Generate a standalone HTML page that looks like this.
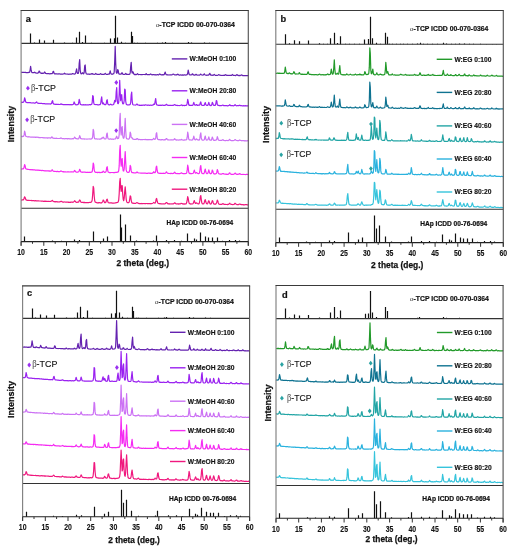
<!DOCTYPE html>
<html><head><meta charset="utf-8"><title>XRD patterns</title>
<style>html,body{margin:0;padding:0;background:#fff;}svg{display:block;}text{font-family:"Liberation Sans", Arial, sans-serif;}</style>
</head><body>
<svg width="512" height="550" viewBox="0 0 512 550">
<rect width="512" height="550" fill="#fff"/>
<path d="M30.5,43.4V33.4M34.5,43.4V42.4M39.5,43.4V39.4M44.5,43.4V40.4M53.5,43.4V39.7M64.5,43.4V42.4M68.5,43.4V42.9M72.5,43.4V42.8M76.5,43.4V37.4M79.5,43.4V31.8M82.5,43.4V42.1M85.5,43.4V35.4M91.5,43.4V42.8M94.5,43.4V42.9M100.5,43.4V42.9M104.5,43.4V42.8M110.5,43.4V38.6M114.5,43.4V38.2M115.5,43.4V15.8M117.5,43.4V37.4M121.5,43.4V41.8M125.5,43.4V42.8M131.5,43.4V31.8M132.5,43.4V35.9M134.5,43.4V42.8M137.5,43.4V42.8M141.5,43.4V42.9M145.5,43.4V42.8M148.5,43.4V42.9M152.5,43.4V42.9M157.5,43.4V42.8M162.5,43.4V42.6M165.5,43.4V41.9M168.5,43.4V42.9M172.5,43.4V42.8M177.5,43.4V42.9M182.5,43.4V42.9M188.5,43.4V41.9M191.5,43.4V42.6M196.5,43.4V42.9M200.5,43.4V42.9M204.5,43.4V42.6M209.5,43.4V42.7M214.5,43.4V42.9M218.5,43.4V42.9M225.5,43.4V42.9M231.5,43.4V43.0M237.5,43.4V43.0M241.5,43.4V43.0" stroke="#111" stroke-width="1.2" fill="none"/>
<path d="M24.5,241.6V236.6M52.5,241.6V240.6M61.5,241.6V240.8M74.5,241.6V239.6M79.5,241.6V240.1M93.5,241.6V231.6M103.5,241.6V238.6M107.5,241.6V236.6M120.5,241.6V214.6M121.5,241.6V227.6M125.5,241.6V224.6M130.5,241.6V235.6M136.5,241.6V240.6M153.5,241.6V240.4M156.5,241.6V235.6M166.5,241.6V240.1M174.5,241.6V240.1M181.5,241.6V240.8M187.5,241.6V233.6M194.5,241.6V238.6M196.5,241.6V239.6M200.5,241.6V232.6M205.5,241.6V236.6M208.5,241.6V237.6M212.5,241.6V237.6M217.5,241.6V237.6M222.5,241.6V240.8M229.5,241.6V240.1M235.5,241.6V240.1M239.5,241.6V240.6" stroke="#111" stroke-width="1.2" fill="none"/>
<path d="M21.1,43.4H248.3M21.1,208.3H248.3" stroke="#333" stroke-width="1.1" fill="none"/>
<path d="M21.1,72.2 L21.6,72.3 L22.1,72.3 L22.6,72.4 L23.1,72.4 L23.6,72.3 L24.1,72.3 L24.6,72.5 L25.1,72.4 L25.6,72.4 L26.1,72.6 L26.6,72.5 L27.1,72.6 L27.6,72.5 L28.1,72.6 L28.6,72.4 L29.1,72.5 L29.6,72.3 L30.1,70.1 L30.6,66.3 L31.1,69.7 L31.6,72.0 L32.1,72.7 L32.6,72.7 L33.1,72.7 L33.6,72.6 L34.1,72.7 L34.6,72.1 L35.1,72.5 L35.6,73.0 L36.1,73.0 L36.6,73.1 L37.1,73.0 L37.6,73.1 L38.1,72.9 L38.6,72.6 L39.1,71.0 L39.6,71.4 L40.1,72.7 L40.6,73.0 L41.1,73.3 L41.6,73.2 L42.1,73.3 L42.6,73.2 L43.1,73.3 L43.6,73.2 L44.1,72.9 L44.6,72.0 L45.1,72.6 L45.6,73.4 L46.1,73.5 L46.6,73.6 L47.1,73.6 L47.6,73.7 L48.1,73.6 L48.6,73.5 L49.1,73.7 L49.6,73.8 L50.1,73.8 L50.6,73.7 L51.1,73.7 L51.6,73.6 L52.1,73.7 L52.6,73.2 L53.1,71.3 L53.6,71.3 L54.1,73.4 L54.6,73.9 L55.1,73.7 L55.6,73.9 L56.1,73.8 L56.6,73.8 L57.1,73.8 L57.6,74.0 L58.1,74.1 L58.6,73.8 L59.1,74.0 L59.6,73.8 L60.1,74.1 L60.6,74.0 L61.1,74.1 L61.6,74.2 L62.1,74.0 L62.6,74.2 L63.1,74.0 L63.6,73.9 L64.1,73.8 L64.6,73.2 L65.1,73.6 L65.6,74.0 L66.1,74.1 L66.6,74.0 L67.1,74.0 L67.6,74.2 L68.1,74.1 L68.6,74.3 L69.1,74.3 L69.6,74.1 L70.1,74.1 L70.6,74.1 L71.1,74.2 L71.6,74.1 L72.1,74.0 L72.6,73.5 L73.1,73.6 L73.6,74.0 L74.1,74.0 L74.6,74.1 L75.1,73.9 L75.6,73.4 L76.1,71.0 L76.6,68.8 L77.1,72.3 L77.6,73.4 L78.2,73.5 L78.7,71.9 L79.2,63.4 L79.7,59.7 L80.2,70.0 L80.7,73.2 L81.2,73.8 L81.7,73.7 L82.2,73.0 L82.7,72.7 L83.2,73.7 L83.7,73.8 L84.2,72.2 L84.7,65.9 L85.2,65.0 L85.7,72.0 L86.2,73.7 L86.7,74.0 L87.2,74.2 L87.7,74.1 L88.2,74.2 L88.7,74.2 L89.2,74.2 L89.7,74.3 L90.2,74.2 L90.7,74.2 L91.2,74.2 L91.7,73.5 L92.2,73.5 L92.7,74.1 L93.2,74.2 L93.7,74.2 L94.2,74.4 L94.7,74.2 L95.2,73.9 L95.7,73.5 L96.2,74.1 L96.7,74.2 L97.2,74.3 L97.7,74.3 L98.2,74.5 L98.7,74.3 L99.2,74.5 L99.7,74.2 L100.2,73.9 L100.7,73.6 L101.2,74.2 L101.7,74.3 L102.2,74.3 L102.7,74.3 L103.2,74.4 L103.7,74.3 L104.2,74.4 L104.7,74.0 L105.2,73.3 L105.7,73.9 L106.2,74.4 L106.7,74.4 L107.2,74.4 L107.7,74.3 L108.2,74.2 L108.7,74.2 L109.2,74.2 L109.7,72.7 L110.2,70.8 L110.7,72.9 L111.2,74.0 L111.7,74.2 L112.2,74.3 L112.7,74.0 L113.2,73.8 L113.7,73.7 L114.2,72.1 L114.7,61.5 L115.2,46.4 L115.7,63.0 L116.2,72.3 L116.7,73.3 L117.2,72.8 L117.7,69.5 L118.2,70.3 L118.7,73.4 L119.2,74.1 L119.7,74.2 L120.2,74.2 L120.7,74.2 L121.2,74.1 L121.7,72.9 L122.2,72.8 L122.7,73.9 L123.2,74.5 L123.7,74.5 L124.2,74.5 L124.7,74.5 L125.2,74.0 L125.7,73.5 L126.2,74.0 L126.7,74.5 L127.2,74.3 L127.7,74.4 L128.2,74.5 L128.7,74.4 L129.2,74.3 L129.7,74.2 L130.2,72.9 L130.7,66.4 L131.2,62.3 L131.7,70.8 L132.2,73.1 L132.7,71.7 L133.2,72.2 L133.7,73.9 L134.2,74.4 L134.7,74.6 L135.2,74.4 L135.7,74.6 L136.2,74.6 L136.7,74.5 L137.2,73.8 L137.7,73.7 L138.2,74.5 L138.7,74.7 L139.2,74.5 L139.7,74.5 L140.2,74.5 L140.7,74.6 L141.2,74.6 L141.7,74.6 L142.2,74.7 L142.7,74.5 L143.2,74.5 L143.7,74.5 L144.2,74.5 L144.7,74.5 L145.2,74.7 L145.7,74.1 L146.2,73.6 L146.7,74.4 L147.2,74.6 L147.7,74.6 L148.2,74.6 L148.7,74.7 L149.2,74.7 L149.7,74.6 L150.2,74.2 L150.7,73.9 L151.2,74.4 L151.7,74.7 L152.2,74.8 L152.7,74.7 L153.2,74.6 L153.7,74.6 L154.2,74.7 L154.7,74.8 L155.2,74.8 L155.7,74.7 L156.2,74.9 L156.7,74.8 L157.2,74.7 L157.7,74.7 L158.2,74.8 L158.7,74.8 L159.2,74.3 L159.7,73.9 L160.2,74.4 L160.7,74.6 L161.2,74.8 L161.7,74.8 L162.2,74.7 L162.7,74.8 L163.2,74.7 L163.7,74.8 L164.2,74.6 L164.7,73.2 L165.2,72.0 L165.7,73.9 L166.2,74.6 L166.7,74.8 L167.2,74.7 L167.7,74.9 L168.2,74.9 L168.7,75.0 L169.2,75.0 L169.7,74.9 L170.2,74.9 L170.7,74.9 L171.2,74.8 L171.7,74.9 L172.2,74.7 L172.7,74.5 L173.2,74.0 L173.7,74.2 L174.2,74.7 L174.7,74.8 L175.2,75.0 L175.7,74.8 L176.2,74.8 L176.7,75.0 L177.2,74.5 L177.7,74.1 L178.2,74.4 L178.7,74.9 L179.2,75.1 L179.7,75.0 L180.2,75.1 L180.7,74.8 L181.2,75.1 L181.7,75.0 L182.2,75.1 L182.7,74.9 L183.2,75.1 L183.7,75.1 L184.2,74.9 L184.7,74.9 L185.2,75.0 L185.7,75.1 L186.2,74.9 L186.7,74.8 L187.2,74.6 L187.7,73.3 L188.2,70.2 L188.7,72.3 L189.2,74.5 L189.7,74.9 L190.2,74.9 L190.7,75.0 L191.2,74.8 L191.8,74.7 L192.3,73.8 L192.8,74.1 L193.3,74.9 L193.8,74.9 L194.3,75.1 L194.8,75.1 L195.3,75.0 L195.8,74.4 L196.3,74.3 L196.8,74.9 L197.3,75.2 L197.8,75.0 L198.3,75.0 L198.8,75.2 L199.3,75.2 L199.8,75.0 L200.3,74.3 L200.8,74.1 L201.3,74.8 L201.8,75.0 L202.3,75.0 L202.8,75.1 L203.3,75.0 L203.8,74.4 L204.3,73.8 L204.8,74.7 L205.3,75.0 L205.8,75.2 L206.3,75.2 L206.8,75.3 L207.3,75.2 L207.8,75.1 L208.3,75.1 L208.8,74.9 L209.3,74.1 L209.8,73.3 L210.3,74.5 L210.8,75.1 L211.3,75.1 L211.8,75.3 L212.3,75.1 L212.8,75.4 L213.3,75.2 L213.8,74.8 L214.3,74.3 L214.8,75.0 L215.3,75.3 L215.8,75.3 L216.3,75.3 L216.8,75.3 L217.3,75.4 L217.8,75.2 L218.3,74.9 L218.8,74.5 L219.3,74.9 L219.8,75.2 L220.3,75.2 L220.8,75.4 L221.3,75.4 L221.8,75.5 L222.3,75.5 L222.8,75.3 L223.3,75.3 L223.8,75.3 L224.3,75.2 L224.8,75.3 L225.3,74.8 L225.8,74.7 L226.3,75.1 L226.8,75.5 L227.3,75.3 L227.8,75.4 L228.3,75.5 L228.8,75.3 L229.3,75.3 L229.8,75.5 L230.3,75.4 L230.8,75.4 L231.3,75.4 L231.8,75.3 L232.3,74.5 L232.8,74.9 L233.3,75.3 L233.8,75.4 L234.3,75.4 L234.8,75.5 L235.3,75.6 L235.8,75.4 L236.3,75.2 L236.8,74.5 L237.3,74.8 L237.8,75.4 L238.3,75.4 L238.8,75.6 L239.3,75.6 L239.8,75.4 L240.3,75.6 L240.8,75.3 L241.3,74.9 L241.8,75.0 L242.3,75.4 L242.8,75.6 L243.3,75.6 L243.8,75.6 L244.3,75.5 L244.8,75.6 L245.3,75.7 L245.8,75.6 L246.3,75.6 L246.8,75.5 L247.3,75.6 L247.8,75.5 L248.3,75.7" stroke="#6422b0" stroke-width="1.2" fill="none" stroke-linejoin="round"/>
<text x="189.5" y="61.3" font-size="7.4" font-weight="bold" fill="#111" stroke="#111" stroke-width="0.15" textLength="46.8" lengthAdjust="spacingAndGlyphs">W:MeOH 0:100</text>
<path d="M171.8,58.9H187.3" stroke="#6422b0" stroke-width="1.4"/>
<path d="M21.1,102.3 L21.6,102.3 L22.1,102.2 L22.6,102.3 L23.1,102.3 L23.6,102.0 L24.1,101.0 L24.6,97.8 L25.1,99.2 L25.6,101.9 L26.1,102.3 L26.6,102.4 L27.1,102.6 L27.6,102.6 L28.1,102.7 L28.6,102.7 L29.1,102.7 L29.6,102.7 L30.1,102.7 L30.6,102.7 L31.1,102.9 L31.6,103.0 L32.1,102.9 L32.6,103.0 L33.1,102.9 L33.6,102.9 L34.1,103.0 L34.6,103.2 L35.1,102.9 L35.6,103.0 L36.1,102.3 L36.6,101.8 L37.1,102.6 L37.6,103.1 L38.1,103.2 L38.6,103.3 L39.1,103.5 L39.6,103.4 L40.1,103.5 L40.6,103.4 L41.1,103.4 L41.6,103.4 L42.1,103.5 L42.6,103.7 L43.1,103.7 L43.6,103.6 L44.1,103.6 L44.6,103.7 L45.1,103.8 L45.6,103.9 L46.1,103.9 L46.6,103.9 L47.1,103.8 L47.6,103.9 L48.1,103.8 L48.6,103.9 L49.1,104.0 L49.6,103.9 L50.1,103.9 L50.6,104.1 L51.1,103.8 L51.6,103.5 L52.1,101.4 L52.6,100.7 L53.1,103.0 L53.6,104.0 L54.1,104.2 L54.6,104.2 L55.1,104.4 L55.6,104.3 L56.1,104.2 L56.6,104.4 L57.1,104.4 L57.6,104.4 L58.1,104.5 L58.6,104.3 L59.1,104.5 L59.6,104.5 L60.1,104.4 L60.6,104.2 L61.1,103.8 L61.6,104.2 L62.1,104.5 L62.6,104.4 L63.1,104.6 L63.6,104.6 L64.1,104.6 L64.6,104.6 L65.1,104.7 L65.6,104.7 L66.1,104.5 L66.6,104.7 L67.1,104.7 L67.6,104.5 L68.1,104.6 L68.6,104.6 L69.1,104.5 L69.6,104.7 L70.1,104.8 L70.6,104.6 L71.1,104.8 L71.6,104.7 L72.1,104.5 L72.6,104.7 L73.1,104.5 L73.6,103.8 L74.1,101.9 L74.6,102.9 L75.1,104.3 L75.6,104.7 L76.1,104.8 L76.6,104.8 L77.1,104.6 L77.6,104.7 L78.2,104.4 L78.7,102.8 L79.2,99.4 L79.7,101.2 L80.2,104.0 L80.7,104.5 L81.2,104.7 L81.7,104.8 L82.2,104.8 L82.7,104.8 L83.2,104.8 L83.7,104.7 L84.2,104.8 L84.7,104.9 L85.2,104.8 L85.7,104.7 L86.2,105.0 L86.7,104.9 L87.2,104.8 L87.7,104.8 L88.2,104.8 L88.7,104.9 L89.2,104.7 L89.7,104.7 L90.2,104.7 L90.7,104.8 L91.2,104.5 L91.7,104.3 L92.2,102.3 L92.7,95.6 L93.2,96.1 L93.7,102.6 L94.2,104.3 L94.7,104.5 L95.2,104.6 L95.7,104.5 L96.2,104.5 L96.7,104.6 L97.2,104.7 L97.7,104.8 L98.2,104.8 L98.7,104.9 L99.2,104.7 L99.7,104.7 L100.2,104.6 L100.7,103.5 L101.2,99.4 L101.7,96.9 L102.2,102.1 L102.7,103.9 L103.2,102.8 L103.7,103.4 L104.2,104.5 L104.7,104.6 L105.2,104.6 L105.7,104.7 L106.2,103.8 L106.7,100.6 L107.2,99.7 L107.7,103.5 L108.2,104.6 L108.7,104.7 L109.2,104.8 L109.7,104.9 L110.2,104.5 L110.7,104.1 L111.2,104.5 L111.7,104.9 L112.2,105.0 L112.7,104.8 L113.2,104.6 L113.7,104.3 L114.2,102.8 L114.7,100.4 L115.2,102.0 L115.7,101.3 L116.2,91.7 L116.7,87.5 L117.2,99.0 L117.7,103.5 L118.2,103.7 L118.7,102.5 L119.2,93.8 L119.7,80.3 L120.2,92.2 L120.7,100.6 L121.2,96.5 L121.7,94.6 L122.2,101.3 L122.7,103.7 L123.2,103.9 L123.7,103.4 L124.2,100.5 L124.7,89.2 L125.2,89.9 L125.7,101.1 L126.2,104.0 L126.7,104.6 L127.2,104.8 L127.7,104.9 L128.2,104.9 L128.7,105.0 L129.2,104.8 L129.7,104.7 L130.2,104.4 L130.7,102.7 L131.2,94.8 L131.7,92.0 L132.2,101.0 L132.7,104.4 L133.2,104.8 L133.7,105.0 L134.2,105.0 L134.7,105.0 L135.2,105.0 L135.7,105.1 L136.2,104.7 L136.7,104.0 L137.2,104.0 L137.7,104.9 L138.2,105.0 L138.7,105.1 L139.2,105.3 L139.7,105.2 L140.2,105.3 L140.7,105.3 L141.2,105.2 L141.7,105.3 L142.2,105.3 L142.7,105.2 L143.2,105.2 L143.7,105.1 L144.2,105.2 L144.7,105.3 L145.2,104.9 L145.7,104.9 L146.2,105.0 L146.7,105.1 L147.2,105.3 L147.7,105.2 L148.2,105.1 L148.7,105.2 L149.2,105.3 L149.7,105.3 L150.2,105.1 L150.7,105.2 L151.2,105.4 L151.7,105.2 L152.2,105.2 L152.7,105.1 L153.2,104.9 L153.7,104.1 L154.2,104.5 L154.7,104.2 L155.2,100.8 L155.7,98.5 L156.2,102.8 L156.7,104.9 L157.2,105.0 L157.7,105.1 L158.2,105.4 L158.7,105.2 L159.2,105.4 L159.7,105.2 L160.2,105.3 L160.7,105.2 L161.2,105.4 L161.7,105.3 L162.2,105.0 L162.7,105.1 L163.2,105.4 L163.7,105.3 L164.2,105.4 L164.7,105.3 L165.2,105.2 L165.7,105.2 L166.2,104.4 L166.7,104.4 L167.2,105.0 L167.7,105.3 L168.2,105.3 L168.7,105.4 L169.2,105.3 L169.7,105.3 L170.2,105.4 L170.7,105.3 L171.2,105.4 L171.7,105.5 L172.2,105.4 L172.7,105.4 L173.2,105.4 L173.7,105.2 L174.2,104.8 L174.7,104.5 L175.2,104.9 L175.7,105.3 L176.2,105.3 L176.7,105.3 L177.2,105.3 L177.7,105.6 L178.2,105.5 L178.7,105.5 L179.2,105.6 L179.7,105.5 L180.2,105.5 L180.7,105.3 L181.2,104.9 L181.7,105.0 L182.2,105.4 L182.7,105.6 L183.2,105.4 L183.7,105.5 L184.2,105.4 L184.7,105.6 L185.2,105.5 L185.7,105.3 L186.2,105.4 L186.7,104.9 L187.2,103.2 L187.7,99.4 L188.2,101.3 L188.7,104.6 L189.2,105.3 L189.7,105.2 L190.2,105.5 L190.7,105.4 L191.2,105.4 L191.8,105.4 L192.3,105.5 L192.8,105.3 L193.3,104.1 L193.8,102.4 L194.3,103.9 L194.8,105.1 L195.3,105.2 L195.8,105.1 L196.3,104.6 L196.8,104.6 L197.3,105.4 L197.8,105.4 L198.3,105.2 L198.8,105.2 L199.3,105.2 L199.8,104.8 L200.3,102.7 L200.8,101.9 L201.3,104.4 L201.8,105.2 L202.3,105.5 L202.8,105.4 L203.3,105.4 L203.8,105.5 L204.3,105.2 L204.8,103.5 L205.3,102.6 L205.8,104.7 L206.3,105.2 L206.8,105.3 L207.3,105.4 L207.8,105.3 L208.3,104.0 L208.8,102.3 L209.3,104.0 L209.8,105.3 L210.3,105.4 L210.8,105.6 L211.3,105.4 L211.8,104.7 L212.3,102.3 L212.8,103.3 L213.3,104.9 L213.8,105.4 L214.3,105.4 L214.8,105.3 L215.3,105.3 L215.8,104.0 L216.3,100.5 L216.8,100.9 L217.3,104.5 L217.8,105.3 L218.3,105.4 L218.8,105.4 L219.3,105.6 L219.8,105.6 L220.3,105.7 L220.8,105.7 L221.3,105.7 L221.8,105.5 L222.3,105.3 L222.8,105.1 L223.3,105.4 L223.8,105.6 L224.3,105.7 L224.8,105.7 L225.3,105.6 L225.8,105.6 L226.3,105.5 L226.8,105.7 L227.3,105.8 L227.8,105.8 L228.3,105.6 L228.8,105.6 L229.3,105.1 L229.8,104.7 L230.3,105.4 L230.8,105.6 L231.3,105.7 L231.8,105.6 L232.3,105.6 L232.8,105.7 L233.3,105.8 L233.8,105.7 L234.3,105.5 L234.8,104.9 L235.3,104.7 L235.8,105.5 L236.3,105.7 L236.8,105.8 L237.3,105.6 L237.8,105.7 L238.3,105.7 L238.8,105.6 L239.3,105.4 L239.8,105.2 L240.3,105.7 L240.8,105.7 L241.3,105.6 L241.8,105.8 L242.3,105.8 L242.8,105.8 L243.3,105.7 L243.8,105.8 L244.3,105.9 L244.8,105.7 L245.3,105.8 L245.8,105.7 L246.3,105.8 L246.8,105.9 L247.3,105.9 L247.8,105.8 L248.3,105.7" stroke="#9a22f0" stroke-width="1.2" fill="none" stroke-linejoin="round"/>
<text x="189.5" y="93.3" font-size="7.4" font-weight="bold" fill="#111" stroke="#111" stroke-width="0.15" textLength="46.8" lengthAdjust="spacingAndGlyphs">W:MeOH 20:80</text>
<path d="M171.8,90.8H187.3" stroke="#9a22f0" stroke-width="1.4"/>
<path d="M21.1,136.6 L21.6,136.4 L22.1,136.4 L22.6,136.6 L23.1,136.4 L23.6,136.2 L24.1,134.9 L24.6,131.2 L25.1,132.8 L25.6,135.8 L26.1,136.5 L26.6,136.5 L27.1,136.7 L27.6,136.9 L28.1,136.7 L28.6,136.8 L29.1,136.8 L29.6,136.8 L30.1,137.0 L30.6,137.1 L31.1,137.1 L31.6,137.1 L32.1,137.2 L32.6,137.0 L33.1,137.1 L33.6,137.3 L34.1,137.1 L34.6,137.2 L35.1,137.3 L35.6,137.2 L36.1,137.3 L36.6,137.2 L37.1,137.1 L37.6,137.3 L38.1,137.3 L38.6,137.6 L39.1,137.4 L39.6,137.7 L40.1,137.6 L40.6,137.6 L41.1,137.5 L41.6,137.5 L42.1,137.7 L42.6,137.6 L43.1,137.6 L43.6,137.9 L44.1,137.9 L44.6,137.7 L45.1,138.0 L45.6,137.9 L46.1,137.9 L46.6,137.8 L47.1,137.9 L47.6,138.1 L48.1,137.9 L48.6,137.9 L49.1,137.9 L49.6,137.9 L50.1,138.0 L50.6,138.2 L51.1,137.8 L51.6,137.1 L52.1,136.9 L52.6,137.9 L53.1,138.3 L53.6,138.2 L54.1,138.2 L54.6,138.4 L55.1,138.3 L55.6,138.4 L56.1,138.3 L56.6,138.2 L57.1,138.4 L57.6,138.5 L58.1,138.5 L58.6,138.5 L59.1,138.5 L59.6,138.5 L60.1,138.4 L60.6,138.1 L61.1,137.9 L61.6,138.2 L62.1,138.6 L62.6,138.7 L63.1,138.7 L63.6,138.5 L64.1,138.8 L64.6,138.8 L65.1,138.6 L65.6,138.6 L66.1,138.6 L66.6,138.6 L67.1,138.8 L67.6,138.7 L68.1,138.8 L68.6,138.6 L69.1,138.6 L69.6,138.9 L70.1,138.8 L70.6,138.9 L71.1,138.8 L71.6,138.8 L72.1,138.9 L72.6,138.6 L73.1,138.8 L73.6,138.7 L74.1,138.1 L74.6,137.1 L75.1,137.6 L75.6,138.5 L76.1,138.7 L76.6,138.7 L77.1,138.8 L77.6,138.8 L78.2,138.9 L78.7,138.7 L79.2,137.6 L79.7,135.6 L80.2,136.9 L80.7,138.7 L81.2,138.7 L81.7,138.8 L82.2,138.9 L82.7,139.0 L83.2,138.9 L83.7,139.0 L84.2,138.9 L84.7,139.1 L85.2,139.0 L85.7,139.0 L86.2,139.0 L86.7,139.1 L87.2,139.1 L87.7,139.0 L88.2,139.0 L88.7,139.0 L89.2,138.9 L89.7,139.0 L90.2,139.1 L90.7,139.0 L91.2,138.8 L91.7,138.9 L92.2,138.4 L92.7,136.3 L93.2,129.3 L93.7,131.0 L94.2,137.2 L94.7,138.7 L95.2,138.8 L95.7,139.0 L96.2,138.9 L96.7,138.9 L97.2,139.0 L97.7,139.1 L98.2,139.0 L98.7,139.0 L99.2,139.1 L99.7,139.2 L100.2,139.1 L100.7,138.9 L101.2,138.8 L101.7,138.1 L102.2,137.9 L102.7,138.1 L103.2,137.1 L103.7,137.6 L104.2,138.7 L104.7,138.9 L105.2,139.0 L105.7,139.0 L106.2,137.9 L106.7,134.1 L107.2,133.1 L107.7,137.5 L108.2,138.9 L108.7,139.0 L109.2,139.1 L109.7,139.0 L110.2,139.1 L110.7,138.8 L111.2,139.1 L111.7,139.3 L112.2,139.1 L112.7,139.1 L113.2,139.3 L113.7,139.2 L114.2,139.0 L114.7,139.0 L115.2,139.0 L115.7,138.5 L116.2,137.1 L116.7,136.2 L117.2,138.0 L117.7,138.6 L118.2,138.5 L118.7,137.9 L119.2,134.6 L119.7,119.6 L120.2,113.4 L120.7,130.4 L121.2,135.0 L121.7,127.9 L122.2,126.6 L122.7,135.3 L123.2,138.0 L123.7,138.3 L124.2,136.7 L124.7,128.2 L125.2,118.3 L125.7,130.2 L126.2,137.6 L126.7,138.7 L127.2,138.8 L127.7,139.0 L128.2,139.1 L128.7,139.1 L129.2,138.7 L129.7,137.1 L130.2,132.1 L130.7,133.5 L131.2,137.5 L131.7,137.9 L132.2,137.8 L132.7,138.9 L133.2,139.1 L133.7,139.3 L134.2,139.4 L134.7,139.5 L135.2,139.4 L135.7,139.3 L136.2,139.4 L136.7,138.7 L137.2,138.5 L137.7,139.1 L138.2,139.4 L138.7,139.6 L139.2,139.4 L139.7,139.5 L140.2,139.6 L140.7,139.5 L141.2,139.6 L141.7,139.7 L142.2,139.7 L142.7,139.7 L143.2,139.5 L143.7,139.5 L144.2,139.6 L144.7,139.5 L145.2,139.4 L145.7,139.6 L146.2,139.5 L146.7,139.7 L147.2,139.8 L147.7,139.5 L148.2,139.8 L148.7,139.6 L149.2,139.6 L149.7,139.6 L150.2,139.5 L150.7,139.7 L151.2,139.6 L151.7,139.8 L152.2,139.7 L152.7,139.4 L153.2,139.1 L153.7,138.3 L154.2,138.8 L154.7,139.3 L155.2,139.2 L155.7,138.3 L156.2,133.6 L156.7,132.7 L157.2,137.7 L157.7,139.3 L158.2,139.6 L158.7,139.6 L159.2,139.8 L159.7,139.6 L160.2,139.8 L160.7,139.8 L161.2,139.7 L161.7,139.8 L162.2,139.6 L162.7,139.7 L163.2,139.8 L163.7,139.8 L164.2,139.8 L164.7,139.7 L165.2,139.8 L165.7,139.6 L166.2,138.6 L166.7,138.5 L167.2,139.4 L167.7,139.9 L168.2,139.9 L168.7,139.8 L169.2,140.0 L169.7,140.0 L170.2,139.8 L170.7,140.0 L171.2,139.9 L171.7,139.8 L172.2,140.0 L172.7,139.9 L173.2,140.0 L173.7,139.8 L174.2,139.1 L174.7,138.6 L175.2,139.5 L175.7,139.8 L176.2,139.9 L176.7,140.1 L177.2,139.9 L177.7,140.0 L178.2,140.0 L178.7,140.1 L179.2,139.9 L179.7,139.9 L180.2,140.0 L180.7,139.9 L181.2,139.3 L181.7,139.5 L182.2,140.0 L182.7,140.0 L183.2,140.1 L183.7,140.1 L184.2,140.1 L184.7,139.9 L185.2,139.8 L185.7,140.0 L186.2,139.9 L186.7,139.5 L187.2,137.2 L187.7,132.0 L188.2,134.7 L188.7,139.0 L189.2,139.8 L189.7,139.9 L190.2,139.9 L190.7,140.0 L191.2,140.0 L191.8,140.1 L192.3,139.9 L192.8,139.7 L193.3,138.3 L193.8,136.1 L194.3,138.2 L194.8,139.6 L195.3,139.8 L195.8,139.8 L196.3,138.9 L196.8,139.0 L197.3,139.7 L197.8,139.9 L198.3,139.9 L198.8,140.1 L199.3,139.9 L199.8,138.9 L200.3,134.6 L200.8,132.8 L201.3,137.9 L201.8,139.7 L202.3,140.1 L202.8,140.0 L203.3,140.2 L203.8,140.0 L204.3,139.6 L204.8,137.3 L205.3,136.1 L205.8,138.7 L206.3,140.0 L206.8,140.1 L207.3,140.0 L207.8,139.8 L208.3,138.8 L208.8,136.9 L209.3,138.7 L209.8,140.1 L210.3,140.0 L210.8,140.2 L211.3,140.2 L211.8,139.1 L212.3,137.0 L212.8,138.2 L213.3,139.8 L213.8,140.3 L214.3,140.2 L214.8,140.4 L215.3,140.2 L215.8,140.1 L216.3,139.9 L216.8,139.2 L217.3,136.7 L217.8,137.9 L218.3,139.9 L218.8,140.3 L219.3,140.5 L219.8,140.3 L220.3,140.4 L220.8,140.5 L221.3,140.4 L221.8,140.3 L222.3,140.1 L222.8,139.7 L223.3,139.9 L223.8,140.5 L224.3,140.5 L224.8,140.6 L225.3,140.6 L225.8,140.6 L226.3,140.5 L226.8,140.4 L227.3,140.5 L227.8,140.6 L228.3,140.6 L228.8,140.3 L229.3,139.6 L229.8,139.4 L230.3,140.2 L230.8,140.5 L231.3,140.6 L231.8,140.5 L232.3,140.6 L232.8,140.6 L233.3,140.6 L233.8,140.5 L234.3,140.3 L234.8,139.7 L235.3,139.5 L235.8,140.2 L236.3,140.4 L236.8,140.5 L237.3,140.7 L237.8,140.6 L238.3,140.6 L238.8,140.7 L239.3,140.2 L239.8,139.9 L240.3,140.5 L240.8,140.5 L241.3,140.6 L241.8,140.8 L242.3,140.6 L242.8,140.6 L243.3,140.7 L243.8,140.7 L244.3,140.9 L244.8,140.6 L245.3,140.9 L245.8,140.7 L246.3,140.9 L246.8,140.8 L247.3,140.8 L247.8,140.7 L248.3,140.7" stroke="#cc72f4" stroke-width="1.2" fill="none" stroke-linejoin="round"/>
<text x="189.5" y="126.9" font-size="7.4" font-weight="bold" fill="#111" stroke="#111" stroke-width="0.15" textLength="46.8" lengthAdjust="spacingAndGlyphs">W:MeOH 40:60</text>
<path d="M171.8,124.4H187.3" stroke="#cc72f4" stroke-width="1.4"/>
<path d="M21.1,168.9 L21.6,169.1 L22.1,168.9 L22.6,168.9 L23.1,168.9 L23.6,168.6 L24.1,167.1 L24.6,164.5 L25.1,165.7 L25.6,168.3 L26.1,169.0 L26.6,169.1 L27.1,169.2 L27.6,169.3 L28.1,169.3 L28.6,169.5 L29.1,169.5 L29.6,169.6 L30.1,169.6 L30.6,169.7 L31.1,169.8 L31.6,169.7 L32.1,169.7 L32.6,169.8 L33.1,169.7 L33.6,170.0 L34.1,169.9 L34.6,169.8 L35.1,170.1 L35.6,170.1 L36.1,170.1 L36.6,170.1 L37.1,170.0 L37.6,170.3 L38.1,170.1 L38.6,170.2 L39.1,170.5 L39.6,170.2 L40.1,170.4 L40.6,170.4 L41.1,170.4 L41.6,170.6 L42.1,170.5 L42.6,170.4 L43.1,170.6 L43.6,170.5 L44.1,170.7 L44.6,170.8 L45.1,170.9 L45.6,170.7 L46.1,170.9 L46.6,170.8 L47.1,170.9 L47.6,170.9 L48.1,170.9 L48.6,170.9 L49.1,171.1 L49.6,170.9 L50.1,171.2 L50.6,170.9 L51.1,171.2 L51.6,170.5 L52.1,169.7 L52.6,170.4 L53.1,171.0 L53.6,171.3 L54.1,171.3 L54.6,171.4 L55.1,171.3 L55.6,171.5 L56.1,171.5 L56.6,171.6 L57.1,171.4 L57.6,171.4 L58.1,171.6 L58.6,171.7 L59.1,171.6 L59.6,171.7 L60.1,171.5 L60.6,171.1 L61.1,170.9 L61.6,171.3 L62.1,171.5 L62.6,171.7 L63.1,171.8 L63.6,171.7 L64.1,171.8 L64.6,171.8 L65.1,171.8 L65.6,171.9 L66.1,172.0 L66.6,172.0 L67.1,171.9 L67.6,171.8 L68.1,171.9 L68.6,171.8 L69.1,171.9 L69.6,172.0 L70.1,172.0 L70.6,171.9 L71.1,171.9 L71.6,171.9 L72.1,171.9 L72.6,172.0 L73.1,171.9 L73.6,172.0 L74.1,171.3 L74.6,170.4 L75.1,171.0 L75.6,171.7 L76.1,172.1 L76.6,172.1 L77.1,172.0 L77.6,172.1 L78.2,172.0 L78.7,171.8 L79.2,170.8 L79.7,169.3 L80.2,170.5 L80.7,171.8 L81.2,172.1 L81.7,172.0 L82.2,172.3 L82.7,172.2 L83.2,172.2 L83.7,172.2 L84.2,172.2 L84.7,172.2 L85.2,172.2 L85.7,172.3 L86.2,172.4 L86.7,172.4 L87.2,172.2 L87.7,172.4 L88.2,172.4 L88.7,172.4 L89.2,172.4 L89.7,172.2 L90.2,172.4 L90.7,172.4 L91.2,172.1 L91.7,172.1 L92.2,171.7 L92.7,168.7 L93.2,163.0 L93.7,164.4 L94.2,169.8 L94.7,171.7 L95.2,172.1 L95.7,172.4 L96.2,172.3 L96.7,172.3 L97.2,172.4 L97.7,172.6 L98.2,172.4 L98.7,172.3 L99.2,172.6 L99.7,172.4 L100.2,172.5 L100.7,172.6 L101.2,172.4 L101.7,172.3 L102.2,172.5 L102.7,171.9 L103.2,171.1 L103.7,171.5 L104.2,172.1 L104.7,172.5 L105.2,172.3 L105.7,172.1 L106.2,170.9 L106.7,167.5 L107.2,166.7 L107.7,170.3 L108.2,172.1 L108.7,172.3 L109.2,172.6 L109.7,172.7 L110.2,172.6 L110.7,172.7 L111.2,172.5 L111.7,172.5 L112.2,172.5 L112.7,172.5 L113.2,172.7 L113.7,172.7 L114.2,172.7 L114.7,172.6 L115.2,172.4 L115.7,172.5 L116.2,172.3 L116.7,172.5 L117.2,172.2 L117.7,172.1 L118.2,171.9 L118.7,170.8 L119.2,165.9 L119.7,150.5 L120.2,145.3 L120.7,160.8 L121.2,166.2 L121.7,159.5 L122.2,158.6 L122.7,167.2 L123.2,170.8 L123.7,171.1 L124.2,168.9 L124.7,160.1 L125.2,151.5 L125.7,162.0 L126.2,169.9 L126.7,171.7 L127.2,172.2 L127.7,172.3 L128.2,172.4 L128.7,172.4 L129.2,172.0 L129.7,169.9 L130.2,165.4 L130.7,166.6 L131.2,170.9 L131.7,172.3 L132.2,172.7 L132.7,172.7 L133.2,172.7 L133.7,172.8 L134.2,173.0 L134.7,172.9 L135.2,172.9 L135.7,172.9 L136.2,172.8 L136.7,172.0 L137.2,172.0 L137.7,172.6 L138.2,172.8 L138.7,173.0 L139.2,173.0 L139.7,173.0 L140.2,173.0 L140.7,173.1 L141.2,173.1 L141.7,173.0 L142.2,173.2 L142.7,173.0 L143.2,173.2 L143.7,173.0 L144.2,173.2 L144.7,173.1 L145.2,173.0 L145.7,173.2 L146.2,173.3 L146.7,173.3 L147.2,173.3 L147.7,173.3 L148.2,173.0 L148.7,173.1 L149.2,173.1 L149.7,173.3 L150.2,173.2 L150.7,173.3 L151.2,173.3 L151.7,173.3 L152.2,173.2 L152.7,173.1 L153.2,172.5 L153.7,171.7 L154.2,172.4 L154.7,172.7 L155.2,172.6 L155.7,171.3 L156.2,166.8 L156.7,166.2 L157.2,170.5 L157.7,172.6 L158.2,173.1 L158.7,173.0 L159.2,173.2 L159.7,173.4 L160.2,173.2 L160.7,173.4 L161.2,173.4 L161.7,173.4 L162.2,173.4 L162.7,173.4 L163.2,173.2 L163.7,173.3 L164.2,173.4 L164.7,173.5 L165.2,173.2 L165.7,173.0 L166.2,171.9 L166.7,172.1 L167.2,172.9 L167.7,173.3 L168.2,173.5 L168.7,173.3 L169.2,173.5 L169.7,173.5 L170.2,173.6 L170.7,173.4 L171.2,173.4 L171.7,173.4 L172.2,173.6 L172.7,173.5 L173.2,173.4 L173.7,173.3 L174.2,172.7 L174.7,172.1 L175.2,172.8 L175.7,173.5 L176.2,173.6 L176.7,173.5 L177.2,173.4 L177.7,173.7 L178.2,173.6 L178.7,173.6 L179.2,173.5 L179.7,173.7 L180.2,173.5 L180.7,173.3 L181.2,172.8 L181.7,172.8 L182.2,173.4 L182.7,173.5 L183.2,173.7 L183.7,173.6 L184.2,173.6 L184.7,173.6 L185.2,173.6 L185.7,173.5 L186.2,173.4 L186.7,172.8 L187.2,169.9 L187.7,165.1 L188.2,167.3 L188.7,172.0 L189.2,173.2 L189.7,173.6 L190.2,173.4 L190.7,173.6 L191.2,173.6 L191.8,173.7 L192.3,173.5 L192.8,173.5 L193.3,173.1 L193.8,171.6 L194.3,170.1 L194.8,171.7 L195.3,173.1 L195.8,173.1 L196.3,172.6 L196.8,172.5 L197.3,173.3 L197.8,173.5 L198.3,173.7 L198.8,173.6 L199.3,173.3 L199.8,171.5 L200.3,167.0 L200.8,165.5 L201.3,170.4 L201.8,173.1 L202.3,173.5 L202.8,173.6 L203.3,173.7 L203.8,173.6 L204.3,172.8 L204.8,170.4 L205.3,169.0 L205.8,171.8 L206.3,173.2 L206.8,173.7 L207.3,173.6 L207.8,173.3 L208.3,171.7 L208.8,169.8 L209.3,171.6 L209.8,173.2 L210.3,173.6 L210.8,173.8 L211.3,173.5 L211.8,172.2 L212.3,170.0 L212.8,171.0 L213.3,173.0 L213.8,173.8 L214.3,173.8 L214.8,174.1 L215.3,173.8 L215.8,173.8 L216.3,173.5 L216.8,172.2 L217.3,169.6 L217.8,170.7 L218.3,173.0 L218.8,173.8 L219.3,174.0 L219.8,173.9 L220.3,174.2 L220.8,174.2 L221.3,174.2 L221.8,174.1 L222.3,173.8 L222.8,173.5 L223.3,173.5 L223.8,174.0 L224.3,174.0 L224.8,174.1 L225.3,174.3 L225.8,174.1 L226.3,174.3 L226.8,174.2 L227.3,174.3 L227.8,174.3 L228.3,174.2 L228.8,174.1 L229.3,173.1 L229.8,172.8 L230.3,173.6 L230.8,174.1 L231.3,174.3 L231.8,174.4 L232.3,174.3 L232.8,174.4 L233.3,174.3 L233.8,174.2 L234.3,174.0 L234.8,173.3 L235.3,173.1 L235.8,173.8 L236.3,174.2 L236.8,174.3 L237.3,174.2 L237.8,174.4 L238.3,174.2 L238.8,174.2 L239.3,173.8 L239.8,173.5 L240.3,174.1 L240.8,174.3 L241.3,174.5 L241.8,174.5 L242.3,174.4 L242.8,174.5 L243.3,174.5 L243.8,174.3 L244.3,174.5 L244.8,174.5 L245.3,174.6 L245.8,174.5 L246.3,174.4 L246.8,174.4 L247.3,174.5 L247.8,174.4 L248.3,174.6" stroke="#f52cf2" stroke-width="1.2" fill="none" stroke-linejoin="round"/>
<text x="189.5" y="159.9" font-size="7.4" font-weight="bold" fill="#111" stroke="#111" stroke-width="0.15" textLength="46.8" lengthAdjust="spacingAndGlyphs">W:MeOH 60:40</text>
<path d="M171.8,157.5H187.3" stroke="#f52cf2" stroke-width="1.4"/>
<path d="M21.1,200.0 L21.6,200.1 L22.1,199.9 L22.6,199.9 L23.1,200.0 L23.6,199.5 L24.1,198.2 L24.6,196.8 L25.1,197.4 L25.6,199.1 L26.1,199.9 L26.6,200.1 L27.1,200.3 L27.6,200.4 L28.1,200.4 L28.6,200.3 L29.1,200.3 L29.6,200.5 L30.1,200.5 L30.6,200.5 L31.1,200.4 L31.6,200.6 L32.1,200.6 L32.6,200.5 L33.1,200.6 L33.6,200.6 L34.1,200.7 L34.6,200.8 L35.1,200.9 L35.6,200.6 L36.1,200.8 L36.6,200.9 L37.1,200.9 L37.6,200.9 L38.1,201.0 L38.6,200.8 L39.1,201.0 L39.6,201.0 L40.1,201.0 L40.6,201.0 L41.1,201.1 L41.6,201.0 L42.1,201.1 L42.6,201.1 L43.1,201.3 L43.6,201.3 L44.1,201.2 L44.6,201.3 L45.1,201.2 L45.6,201.3 L46.1,201.2 L46.6,201.4 L47.1,201.4 L47.6,201.5 L48.1,201.3 L48.6,201.5 L49.1,201.3 L49.6,201.5 L50.1,201.5 L50.6,201.3 L51.1,201.3 L51.6,200.9 L52.1,200.4 L52.6,200.6 L53.1,201.3 L53.6,201.5 L54.1,201.8 L54.6,201.7 L55.1,201.6 L55.6,201.9 L56.1,201.6 L56.6,201.7 L57.1,201.9 L57.6,201.7 L58.1,201.9 L58.6,202.0 L59.1,201.9 L59.6,201.8 L60.1,201.8 L60.6,201.5 L61.1,201.2 L61.6,201.5 L62.1,201.8 L62.6,201.9 L63.1,202.2 L63.6,202.2 L64.1,201.9 L64.6,202.0 L65.1,202.0 L65.6,202.2 L66.1,202.0 L66.6,202.1 L67.1,202.2 L67.6,202.1 L68.1,202.3 L68.6,202.2 L69.1,202.3 L69.6,202.3 L70.1,202.2 L70.6,202.3 L71.1,202.2 L71.6,202.2 L72.1,202.1 L72.6,202.3 L73.1,202.2 L73.6,201.9 L74.1,201.5 L74.6,200.7 L75.1,201.2 L75.6,201.8 L76.1,202.2 L76.6,202.4 L77.1,202.3 L77.6,202.2 L78.2,202.2 L78.7,201.9 L79.2,200.8 L79.7,200.0 L80.2,200.4 L80.7,201.8 L81.2,202.3 L81.7,202.5 L82.2,202.4 L82.7,202.4 L83.2,202.4 L83.7,202.6 L84.2,202.4 L84.7,202.4 L85.2,202.7 L85.7,202.7 L86.2,202.7 L86.7,202.7 L87.2,202.6 L87.7,202.7 L88.2,202.6 L88.7,202.6 L89.2,202.5 L89.7,202.4 L90.2,202.3 L90.7,202.3 L91.2,202.2 L91.7,201.6 L92.2,200.0 L92.7,194.1 L93.2,186.4 L93.7,188.0 L94.2,196.0 L94.7,200.8 L95.2,202.1 L95.7,202.3 L96.2,202.4 L96.7,202.7 L97.2,202.8 L97.7,202.8 L98.2,202.7 L98.7,202.8 L99.2,202.7 L99.7,202.7 L100.2,202.8 L100.7,202.9 L101.2,202.7 L101.7,202.8 L102.2,202.3 L102.7,201.5 L103.2,200.0 L103.7,200.5 L104.2,201.9 L104.7,202.7 L105.2,202.7 L105.7,202.5 L106.2,201.3 L106.7,199.6 L107.2,199.1 L107.7,201.2 L108.2,202.4 L108.7,202.7 L109.2,203.0 L109.7,202.9 L110.2,202.9 L110.7,202.9 L111.2,202.9 L111.7,202.9 L112.2,203.1 L112.7,203.2 L113.2,203.0 L113.7,203.1 L114.2,203.1 L114.7,203.0 L115.2,202.9 L115.7,202.8 L116.2,202.7 L116.7,202.7 L117.2,202.5 L117.7,202.4 L118.2,201.8 L118.7,200.0 L119.2,193.6 L119.7,181.9 L120.2,178.3 L120.7,187.8 L121.2,191.5 L121.7,185.8 L122.2,185.6 L122.7,194.0 L123.2,199.4 L123.7,200.7 L124.2,198.1 L124.7,191.6 L125.2,186.9 L125.7,192.8 L126.2,199.3 L126.7,201.7 L127.2,202.5 L127.7,202.7 L128.2,202.7 L128.7,202.7 L129.2,202.0 L129.7,199.3 L130.2,195.8 L130.7,196.4 L131.2,200.3 L131.7,202.4 L132.2,203.1 L132.7,203.0 L133.2,203.1 L133.7,203.4 L134.2,203.3 L134.7,203.4 L135.2,203.4 L135.7,203.3 L136.2,203.0 L136.7,202.6 L137.2,202.7 L137.7,203.0 L138.2,203.4 L138.7,203.4 L139.2,203.6 L139.7,203.6 L140.2,203.6 L140.7,203.7 L141.2,203.4 L141.7,203.7 L142.2,203.6 L142.7,203.5 L143.2,203.6 L143.7,203.5 L144.2,203.5 L144.7,203.7 L145.2,203.7 L145.7,203.7 L146.2,203.5 L146.7,203.5 L147.2,203.6 L147.7,203.7 L148.2,203.7 L148.7,203.6 L149.2,203.7 L149.7,203.7 L150.2,203.6 L150.7,203.8 L151.2,203.5 L151.7,203.7 L152.2,203.5 L152.7,203.3 L153.2,202.9 L153.7,202.4 L154.2,202.7 L154.7,203.1 L155.2,203.1 L155.7,201.6 L156.2,198.9 L156.7,198.5 L157.2,201.3 L157.7,202.9 L158.2,203.4 L158.7,203.5 L159.2,203.8 L159.7,203.6 L160.2,203.7 L160.7,203.8 L161.2,203.8 L161.7,203.9 L162.2,204.0 L162.7,203.9 L163.2,203.9 L163.7,203.9 L164.2,203.8 L164.7,203.8 L165.2,203.7 L165.7,203.3 L166.2,202.5 L166.7,202.5 L167.2,203.1 L167.7,203.7 L168.2,204.0 L168.7,203.7 L169.2,203.8 L169.7,204.1 L170.2,203.8 L170.7,204.0 L171.2,204.0 L171.7,203.8 L172.2,204.0 L172.7,203.8 L173.2,204.0 L173.7,203.6 L174.2,203.2 L174.7,202.8 L175.2,203.1 L175.7,203.7 L176.2,203.8 L176.7,204.0 L177.2,203.9 L177.7,203.9 L178.2,203.9 L178.7,204.1 L179.2,203.9 L179.7,203.9 L180.2,203.9 L180.7,203.7 L181.2,203.3 L181.7,203.5 L182.2,203.6 L182.7,203.9 L183.2,204.1 L183.7,203.9 L184.2,203.9 L184.7,204.1 L185.2,203.9 L185.7,204.0 L186.2,203.7 L186.7,202.6 L187.2,199.9 L187.7,196.7 L188.2,198.3 L188.7,201.6 L189.2,203.3 L189.7,203.7 L190.2,203.8 L190.7,204.1 L191.2,203.9 L191.8,204.0 L192.3,204.0 L192.8,203.8 L193.3,203.2 L193.8,201.7 L194.3,200.6 L194.8,202.0 L195.3,203.3 L195.8,203.3 L196.3,202.8 L196.8,203.0 L197.3,203.4 L197.8,203.7 L198.3,203.9 L198.8,203.8 L199.3,203.1 L199.8,200.7 L200.3,196.8 L200.8,195.5 L201.3,199.6 L201.8,202.8 L202.3,203.7 L202.8,203.9 L203.3,203.8 L203.8,203.7 L204.3,202.5 L204.8,200.3 L205.3,199.7 L205.8,201.8 L206.3,203.2 L206.8,203.8 L207.3,204.0 L207.8,203.2 L208.3,201.7 L208.8,200.7 L209.3,201.8 L209.8,203.4 L210.3,204.0 L210.8,204.1 L211.3,203.6 L211.8,202.1 L212.3,200.6 L212.8,201.2 L213.3,203.0 L213.8,203.9 L214.3,204.1 L214.8,204.1 L215.3,204.3 L215.8,204.0 L216.3,203.4 L216.8,202.1 L217.3,200.1 L217.8,201.0 L218.3,202.9 L218.8,203.9 L219.3,204.2 L219.8,204.4 L220.3,204.3 L220.8,204.5 L221.3,204.3 L221.8,204.4 L222.3,203.9 L222.8,203.7 L223.3,203.8 L223.8,204.2 L224.3,204.4 L224.8,204.4 L225.3,204.5 L225.8,204.4 L226.3,204.5 L226.8,204.5 L227.3,204.6 L227.8,204.4 L228.3,204.4 L228.8,204.2 L229.3,203.6 L229.8,203.2 L230.3,204.0 L230.8,204.2 L231.3,204.4 L231.8,204.4 L232.3,204.5 L232.8,204.7 L233.3,204.5 L233.8,204.4 L234.3,204.2 L234.8,203.4 L235.3,203.3 L235.8,204.0 L236.3,204.3 L236.8,204.6 L237.3,204.5 L237.8,204.6 L238.3,204.7 L238.8,204.4 L239.3,204.0 L239.8,204.0 L240.3,204.3 L240.8,204.4 L241.3,204.6 L241.8,204.7 L242.3,204.7 L242.8,204.7 L243.3,204.8 L243.8,204.7 L244.3,204.9 L244.8,204.7 L245.3,204.7 L245.8,204.6 L246.3,204.7 L246.8,204.7 L247.3,204.9 L247.8,204.8 L248.3,204.8" stroke="#f0187e" stroke-width="1.2" fill="none" stroke-linejoin="round"/>
<text x="189.5" y="191.6" font-size="7.4" font-weight="bold" fill="#111" stroke="#111" stroke-width="0.15" textLength="46.8" lengthAdjust="spacingAndGlyphs">W:MeOH 80:20</text>
<path d="M171.8,189.2H187.3" stroke="#f0187e" stroke-width="1.4"/>
<path d="M21.1,245.8V10.5" stroke="#808080" stroke-width="1.15" fill="none"/>
<path d="M248.3,10.5V245.8" stroke="#555" stroke-width="1.15" fill="none"/>
<path d="M20.6,10.5H248.8" stroke="#3a3a3a" stroke-width="1.15" fill="none"/>
<path d="M21.1,241.6H248.3" stroke="#222" stroke-width="1.1" fill="none"/>
<path d="M21.1,241.6V245.8M32.5,241.6V243.8M43.8,241.6V245.8M55.2,241.6V243.8M66.5,241.6V245.8M77.9,241.6V243.8M89.3,241.6V245.8M100.6,241.6V243.8M112.0,241.6V245.8M123.3,241.6V243.8M134.7,241.6V245.8M146.1,241.6V243.8M157.4,241.6V245.8M168.8,241.6V243.8M180.1,241.6V245.8M191.5,241.6V243.8M202.9,241.6V245.8M214.2,241.6V243.8M225.6,241.6V245.8M236.9,241.6V243.8M248.3,241.6V245.8" stroke="#333" stroke-width="1" fill="none"/>
<text x="17.2" y="255.0" font-size="8.2" font-weight="bold" fill="#111" stroke="#111" stroke-width="0.1" textLength="7.7" lengthAdjust="spacingAndGlyphs">10</text>
<text x="40.0" y="255.0" font-size="8.2" font-weight="bold" fill="#111" stroke="#111" stroke-width="0.1" textLength="7.7" lengthAdjust="spacingAndGlyphs">15</text>
<text x="62.7" y="255.0" font-size="8.2" font-weight="bold" fill="#111" stroke="#111" stroke-width="0.1" textLength="7.7" lengthAdjust="spacingAndGlyphs">20</text>
<text x="85.4" y="255.0" font-size="8.2" font-weight="bold" fill="#111" stroke="#111" stroke-width="0.1" textLength="7.7" lengthAdjust="spacingAndGlyphs">25</text>
<text x="108.1" y="255.0" font-size="8.2" font-weight="bold" fill="#111" stroke="#111" stroke-width="0.1" textLength="7.7" lengthAdjust="spacingAndGlyphs">30</text>
<text x="130.9" y="255.0" font-size="8.2" font-weight="bold" fill="#111" stroke="#111" stroke-width="0.1" textLength="7.7" lengthAdjust="spacingAndGlyphs">35</text>
<text x="153.6" y="255.0" font-size="8.2" font-weight="bold" fill="#111" stroke="#111" stroke-width="0.1" textLength="7.7" lengthAdjust="spacingAndGlyphs">40</text>
<text x="176.3" y="255.0" font-size="8.2" font-weight="bold" fill="#111" stroke="#111" stroke-width="0.1" textLength="7.7" lengthAdjust="spacingAndGlyphs">45</text>
<text x="199.0" y="255.0" font-size="8.2" font-weight="bold" fill="#111" stroke="#111" stroke-width="0.1" textLength="7.7" lengthAdjust="spacingAndGlyphs">50</text>
<text x="221.7" y="255.0" font-size="8.2" font-weight="bold" fill="#111" stroke="#111" stroke-width="0.1" textLength="7.7" lengthAdjust="spacingAndGlyphs">55</text>
<text x="244.5" y="255.0" font-size="8.2" font-weight="bold" fill="#111" stroke="#111" stroke-width="0.1" textLength="7.7" lengthAdjust="spacingAndGlyphs">60</text>
<text x="25.8" y="21.5" font-size="9.3" font-weight="bold" fill="#111" stroke="#111" stroke-width="0.2">a</text>
<text x="155.7" y="27.1" font-size="6.85" font-weight="bold" fill="#111" stroke="#111" stroke-width="0.2" textLength="79.2" lengthAdjust="spacingAndGlyphs"><tspan font-family="Liberation Serif, serif" font-weight="normal" fill="#444" stroke="none" font-size="7">α</tspan>-TCP ICDD 00-070-0364</text>
<text x="166.4" y="224.6" font-size="6.6" font-weight="bold" fill="#111" stroke="#111" stroke-width="0.2" textLength="66.8" lengthAdjust="spacingAndGlyphs">HAp ICDD 00-76-0694</text>
<text x="116.4" y="265.8" font-size="8.5" font-weight="bold" fill="#111" stroke="#111" stroke-width="0.25" textLength="52.7" lengthAdjust="spacingAndGlyphs">2 theta (deg.)</text>
<text transform="translate(13.8,142.2) rotate(-90)" font-size="8.3" font-weight="bold" fill="#111" stroke="#111" stroke-width="0.25" textLength="36.4" lengthAdjust="spacingAndGlyphs">Intensity</text>
<path d="M27.9,85.8l1.9,2.4l-1.9,2.4l-1.9,-2.4z" fill="#9b30f0"/>
<text x="31.0" y="90.5" font-size="9.8" fill="#111" stroke="#111" stroke-width="0.14" textLength="25.0" lengthAdjust="spacingAndGlyphs"><tspan fill="#555" stroke="#555" stroke-width="0.1" font-family="Liberation Serif, serif" font-size="9.5">β</tspan>-TCP</text>
<path d="M116.3,80.1l1.9,2.4l-1.9,2.4l-1.9,-2.4z" fill="#9b30f0"/>
<path d="M27.1,117.4l1.9,2.4l-1.9,2.4l-1.9,-2.4z" fill="#9b30f0"/>
<text x="30.2" y="122.1" font-size="9.8" fill="#111" stroke="#111" stroke-width="0.14" textLength="25.0" lengthAdjust="spacingAndGlyphs"><tspan fill="#555" stroke="#555" stroke-width="0.1" font-family="Liberation Serif, serif" font-size="9.5">β</tspan>-TCP</text>
<path d="M116.2,128.2l1.9,2.4l-1.9,2.4l-1.9,-2.4z" fill="#9b30f0"/>
<path d="M285.5,44.3V34.3M289.5,44.3V43.3M294.5,44.3V40.3M299.5,44.3V41.3M308.5,44.3V40.6M319.5,44.3V43.3M323.5,44.3V43.8M327.5,44.3V43.7M330.5,44.3V38.3M334.5,44.3V32.7M337.5,44.3V43.0M340.5,44.3V36.3M345.5,44.3V43.7M349.5,44.3V43.8M354.5,44.3V43.8M359.5,44.3V43.7M364.5,44.3V39.5M368.5,44.3V39.1M370.5,44.3V16.7M372.5,44.3V38.3M376.5,44.3V42.7M380.5,44.3V43.7M385.5,44.3V32.7M387.5,44.3V36.8M389.5,44.3V43.7M392.5,44.3V43.7M396.5,44.3V43.8M400.5,44.3V43.7M403.5,44.3V43.8M407.5,44.3V43.8M412.5,44.3V43.7M417.5,44.3V43.5M420.5,44.3V42.8M423.5,44.3V43.8M427.5,44.3V43.7M432.5,44.3V43.8M437.5,44.3V43.8M443.5,44.3V42.8M446.5,44.3V43.5M451.5,44.3V43.8M455.5,44.3V43.8M459.5,44.3V43.5M464.5,44.3V43.6M469.5,44.3V43.8M473.5,44.3V43.8M480.5,44.3V43.8M486.5,44.3V43.9M492.5,44.3V43.9M496.5,44.3V43.9" stroke="#111" stroke-width="1.2" fill="none"/>
<path d="M279.5,242.6V237.6M306.5,242.6V241.6M315.5,242.6V241.8M329.5,242.6V240.6M334.5,242.6V241.1M348.5,242.6V232.6M358.5,242.6V239.6M362.5,242.6V237.6M374.5,242.6V215.6M376.5,242.6V228.6M379.5,242.6V225.6M385.5,242.6V236.6M391.5,242.6V241.6M408.5,242.6V241.4M411.5,242.6V236.6M421.5,242.6V241.1M429.5,242.6V241.1M436.5,242.6V241.8M442.5,242.6V234.6M449.5,242.6V239.6M451.5,242.6V240.6M455.5,242.6V233.6M460.5,242.6V237.6M463.5,242.6V238.6M467.5,242.6V238.6M472.5,242.6V238.6M477.5,242.6V241.8M484.5,242.6V241.1M490.5,242.6V241.1M494.5,242.6V241.6" stroke="#111" stroke-width="1.2" fill="none"/>
<path d="M275.8,44.3H503.3M275.8,209.2H503.3" stroke="#333" stroke-width="1.1" fill="none"/>
<path d="M275.8,73.3 L276.3,73.4 L276.8,73.3 L277.3,73.2 L277.8,73.2 L278.3,73.3 L278.8,73.2 L279.3,73.3 L279.8,73.2 L280.3,73.3 L280.8,73.4 L281.3,73.4 L281.8,73.4 L282.3,73.4 L282.8,73.4 L283.3,73.4 L283.8,73.2 L284.3,73.2 L284.8,71.1 L285.3,67.0 L285.8,70.3 L286.3,73.0 L286.8,73.4 L287.3,73.4 L287.8,73.6 L288.3,73.6 L288.8,73.4 L289.3,72.8 L289.8,73.2 L290.3,73.6 L290.8,73.8 L291.3,73.8 L291.8,73.7 L292.3,73.9 L292.8,73.7 L293.3,73.2 L293.8,71.7 L294.3,72.0 L294.8,73.5 L295.3,74.0 L295.8,74.1 L296.3,74.0 L296.8,73.9 L297.3,74.0 L297.8,74.0 L298.3,74.0 L298.8,73.8 L299.3,72.6 L299.8,73.2 L300.3,74.0 L300.8,74.2 L301.3,74.3 L301.8,74.2 L302.3,74.3 L302.8,74.2 L303.3,74.3 L303.8,74.4 L304.3,74.2 L304.8,74.4 L305.3,74.4 L305.8,74.3 L306.3,74.3 L306.8,74.4 L307.3,73.9 L307.8,72.2 L308.3,71.8 L308.8,73.8 L309.3,74.3 L309.8,74.4 L310.3,74.4 L310.8,74.4 L311.3,74.6 L311.8,74.6 L312.3,74.5 L312.8,74.6 L313.3,74.6 L313.8,74.8 L314.3,74.8 L314.8,74.5 L315.3,74.7 L315.8,74.6 L316.3,74.6 L316.8,74.8 L317.3,74.8 L317.8,74.8 L318.3,74.7 L318.8,74.7 L319.3,74.0 L319.8,74.2 L320.3,74.7 L320.8,74.8 L321.3,74.8 L321.8,74.7 L322.3,74.6 L322.8,74.8 L323.3,74.8 L323.8,74.7 L324.3,74.8 L324.8,74.8 L325.3,74.8 L325.8,74.7 L326.3,74.8 L326.8,74.5 L327.3,74.3 L327.8,73.8 L328.3,74.6 L328.8,74.7 L329.3,74.6 L329.8,74.5 L330.3,74.3 L330.8,72.3 L331.3,69.1 L331.8,72.0 L332.3,74.2 L332.8,74.1 L333.3,73.3 L333.8,67.5 L334.3,59.8 L334.8,68.7 L335.3,73.5 L335.8,74.3 L336.3,74.2 L336.8,73.7 L337.3,73.2 L337.8,73.9 L338.3,74.2 L338.8,73.8 L339.3,69.6 L339.8,65.5 L340.3,71.5 L340.8,74.2 L341.3,74.5 L341.8,74.7 L342.3,74.6 L342.8,74.9 L343.3,74.7 L343.8,74.8 L344.3,74.7 L344.8,74.9 L345.3,74.8 L345.8,74.8 L346.3,74.3 L346.8,73.9 L347.3,74.5 L347.8,74.7 L348.3,74.9 L348.8,75.0 L349.3,74.7 L349.8,74.5 L350.3,74.2 L350.8,74.5 L351.3,74.7 L351.8,74.9 L352.3,75.0 L352.8,74.8 L353.3,74.9 L353.8,74.8 L354.3,74.9 L354.8,74.6 L355.3,74.1 L355.8,74.3 L356.3,74.8 L356.8,74.9 L357.3,74.8 L357.8,74.7 L358.3,74.7 L358.8,74.7 L359.3,74.8 L359.8,74.0 L360.3,74.3 L360.8,74.8 L361.3,74.7 L361.8,74.8 L362.3,74.9 L362.8,74.9 L363.3,74.9 L363.8,74.7 L364.3,74.0 L364.8,71.7 L365.3,72.4 L365.8,74.2 L366.3,74.5 L366.8,74.6 L367.3,74.4 L367.8,74.4 L368.3,74.2 L368.8,73.3 L369.3,67.4 L369.8,47.9 L370.3,53.4 L370.8,70.1 L371.3,73.6 L371.8,73.8 L372.3,71.3 L372.8,69.1 L373.3,72.7 L373.8,74.5 L374.3,74.7 L374.8,74.8 L375.3,74.8 L375.8,74.5 L376.3,74.1 L376.8,72.8 L377.3,74.0 L377.8,74.7 L378.3,74.9 L378.8,74.8 L379.3,74.7 L379.8,74.5 L380.3,74.0 L380.8,74.2 L381.3,74.6 L381.8,74.8 L382.3,74.9 L382.8,74.8 L383.3,74.8 L383.8,74.8 L384.3,74.6 L384.8,74.2 L385.3,70.7 L385.8,62.4 L386.3,67.2 L386.8,73.1 L387.3,72.7 L387.8,71.6 L388.3,73.8 L388.8,74.8 L389.3,74.9 L389.8,74.9 L390.3,74.9 L390.8,74.8 L391.3,74.9 L391.8,74.6 L392.3,73.9 L392.8,74.6 L393.3,75.0 L393.8,75.0 L394.3,74.9 L394.8,74.9 L395.3,75.1 L395.8,75.1 L396.3,75.1 L396.8,75.0 L397.3,75.1 L397.8,75.1 L398.3,75.0 L398.8,75.1 L399.3,75.0 L399.8,74.9 L400.3,74.6 L400.8,74.2 L401.3,74.5 L401.8,74.8 L402.3,74.9 L402.8,75.0 L403.3,75.0 L403.8,75.1 L404.3,75.0 L404.8,74.9 L405.3,74.4 L405.8,74.5 L406.3,75.1 L406.8,75.1 L407.3,75.1 L407.8,75.2 L408.3,75.1 L408.8,75.0 L409.3,75.3 L409.8,75.2 L410.3,75.2 L410.8,75.1 L411.3,75.2 L411.8,75.1 L412.3,75.0 L412.8,75.2 L413.3,75.2 L413.8,74.9 L414.3,74.5 L414.8,74.3 L415.3,75.1 L415.8,75.2 L416.3,75.1 L416.8,75.1 L417.3,75.3 L417.8,75.3 L418.3,75.2 L418.8,75.1 L419.3,74.6 L419.8,72.8 L420.3,73.0 L420.8,74.8 L421.3,75.1 L421.8,75.3 L422.3,75.4 L422.8,75.3 L423.3,75.1 L423.8,75.2 L424.3,75.3 L424.8,75.2 L425.3,75.4 L425.8,75.3 L426.3,75.3 L426.8,75.2 L427.3,75.2 L427.8,74.8 L428.3,74.4 L428.8,75.1 L429.3,75.2 L429.8,75.3 L430.3,75.5 L430.8,75.2 L431.3,75.2 L431.8,75.2 L432.3,74.9 L432.8,74.3 L433.3,75.0 L433.8,75.4 L434.3,75.4 L434.8,75.2 L435.3,75.4 L435.8,75.5 L436.3,75.5 L436.8,75.5 L437.3,75.5 L437.8,75.4 L438.3,75.5 L438.8,75.4 L439.3,75.3 L439.8,75.4 L440.3,75.5 L440.8,75.3 L441.3,75.4 L441.8,75.4 L442.3,75.0 L442.8,72.9 L443.3,70.4 L443.8,73.6 L444.3,75.0 L444.8,75.3 L445.3,75.3 L445.8,75.4 L446.3,75.4 L446.8,74.8 L447.3,74.0 L447.8,74.7 L448.3,75.3 L448.8,75.3 L449.3,75.5 L449.8,75.4 L450.3,75.4 L450.8,74.6 L451.3,75.0 L451.8,75.4 L452.3,75.5 L452.8,75.7 L453.3,75.5 L453.8,75.6 L454.3,75.6 L454.8,75.5 L455.3,74.7 L455.8,74.6 L456.3,75.4 L456.8,75.7 L457.3,75.7 L457.8,75.5 L458.3,75.3 L458.8,74.6 L459.3,74.3 L459.8,75.1 L460.3,75.7 L460.8,75.6 L461.3,75.7 L461.8,75.7 L462.3,75.6 L462.8,75.7 L463.3,75.7 L463.8,75.4 L464.3,74.3 L464.8,74.0 L465.3,75.4 L465.8,75.6 L466.3,75.6 L466.8,75.7 L467.3,75.8 L467.8,75.7 L468.3,75.8 L468.8,75.1 L469.3,74.8 L469.8,75.5 L470.3,75.7 L470.8,75.8 L471.3,75.8 L471.8,75.8 L472.3,75.9 L472.8,75.9 L473.3,75.4 L473.8,74.8 L474.3,75.5 L474.8,75.9 L475.3,75.7 L475.8,75.7 L476.3,75.7 L476.8,76.0 L477.3,75.9 L477.8,75.9 L478.3,75.8 L478.8,76.0 L479.3,76.0 L479.8,75.8 L480.3,75.2 L480.8,75.1 L481.3,75.7 L481.8,75.8 L482.3,75.9 L482.8,75.8 L483.3,75.9 L483.8,75.8 L484.3,75.8 L484.8,76.1 L485.3,76.1 L485.8,76.1 L486.3,75.9 L486.8,75.7 L487.3,75.2 L487.8,75.7 L488.3,75.9 L488.8,76.0 L489.3,76.0 L489.8,76.1 L490.3,76.0 L490.8,75.8 L491.3,75.7 L491.8,75.2 L492.3,75.3 L492.8,76.0 L493.3,75.9 L493.8,76.0 L494.3,76.1 L494.8,76.0 L495.3,76.0 L495.8,75.9 L496.3,75.4 L496.8,75.6 L497.3,76.1 L497.8,76.0 L498.3,76.2 L498.8,76.2 L499.3,76.2 L499.8,76.2 L500.3,76.2 L500.8,76.2 L501.3,76.2 L501.8,76.1 L502.3,76.2 L502.8,76.3 L503.3,76.2" stroke="#229a2a" stroke-width="1.2" fill="none" stroke-linejoin="round"/>
<text x="454.4" y="61.8" font-size="7.4" font-weight="bold" fill="#111" stroke="#111" stroke-width="0.15" textLength="37.0" lengthAdjust="spacingAndGlyphs">W:EG 0:100</text>
<path d="M436.7,59.3H452.2" stroke="#229a2a" stroke-width="1.4"/>
<path d="M275.8,105.9 L276.3,105.8 L276.8,105.8 L277.3,105.9 L277.8,105.9 L278.3,105.8 L278.8,105.9 L279.3,105.8 L279.8,105.9 L280.3,105.9 L280.8,106.0 L281.3,106.1 L281.8,106.1 L282.3,105.9 L282.8,106.1 L283.3,106.0 L283.8,105.9 L284.3,105.5 L284.8,103.9 L285.3,99.8 L285.8,102.8 L286.3,105.5 L286.8,105.9 L287.3,106.0 L287.8,106.1 L288.3,106.2 L288.8,106.0 L289.3,105.6 L289.8,105.9 L290.3,106.3 L290.8,106.3 L291.3,106.4 L291.8,106.4 L292.3,106.4 L292.8,106.3 L293.3,105.8 L293.8,104.4 L294.3,104.8 L294.8,106.1 L295.3,106.5 L295.8,106.4 L296.3,106.6 L296.8,106.7 L297.3,106.7 L297.8,106.5 L298.3,106.6 L298.8,106.4 L299.3,105.2 L299.8,105.8 L300.3,106.4 L300.8,106.6 L301.3,106.6 L301.8,106.7 L302.3,106.9 L302.8,106.8 L303.3,106.9 L303.8,107.0 L304.3,106.8 L304.8,107.0 L305.3,107.0 L305.8,106.9 L306.3,106.8 L306.8,106.7 L307.3,106.5 L307.8,104.8 L308.3,104.4 L308.8,106.4 L309.3,106.9 L309.8,106.9 L310.3,106.9 L310.8,107.1 L311.3,107.1 L311.8,107.2 L312.3,107.2 L312.8,107.3 L313.3,107.2 L313.8,107.2 L314.3,107.3 L314.8,107.2 L315.3,107.2 L315.8,107.1 L316.3,107.2 L316.8,107.3 L317.3,107.3 L317.8,107.2 L318.3,107.3 L318.8,107.0 L319.3,106.6 L319.8,106.8 L320.3,107.3 L320.8,107.4 L321.3,107.2 L321.8,107.5 L322.3,107.2 L322.8,107.5 L323.3,107.5 L323.8,107.3 L324.3,107.3 L324.8,107.3 L325.3,107.5 L325.8,107.5 L326.3,107.5 L326.8,107.4 L327.3,106.9 L327.8,106.8 L328.3,107.1 L328.8,107.3 L329.3,107.3 L329.8,107.3 L330.3,106.9 L330.8,105.1 L331.3,102.0 L331.8,105.0 L332.3,106.8 L332.8,106.9 L333.3,106.3 L333.8,101.4 L334.3,95.1 L334.8,102.4 L335.3,106.5 L335.8,107.0 L336.3,107.1 L336.8,106.7 L337.3,106.0 L337.8,106.9 L338.3,107.3 L338.8,106.8 L339.3,102.9 L339.8,99.2 L340.3,104.6 L340.8,107.0 L341.3,107.4 L341.8,107.4 L342.3,107.5 L342.8,107.7 L343.3,107.6 L343.8,107.5 L344.3,107.7 L344.8,107.6 L345.3,107.8 L345.8,107.7 L346.3,107.4 L346.8,106.8 L347.3,107.3 L347.8,107.6 L348.3,107.6 L348.8,107.9 L349.3,107.6 L349.8,107.4 L350.3,107.2 L350.8,107.3 L351.3,107.7 L351.8,107.9 L352.3,107.9 L352.8,107.7 L353.3,107.7 L353.8,107.9 L354.3,107.8 L354.8,107.5 L355.3,107.0 L355.8,107.4 L356.3,107.6 L356.8,107.9 L357.3,107.9 L357.8,107.7 L358.3,107.9 L358.8,107.8 L359.3,107.5 L359.8,107.0 L360.3,107.3 L360.8,107.7 L361.3,107.9 L361.8,107.8 L362.3,108.0 L362.8,107.9 L363.3,107.8 L363.8,107.6 L364.3,107.0 L364.8,104.7 L365.3,105.5 L365.8,107.2 L366.3,107.6 L366.8,107.6 L367.3,107.5 L367.8,107.4 L368.3,107.2 L368.8,106.3 L369.3,100.8 L369.8,82.1 L370.3,87.3 L370.8,103.5 L371.3,106.6 L371.8,106.9 L372.3,104.6 L372.8,102.6 L373.3,106.0 L373.8,107.6 L374.3,107.8 L374.8,107.7 L375.3,107.7 L375.8,107.9 L376.3,107.2 L376.8,106.0 L377.3,107.0 L377.8,107.7 L378.3,108.1 L378.8,108.0 L379.3,107.9 L379.8,107.8 L380.3,107.2 L380.8,107.3 L381.3,108.0 L381.8,108.2 L382.3,108.1 L382.8,108.1 L383.3,108.0 L383.8,108.0 L384.3,107.7 L384.8,107.5 L385.3,104.6 L385.8,97.1 L386.3,101.1 L386.8,106.4 L387.3,106.2 L387.8,105.2 L388.3,107.0 L388.8,108.0 L389.3,107.9 L389.8,108.0 L390.3,108.0 L390.8,108.1 L391.3,108.2 L391.8,107.7 L392.3,107.2 L392.8,107.8 L393.3,108.1 L393.8,108.3 L394.3,108.3 L394.8,108.3 L395.3,108.2 L395.8,108.2 L396.3,108.2 L396.8,108.4 L397.3,108.4 L397.8,108.3 L398.3,108.3 L398.8,108.1 L399.3,108.4 L399.8,108.3 L400.3,108.0 L400.8,107.3 L401.3,107.7 L401.8,108.2 L402.3,108.2 L402.8,108.2 L403.3,108.3 L403.8,108.3 L404.3,108.1 L404.8,108.0 L405.3,107.6 L405.8,107.9 L406.3,108.2 L406.8,108.2 L407.3,108.3 L407.8,108.2 L408.3,108.4 L408.8,108.3 L409.3,108.5 L409.8,108.3 L410.3,108.3 L410.8,108.2 L411.3,108.4 L411.8,108.4 L412.3,108.5 L412.8,108.4 L413.3,108.4 L413.8,108.1 L414.3,107.8 L414.8,107.5 L415.3,108.1 L415.8,108.3 L416.3,108.4 L416.8,108.4 L417.3,108.3 L417.8,108.3 L418.3,108.2 L418.8,108.3 L419.3,107.9 L419.8,105.9 L420.3,106.1 L420.8,108.0 L421.3,108.4 L421.8,108.3 L422.3,108.6 L422.8,108.5 L423.3,108.5 L423.8,108.4 L424.3,108.6 L424.8,108.4 L425.3,108.5 L425.8,108.6 L426.3,108.6 L426.8,108.4 L427.3,108.3 L427.8,107.9 L428.3,107.4 L428.8,108.3 L429.3,108.5 L429.8,108.5 L430.3,108.4 L430.8,108.5 L431.3,108.5 L431.8,108.5 L432.3,108.0 L432.8,107.7 L433.3,108.2 L433.8,108.6 L434.3,108.6 L434.8,108.4 L435.3,108.5 L435.8,108.6 L436.3,108.5 L436.8,108.6 L437.3,108.5 L437.8,108.7 L438.3,108.5 L438.8,108.5 L439.3,108.6 L439.8,108.4 L440.3,108.4 L440.8,108.5 L441.3,108.5 L441.8,108.3 L442.3,108.1 L442.8,106.1 L443.3,103.9 L443.8,106.9 L444.3,108.3 L444.8,108.3 L445.3,108.5 L445.8,108.5 L446.3,108.3 L446.8,108.1 L447.3,107.1 L447.8,108.0 L448.3,108.5 L448.8,108.5 L449.3,108.5 L449.8,108.6 L450.3,108.3 L450.8,107.6 L451.3,107.9 L451.8,108.4 L452.3,108.5 L452.8,108.7 L453.3,108.7 L453.8,108.6 L454.3,108.5 L454.8,108.5 L455.3,107.6 L455.8,107.7 L456.3,108.5 L456.8,108.7 L457.3,108.6 L457.8,108.6 L458.3,108.6 L458.8,107.8 L459.3,107.3 L459.8,108.2 L460.3,108.5 L460.8,108.8 L461.3,108.8 L461.8,108.6 L462.3,108.7 L462.8,108.6 L463.3,108.7 L463.8,108.4 L464.3,107.4 L464.8,107.0 L465.3,108.1 L465.8,108.7 L466.3,108.7 L466.8,108.6 L467.3,108.6 L467.8,108.6 L468.3,108.7 L468.8,108.3 L469.3,107.8 L469.8,108.6 L470.3,108.8 L470.8,108.7 L471.3,108.7 L471.8,108.9 L472.3,108.7 L472.8,108.7 L473.3,108.3 L473.8,107.7 L474.3,108.4 L474.8,108.7 L475.3,108.8 L475.8,108.9 L476.3,108.7 L476.8,108.8 L477.3,108.8 L477.8,108.7 L478.3,108.9 L478.8,108.9 L479.3,108.8 L479.8,108.6 L480.3,108.0 L480.8,108.1 L481.3,108.6 L481.8,108.7 L482.3,109.0 L482.8,108.8 L483.3,108.8 L483.8,108.9 L484.3,108.7 L484.8,108.8 L485.3,108.9 L485.8,109.0 L486.3,108.8 L486.8,108.5 L487.3,108.3 L487.8,108.3 L488.3,108.8 L488.8,108.9 L489.3,109.0 L489.8,108.8 L490.3,108.8 L490.8,108.8 L491.3,108.6 L491.8,107.9 L492.3,108.4 L492.8,108.8 L493.3,109.0 L493.8,108.8 L494.3,109.0 L494.8,109.0 L495.3,108.8 L495.8,108.9 L496.3,108.2 L496.8,108.5 L497.3,109.0 L497.8,108.9 L498.3,109.1 L498.8,108.9 L499.3,108.9 L499.8,109.1 L500.3,109.0 L500.8,108.8 L501.3,108.9 L501.8,109.0 L502.3,108.9 L502.8,108.9 L503.3,109.1" stroke="#0f7391" stroke-width="1.2" fill="none" stroke-linejoin="round"/>
<text x="454.4" y="94.9" font-size="7.4" font-weight="bold" fill="#111" stroke="#111" stroke-width="0.15" textLength="37.0" lengthAdjust="spacingAndGlyphs">W:EG 20:80</text>
<path d="M436.7,92.4H452.2" stroke="#0f7391" stroke-width="1.4"/>
<path d="M275.8,138.4 L276.3,138.6 L276.8,138.4 L277.3,138.4 L277.8,138.4 L278.3,138.3 L278.8,136.7 L279.3,132.6 L279.8,134.3 L280.3,137.7 L280.8,138.3 L281.3,138.5 L281.8,138.5 L282.3,138.5 L282.8,138.8 L283.3,138.8 L283.8,138.7 L284.3,138.8 L284.8,138.7 L285.3,138.9 L285.8,138.9 L286.3,139.0 L286.8,138.9 L287.3,138.9 L287.8,139.0 L288.3,138.9 L288.8,138.9 L289.3,138.9 L289.8,139.2 L290.3,139.0 L290.8,138.9 L291.3,139.1 L291.8,138.8 L292.3,138.8 L292.8,139.1 L293.3,139.1 L293.8,139.2 L294.3,139.3 L294.8,139.4 L295.3,139.4 L295.8,139.1 L296.3,139.4 L296.8,139.3 L297.3,139.2 L297.8,139.5 L298.3,139.3 L298.8,139.5 L299.3,139.3 L299.8,139.3 L300.3,139.5 L300.8,139.5 L301.3,139.5 L301.8,139.6 L302.3,139.4 L302.8,139.6 L303.3,139.5 L303.8,139.7 L304.3,139.6 L304.8,139.6 L305.3,139.5 L305.8,139.7 L306.3,139.2 L306.8,137.8 L307.3,136.8 L307.8,138.8 L308.3,139.5 L308.8,139.7 L309.3,139.8 L309.8,139.7 L310.3,139.7 L310.8,139.8 L311.3,139.9 L311.8,139.9 L312.3,139.8 L312.8,139.9 L313.3,140.0 L313.8,140.0 L314.3,139.8 L314.8,139.7 L315.3,139.8 L315.8,139.3 L316.3,139.5 L316.8,140.0 L317.3,140.0 L317.8,140.0 L318.3,140.0 L318.8,140.1 L319.3,140.0 L319.8,140.0 L320.3,140.0 L320.8,140.1 L321.3,140.2 L321.8,140.0 L322.3,140.0 L322.8,140.0 L323.3,140.2 L323.8,140.1 L324.3,140.0 L324.8,140.2 L325.3,140.1 L325.8,140.0 L326.3,140.2 L326.8,140.1 L327.3,140.2 L327.8,140.2 L328.3,140.1 L328.8,139.6 L329.3,137.9 L329.8,138.5 L330.3,139.7 L330.8,140.1 L331.3,140.1 L331.8,140.2 L332.3,140.0 L332.8,140.2 L333.3,139.5 L333.8,137.8 L334.3,138.0 L334.8,139.7 L335.3,140.2 L335.8,140.2 L336.3,140.1 L336.8,140.4 L337.3,140.2 L337.8,140.4 L338.3,140.3 L338.8,140.3 L339.3,140.3 L339.8,140.3 L340.3,140.4 L340.8,140.3 L341.3,140.2 L341.8,140.3 L342.3,140.2 L342.8,140.4 L343.3,140.2 L343.8,140.3 L344.3,140.3 L344.8,140.2 L345.3,140.4 L345.8,140.3 L346.3,140.0 L346.8,139.2 L347.3,135.2 L347.8,132.3 L348.3,137.5 L348.8,139.8 L349.3,140.2 L349.8,140.3 L350.3,140.4 L350.8,140.1 L351.3,140.3 L351.8,140.3 L352.3,140.3 L352.8,140.3 L353.3,140.5 L353.8,140.2 L354.3,140.2 L354.8,140.2 L355.3,139.9 L355.8,137.7 L356.3,133.8 L356.8,137.0 L357.3,139.4 L357.8,138.2 L358.3,137.5 L358.8,139.6 L359.3,140.0 L359.8,140.2 L360.3,140.2 L360.8,140.0 L361.3,137.8 L361.8,135.0 L362.3,137.9 L362.8,140.1 L363.3,140.2 L363.8,140.3 L364.3,140.4 L364.8,140.4 L365.3,140.0 L365.8,140.2 L366.3,140.4 L366.8,140.3 L367.3,140.4 L367.8,140.3 L368.3,140.5 L368.8,140.2 L369.3,140.1 L369.8,140.1 L370.3,139.2 L370.8,134.7 L371.3,126.4 L371.8,132.9 L372.3,138.6 L372.8,139.3 L373.3,138.7 L373.8,133.9 L374.3,117.1 L374.8,118.1 L375.3,134.3 L375.8,138.0 L376.3,134.4 L376.8,128.0 L377.3,134.3 L377.8,139.0 L378.3,139.6 L378.8,139.0 L379.3,134.5 L379.8,120.3 L380.3,123.5 L380.8,136.3 L381.3,139.6 L381.8,140.0 L382.3,140.2 L382.8,140.4 L383.3,140.3 L383.8,140.3 L384.3,140.5 L384.8,139.9 L385.3,137.7 L385.8,131.9 L386.3,135.1 L386.8,139.5 L387.3,140.3 L387.8,140.7 L388.3,140.8 L388.8,140.6 L389.3,140.6 L389.8,140.8 L390.3,140.8 L390.8,140.7 L391.3,140.2 L391.8,139.6 L392.3,140.2 L392.8,140.7 L393.3,140.8 L393.8,140.8 L394.3,140.8 L394.8,140.8 L395.3,140.8 L395.8,140.9 L396.3,140.8 L396.8,140.8 L397.3,140.8 L397.8,140.9 L398.3,141.0 L398.8,140.8 L399.3,141.0 L399.8,140.9 L400.3,140.7 L400.8,140.7 L401.3,141.0 L401.8,140.8 L402.3,140.8 L402.8,140.8 L403.3,141.0 L403.8,140.9 L404.3,140.8 L404.8,140.9 L405.3,141.0 L405.8,141.0 L406.3,140.9 L406.8,141.1 L407.3,141.0 L407.8,140.7 L408.3,140.1 L408.8,139.7 L409.3,140.4 L409.8,140.8 L410.3,140.4 L410.8,138.5 L411.3,134.3 L411.8,136.9 L412.3,140.1 L412.8,140.8 L413.3,140.9 L413.8,140.8 L414.3,141.0 L414.8,141.0 L415.3,140.9 L415.8,141.2 L416.3,141.1 L416.8,141.0 L417.3,140.8 L417.8,141.1 L418.3,141.1 L418.8,141.2 L419.3,141.2 L419.8,141.0 L420.3,141.1 L420.8,140.7 L421.3,139.7 L421.8,140.4 L422.3,140.9 L422.8,141.0 L423.3,141.0 L423.8,141.2 L424.3,141.1 L424.8,141.1 L425.3,141.1 L425.8,141.3 L426.3,141.2 L426.8,141.3 L427.3,141.3 L427.8,141.3 L428.3,141.1 L428.8,141.2 L429.3,140.4 L429.8,140.3 L430.3,141.1 L430.8,141.2 L431.3,141.2 L431.8,141.4 L432.3,141.2 L432.8,141.2 L433.3,141.2 L433.8,141.3 L434.3,141.3 L434.8,141.4 L435.3,141.1 L435.8,141.1 L436.3,140.7 L436.8,140.9 L437.3,141.4 L437.8,141.4 L438.3,141.5 L438.8,141.5 L439.3,141.5 L439.8,141.4 L440.3,141.3 L440.8,141.3 L441.3,141.1 L441.8,140.7 L442.3,138.2 L442.8,134.9 L443.3,138.5 L443.8,140.7 L444.3,141.4 L444.8,141.3 L445.3,141.4 L445.8,141.3 L446.3,141.4 L446.8,141.5 L447.3,141.5 L447.8,141.2 L448.3,140.8 L448.8,139.2 L449.3,138.5 L449.8,140.4 L450.3,141.4 L450.8,140.9 L451.3,140.2 L451.8,140.8 L452.3,141.2 L452.8,141.2 L453.3,141.2 L453.8,141.3 L454.3,141.2 L454.8,140.2 L455.3,136.9 L455.8,137.2 L456.3,140.4 L456.8,141.3 L457.3,141.4 L457.8,141.4 L458.3,141.6 L458.8,141.5 L459.3,140.7 L459.8,138.5 L460.3,138.1 L460.8,140.5 L461.3,141.4 L461.8,141.6 L462.3,141.3 L462.8,141.1 L463.3,139.4 L463.8,137.6 L464.3,140.2 L464.8,141.3 L465.3,141.6 L465.8,141.6 L466.3,141.5 L466.8,140.2 L467.3,137.6 L467.8,139.6 L468.3,141.3 L468.8,141.5 L469.3,141.5 L469.8,141.6 L470.3,141.5 L470.8,140.7 L471.3,138.7 L471.8,139.3 L472.3,141.3 L472.8,141.5 L473.3,141.8 L473.8,141.8 L474.3,141.8 L474.8,141.8 L475.3,141.7 L475.8,141.7 L476.3,141.8 L476.8,141.7 L477.3,141.6 L477.8,141.2 L478.3,141.6 L478.8,141.9 L479.3,141.8 L479.8,141.7 L480.3,141.8 L480.8,142.0 L481.3,141.9 L481.8,142.1 L482.3,141.9 L482.8,141.9 L483.3,141.9 L483.8,141.9 L484.3,141.1 L484.8,140.9 L485.3,141.6 L485.8,141.8 L486.3,142.1 L486.8,142.1 L487.3,142.0 L487.8,141.9 L488.3,142.1 L488.8,141.9 L489.3,141.9 L489.8,141.1 L490.3,140.9 L490.8,141.8 L491.3,141.9 L491.8,142.1 L492.3,141.9 L492.8,142.0 L493.3,141.9 L493.8,141.9 L494.3,141.6 L494.8,141.3 L495.3,141.8 L495.8,141.9 L496.3,141.9 L496.8,142.1 L497.3,142.0 L497.8,142.2 L498.3,142.2 L498.8,142.1 L499.3,142.3 L499.8,142.3 L500.3,142.1 L500.8,142.2 L501.3,142.2 L501.8,142.1 L502.3,142.3 L502.8,142.1 L503.3,142.3" stroke="#22a5a5" stroke-width="1.2" fill="none" stroke-linejoin="round"/>
<text x="454.4" y="128.3" font-size="7.4" font-weight="bold" fill="#111" stroke="#111" stroke-width="0.15" textLength="37.0" lengthAdjust="spacingAndGlyphs">W:EG 40:60</text>
<path d="M436.7,125.9H452.2" stroke="#22a5a5" stroke-width="1.4"/>
<path d="M275.8,171.1 L276.3,171.0 L276.8,171.1 L277.3,171.1 L277.8,171.0 L278.3,170.7 L278.8,169.6 L279.3,166.5 L279.8,168.0 L280.3,170.6 L280.8,171.3 L281.3,171.2 L281.8,171.4 L282.3,171.5 L282.8,171.3 L283.3,171.5 L283.8,171.4 L284.3,171.4 L284.8,171.6 L285.3,171.7 L285.8,171.6 L286.3,171.7 L286.8,171.7 L287.3,171.8 L287.8,171.7 L288.3,171.8 L288.8,171.8 L289.3,171.9 L289.8,172.1 L290.3,171.9 L290.8,172.1 L291.3,172.1 L291.8,172.2 L292.3,172.3 L292.8,172.1 L293.3,172.2 L293.8,172.4 L294.3,172.4 L294.8,172.5 L295.3,172.3 L295.8,172.5 L296.3,172.4 L296.8,172.6 L297.3,172.6 L297.8,172.5 L298.3,172.6 L298.8,172.5 L299.3,172.8 L299.8,172.8 L300.3,172.8 L300.8,172.8 L301.3,172.9 L301.8,172.8 L302.3,172.8 L302.8,173.0 L303.3,173.1 L303.8,173.1 L304.3,173.1 L304.8,172.9 L305.3,173.0 L305.8,173.0 L306.3,172.8 L306.8,172.1 L307.3,172.3 L307.8,173.1 L308.3,173.2 L308.8,173.2 L309.3,173.2 L309.8,173.5 L310.3,173.5 L310.8,173.4 L311.3,173.5 L311.8,173.4 L312.3,173.3 L312.8,173.3 L313.3,173.4 L313.8,173.4 L314.3,173.7 L314.8,173.5 L315.3,173.2 L315.8,172.7 L316.3,173.1 L316.8,173.4 L317.3,173.5 L317.8,173.6 L318.3,173.6 L318.8,173.6 L319.3,173.7 L319.8,173.6 L320.3,173.6 L320.8,173.8 L321.3,173.7 L321.8,173.8 L322.3,173.7 L322.8,173.8 L323.3,173.6 L323.8,173.7 L324.3,173.9 L324.8,173.7 L325.3,173.8 L325.8,173.7 L326.3,173.7 L326.8,173.8 L327.3,173.8 L327.8,173.6 L328.3,173.7 L328.8,173.4 L329.3,172.4 L329.8,172.8 L330.3,173.7 L330.8,173.7 L331.3,173.7 L331.8,173.9 L332.3,173.9 L332.8,173.8 L333.3,173.7 L333.8,173.1 L334.3,171.6 L334.8,172.0 L335.3,173.5 L335.8,173.7 L336.3,173.7 L336.8,173.9 L337.3,173.9 L337.8,174.0 L338.3,173.9 L338.8,174.0 L339.3,173.8 L339.8,174.0 L340.3,173.9 L340.8,173.9 L341.3,173.8 L341.8,173.8 L342.3,173.8 L342.8,173.8 L343.3,173.8 L343.8,173.9 L344.3,174.0 L344.8,173.9 L345.3,173.8 L345.8,173.6 L346.3,173.6 L346.8,172.6 L347.3,167.8 L347.8,164.3 L348.3,170.6 L348.8,173.2 L349.3,173.7 L349.8,173.8 L350.3,173.9 L350.8,174.0 L351.3,173.9 L351.8,173.9 L352.3,174.0 L352.8,173.9 L353.3,174.1 L353.8,174.0 L354.3,173.9 L354.8,173.9 L355.3,173.6 L355.8,173.0 L356.3,171.4 L356.8,172.4 L357.3,173.1 L357.8,171.9 L358.3,171.1 L358.8,173.0 L359.3,173.7 L359.8,173.7 L360.3,173.8 L360.8,173.6 L361.3,171.9 L361.8,169.3 L362.3,171.8 L362.8,173.4 L363.3,173.9 L363.8,174.0 L364.3,174.1 L364.8,173.9 L365.3,173.9 L365.8,173.8 L366.3,173.9 L366.8,173.9 L367.3,173.9 L367.8,173.9 L368.3,174.0 L368.8,174.0 L369.3,173.8 L369.8,173.9 L370.3,173.6 L370.8,172.5 L371.3,170.9 L371.8,172.0 L372.3,173.1 L372.8,173.3 L373.3,172.4 L373.8,167.4 L374.3,150.6 L374.8,151.7 L375.3,167.7 L375.8,171.4 L376.3,166.8 L376.8,159.7 L377.3,166.8 L377.8,172.2 L378.3,172.9 L378.8,172.6 L379.3,169.2 L379.8,158.4 L380.3,161.1 L380.8,170.9 L381.3,173.2 L381.8,173.7 L382.3,173.8 L382.8,173.9 L383.3,174.0 L383.8,173.9 L384.3,174.0 L384.8,173.6 L385.3,172.4 L385.8,169.3 L386.3,170.9 L386.8,173.3 L387.3,174.1 L387.8,174.1 L388.3,174.1 L388.8,174.1 L389.3,174.2 L389.8,174.2 L390.3,174.1 L390.8,174.2 L391.3,173.8 L391.8,173.2 L392.3,173.7 L392.8,174.2 L393.3,174.1 L393.8,174.4 L394.3,174.3 L394.8,174.1 L395.3,174.3 L395.8,174.2 L396.3,174.1 L396.8,174.4 L397.3,174.2 L397.8,174.3 L398.3,174.2 L398.8,174.3 L399.3,174.3 L399.8,174.4 L400.3,174.5 L400.8,174.4 L401.3,174.4 L401.8,174.3 L402.3,174.5 L402.8,174.3 L403.3,174.3 L403.8,174.4 L404.3,174.3 L404.8,174.4 L405.3,174.3 L405.8,174.3 L406.3,174.2 L406.8,174.3 L407.3,174.3 L407.8,174.3 L408.3,173.5 L408.8,173.1 L409.3,174.0 L409.8,174.1 L410.3,174.0 L410.8,171.9 L411.3,167.6 L411.8,170.4 L412.3,173.8 L412.8,174.2 L413.3,174.4 L413.8,174.5 L414.3,174.6 L414.8,174.6 L415.3,174.4 L415.8,174.5 L416.3,174.6 L416.8,174.5 L417.3,174.6 L417.8,174.6 L418.3,174.4 L418.8,174.5 L419.3,174.7 L419.8,174.6 L420.3,174.5 L420.8,174.1 L421.3,173.2 L421.8,173.9 L422.3,174.4 L422.8,174.7 L423.3,174.5 L423.8,174.7 L424.3,174.8 L424.8,174.7 L425.3,174.7 L425.8,174.9 L426.3,174.8 L426.8,174.9 L427.3,174.8 L427.8,174.7 L428.3,174.8 L428.8,174.6 L429.3,173.7 L429.8,173.6 L430.3,174.7 L430.8,174.8 L431.3,174.7 L431.8,174.9 L432.3,174.9 L432.8,174.7 L433.3,175.0 L433.8,174.8 L434.3,174.9 L434.8,175.0 L435.3,174.9 L435.8,174.6 L436.3,174.2 L436.8,174.5 L437.3,175.0 L437.8,175.1 L438.3,175.1 L438.8,175.1 L439.3,175.0 L439.8,174.9 L440.3,175.1 L440.8,175.1 L441.3,174.8 L441.8,174.4 L442.3,171.4 L442.8,167.5 L443.3,171.7 L443.8,174.6 L444.3,174.9 L444.8,175.1 L445.3,175.2 L445.8,175.2 L446.3,175.1 L446.8,175.2 L447.3,175.0 L447.8,175.1 L448.3,174.6 L448.8,172.9 L449.3,172.2 L449.8,174.3 L450.3,175.1 L450.8,174.8 L451.3,174.0 L451.8,174.3 L452.3,175.1 L452.8,175.3 L453.3,175.1 L453.8,175.3 L454.3,174.9 L454.8,173.8 L455.3,169.4 L455.8,170.1 L456.3,173.9 L456.8,174.9 L457.3,175.2 L457.8,175.4 L458.3,175.3 L458.8,175.2 L459.3,174.6 L459.8,171.7 L460.3,171.5 L460.8,174.3 L461.3,175.1 L461.8,175.2 L462.3,175.3 L462.8,175.1 L463.3,173.4 L463.8,171.9 L464.3,174.2 L464.8,175.2 L465.3,175.5 L465.8,175.3 L466.3,175.4 L466.8,174.2 L467.3,171.8 L467.8,173.6 L468.3,175.4 L468.8,175.4 L469.3,175.5 L469.8,175.6 L470.3,175.7 L470.8,175.6 L471.3,175.4 L471.8,174.0 L472.3,171.4 L472.8,173.5 L473.3,175.2 L473.8,175.7 L474.3,175.6 L474.8,175.9 L475.3,175.8 L475.8,175.9 L476.3,175.8 L476.8,175.9 L477.3,175.6 L477.8,175.3 L478.3,175.5 L478.8,175.9 L479.3,175.9 L479.8,175.9 L480.3,176.1 L480.8,175.9 L481.3,175.9 L481.8,175.9 L482.3,176.1 L482.8,176.1 L483.3,176.0 L483.8,176.0 L484.3,175.1 L484.8,175.0 L485.3,175.8 L485.8,175.9 L486.3,176.0 L486.8,176.1 L487.3,176.1 L487.8,176.1 L488.3,176.2 L488.8,176.0 L489.3,175.9 L489.8,175.2 L490.3,175.0 L490.8,175.9 L491.3,176.2 L491.8,176.1 L492.3,176.1 L492.8,176.3 L493.3,176.1 L493.8,176.3 L494.3,175.8 L494.8,175.5 L495.3,175.9 L495.8,176.4 L496.3,176.2 L496.8,176.4 L497.3,176.4 L497.8,176.4 L498.3,176.3 L498.8,176.5 L499.3,176.3 L499.8,176.5 L500.3,176.6 L500.8,176.5 L501.3,176.4 L501.8,176.4 L502.3,176.5 L502.8,176.6 L503.3,176.6" stroke="#2ab2de" stroke-width="1.2" fill="none" stroke-linejoin="round"/>
<text x="454.4" y="161.4" font-size="7.4" font-weight="bold" fill="#111" stroke="#111" stroke-width="0.15" textLength="37.0" lengthAdjust="spacingAndGlyphs">W:EG 60:40</text>
<path d="M436.7,159.0H452.2" stroke="#2ab2de" stroke-width="1.4"/>
<path d="M275.8,202.9 L276.3,203.0 L276.8,202.9 L277.3,203.0 L277.8,202.9 L278.3,202.8 L278.8,201.7 L279.3,200.2 L279.8,200.9 L280.3,202.3 L280.8,202.9 L281.3,203.2 L281.8,203.3 L282.3,203.2 L282.8,203.3 L283.3,203.3 L283.8,203.4 L284.3,203.4 L284.8,203.5 L285.3,203.5 L285.8,203.4 L286.3,203.5 L286.8,203.7 L287.3,203.5 L287.8,203.7 L288.3,203.6 L288.8,203.7 L289.3,203.7 L289.8,203.8 L290.3,203.7 L290.8,203.7 L291.3,203.8 L291.8,204.0 L292.3,203.9 L292.8,204.1 L293.3,204.0 L293.8,204.2 L294.3,203.9 L294.8,204.2 L295.3,204.0 L295.8,204.1 L296.3,204.2 L296.8,204.2 L297.3,204.4 L297.8,204.4 L298.3,204.3 L298.8,204.2 L299.3,204.3 L299.8,204.3 L300.3,204.3 L300.8,204.3 L301.3,204.4 L301.8,204.4 L302.3,204.4 L302.8,204.4 L303.3,204.5 L303.8,204.7 L304.3,204.7 L304.8,204.6 L305.3,204.7 L305.8,204.7 L306.3,204.1 L306.8,203.5 L307.3,203.8 L307.8,204.4 L308.3,204.8 L308.8,204.6 L309.3,204.9 L309.8,204.9 L310.3,204.8 L310.8,205.0 L311.3,205.0 L311.8,204.8 L312.3,205.0 L312.8,204.9 L313.3,205.0 L313.8,204.9 L314.3,205.0 L314.8,204.7 L315.3,204.5 L315.8,204.3 L316.3,204.5 L316.8,204.9 L317.3,204.9 L317.8,205.2 L318.3,205.0 L318.8,205.1 L319.3,205.1 L319.8,205.2 L320.3,205.0 L320.8,205.2 L321.3,205.0 L321.8,205.2 L322.3,205.1 L322.8,205.1 L323.3,205.0 L323.8,205.2 L324.3,205.0 L324.8,205.2 L325.3,205.2 L325.8,205.2 L326.3,205.3 L326.8,205.2 L327.3,205.0 L327.8,205.2 L328.3,204.9 L328.8,204.6 L329.3,204.0 L329.8,203.9 L330.3,204.6 L330.8,205.1 L331.3,205.0 L331.8,205.1 L332.3,205.2 L332.8,205.2 L333.3,204.9 L333.8,204.3 L334.3,203.2 L334.8,203.3 L335.3,204.4 L335.8,205.1 L336.3,205.0 L336.8,205.2 L337.3,205.1 L337.8,205.1 L338.3,205.0 L338.8,205.0 L339.3,205.3 L339.8,205.1 L340.3,205.2 L340.8,205.1 L341.3,205.2 L341.8,205.1 L342.3,205.0 L342.8,205.1 L343.3,205.1 L343.8,205.0 L344.3,205.2 L344.8,204.9 L345.3,205.0 L345.8,204.9 L346.3,204.4 L346.8,201.9 L347.3,196.2 L347.8,193.6 L348.3,199.1 L348.8,203.3 L349.3,204.5 L349.8,204.9 L350.3,204.8 L350.8,205.0 L351.3,205.2 L351.8,205.0 L352.3,205.2 L352.8,205.0 L353.3,205.1 L353.8,205.0 L354.3,205.2 L354.8,205.2 L355.3,205.2 L355.8,205.2 L356.3,205.2 L356.8,204.9 L357.3,204.7 L357.8,203.9 L358.3,203.8 L358.8,204.4 L359.3,204.9 L359.8,205.1 L360.3,205.1 L360.8,204.5 L361.3,202.9 L361.8,201.8 L362.3,203.1 L362.8,204.4 L363.3,205.0 L363.8,205.2 L364.3,205.3 L364.8,205.3 L365.3,205.1 L365.8,205.0 L366.3,205.3 L366.8,205.0 L367.3,205.1 L367.8,205.1 L368.3,205.2 L368.8,205.0 L369.3,205.0 L369.8,205.1 L370.3,205.0 L370.8,205.1 L371.3,204.7 L371.8,204.6 L372.3,204.5 L372.8,204.0 L373.3,202.4 L373.8,195.3 L374.3,182.4 L374.8,183.0 L375.3,195.2 L375.8,199.8 L376.3,195.0 L376.8,189.6 L377.3,195.0 L377.8,201.5 L378.3,203.3 L378.8,202.8 L379.3,198.0 L379.8,190.2 L380.3,191.8 L380.8,199.7 L381.3,203.6 L381.8,204.4 L382.3,204.6 L382.8,204.7 L383.3,204.7 L383.8,204.8 L384.3,204.4 L384.8,202.7 L385.3,199.8 L385.8,200.8 L386.3,203.6 L386.8,204.7 L387.3,205.0 L387.8,205.1 L388.3,205.3 L388.8,205.1 L389.3,205.3 L389.8,205.1 L390.3,205.1 L390.8,205.0 L391.3,204.6 L391.8,204.3 L392.3,204.7 L392.8,205.2 L393.3,205.3 L393.8,205.4 L394.3,205.2 L394.8,205.3 L395.3,205.2 L395.8,205.3 L396.3,205.2 L396.8,205.4 L397.3,205.3 L397.8,205.2 L398.3,205.4 L398.8,205.3 L399.3,205.3 L399.8,205.3 L400.3,205.4 L400.8,205.5 L401.3,205.4 L401.8,205.3 L402.3,205.2 L402.8,205.3 L403.3,205.3 L403.8,205.4 L404.3,205.4 L404.8,205.3 L405.3,205.3 L405.8,205.5 L406.3,205.5 L406.8,205.5 L407.3,205.5 L407.8,205.1 L408.3,204.6 L408.8,204.3 L409.3,204.9 L409.8,205.2 L410.3,204.7 L410.8,202.9 L411.3,200.6 L411.8,201.9 L412.3,204.4 L412.8,205.3 L413.3,205.3 L413.8,205.3 L414.3,205.3 L414.8,205.4 L415.3,205.4 L415.8,205.5 L416.3,205.5 L416.8,205.5 L417.3,205.5 L417.8,205.7 L418.3,205.5 L418.8,205.5 L419.3,205.7 L419.8,205.5 L420.3,205.5 L420.8,204.9 L421.3,204.2 L421.8,204.5 L422.3,205.5 L422.8,205.5 L423.3,205.7 L423.8,205.6 L424.3,205.8 L424.8,205.7 L425.3,205.8 L425.8,205.7 L426.3,205.8 L426.8,205.9 L427.3,205.8 L427.8,205.9 L428.3,205.6 L428.8,205.6 L429.3,204.8 L429.8,204.9 L430.3,205.4 L430.8,205.7 L431.3,205.9 L431.8,205.8 L432.3,205.9 L432.8,206.0 L433.3,205.8 L433.8,205.8 L434.3,206.0 L434.8,205.8 L435.3,205.9 L435.8,205.6 L436.3,205.2 L436.8,205.6 L437.3,205.8 L437.8,205.9 L438.3,206.1 L438.8,206.1 L439.3,205.9 L439.8,206.1 L440.3,205.8 L440.8,206.0 L441.3,205.7 L441.8,204.7 L442.3,201.9 L442.8,199.6 L443.3,202.3 L443.8,204.9 L444.3,205.7 L444.8,206.0 L445.3,206.0 L445.8,205.9 L446.3,206.1 L446.8,206.2 L447.3,206.0 L447.8,205.9 L448.3,205.5 L448.8,203.8 L449.3,203.5 L449.8,204.7 L450.3,205.6 L450.8,205.6 L451.3,205.2 L451.8,205.3 L452.3,205.8 L452.8,206.0 L453.3,206.0 L453.8,206.1 L454.3,205.7 L454.8,203.6 L455.3,200.1 L455.8,200.5 L456.3,204.0 L456.8,205.8 L457.3,206.3 L457.8,206.1 L458.3,206.4 L458.8,206.0 L459.3,204.9 L459.8,203.0 L460.3,202.7 L460.8,204.8 L461.3,206.1 L461.8,206.4 L462.3,206.3 L462.8,205.8 L463.3,204.4 L463.8,203.4 L464.3,204.7 L464.8,206.2 L465.3,206.3 L465.8,206.4 L466.3,205.9 L466.8,204.7 L467.3,203.3 L467.8,204.2 L468.3,205.9 L468.8,206.5 L469.3,206.7 L469.8,206.8 L470.3,206.7 L470.8,206.4 L471.3,206.1 L471.8,204.6 L472.3,202.9 L472.8,204.3 L473.3,205.9 L473.8,206.6 L474.3,206.7 L474.8,206.8 L475.3,207.0 L475.8,206.8 L476.3,206.9 L476.8,206.8 L477.3,206.4 L477.8,206.3 L478.3,206.6 L478.8,206.9 L479.3,207.1 L479.8,207.1 L480.3,207.2 L480.8,207.1 L481.3,207.1 L481.8,207.2 L482.3,207.2 L482.8,207.2 L483.3,207.0 L483.8,206.7 L484.3,206.4 L484.8,205.9 L485.3,206.6 L485.8,207.1 L486.3,207.1 L486.8,207.2 L487.3,207.2 L487.8,207.3 L488.3,207.3 L488.8,207.0 L489.3,206.9 L489.8,206.4 L490.3,206.2 L490.8,207.0 L491.3,207.1 L491.8,207.3 L492.3,207.2 L492.8,207.4 L493.3,207.3 L493.8,207.3 L494.3,206.9 L494.8,206.7 L495.3,207.2 L495.8,207.2 L496.3,207.5 L496.8,207.5 L497.3,207.4 L497.8,207.5 L498.3,207.4 L498.8,207.5 L499.3,207.6 L499.8,207.5 L500.3,207.6 L500.8,207.4 L501.3,207.4 L501.8,207.6 L502.3,207.6 L502.8,207.7 L503.3,207.6" stroke="#36c4dc" stroke-width="1.2" fill="none" stroke-linejoin="round"/>
<text x="454.4" y="194.4" font-size="7.4" font-weight="bold" fill="#111" stroke="#111" stroke-width="0.15" textLength="37.0" lengthAdjust="spacingAndGlyphs">W:EG 80:20</text>
<path d="M436.7,192.0H452.2" stroke="#36c4dc" stroke-width="1.4"/>
<path d="M275.8,246.8V10.5" stroke="#808080" stroke-width="1.15" fill="none"/>
<path d="M503.3,10.5V246.8" stroke="#555" stroke-width="1.15" fill="none"/>
<path d="M275.3,10.5H503.8" stroke="#3a3a3a" stroke-width="1.15" fill="none"/>
<path d="M275.8,242.6H503.3" stroke="#222" stroke-width="1.1" fill="none"/>
<path d="M275.8,242.6V246.8M287.2,242.6V244.8M298.6,242.6V246.8M309.9,242.6V244.8M321.3,242.6V246.8M332.7,242.6V244.8M344.1,242.6V246.8M355.4,242.6V244.8M366.8,242.6V246.8M378.2,242.6V244.8M389.6,242.6V246.8M400.9,242.6V244.8M412.3,242.6V246.8M423.7,242.6V244.8M435.1,242.6V246.8M446.4,242.6V244.8M457.8,242.6V246.8M469.2,242.6V244.8M480.6,242.6V246.8M491.9,242.6V244.8M503.3,242.6V246.8" stroke="#333" stroke-width="1" fill="none"/>
<text x="271.9" y="256.0" font-size="8.2" font-weight="bold" fill="#111" stroke="#111" stroke-width="0.1" textLength="7.7" lengthAdjust="spacingAndGlyphs">10</text>
<text x="294.7" y="256.0" font-size="8.2" font-weight="bold" fill="#111" stroke="#111" stroke-width="0.1" textLength="7.7" lengthAdjust="spacingAndGlyphs">15</text>
<text x="317.4" y="256.0" font-size="8.2" font-weight="bold" fill="#111" stroke="#111" stroke-width="0.1" textLength="7.7" lengthAdjust="spacingAndGlyphs">20</text>
<text x="340.2" y="256.0" font-size="8.2" font-weight="bold" fill="#111" stroke="#111" stroke-width="0.1" textLength="7.7" lengthAdjust="spacingAndGlyphs">25</text>
<text x="362.9" y="256.0" font-size="8.2" font-weight="bold" fill="#111" stroke="#111" stroke-width="0.1" textLength="7.7" lengthAdjust="spacingAndGlyphs">30</text>
<text x="385.7" y="256.0" font-size="8.2" font-weight="bold" fill="#111" stroke="#111" stroke-width="0.1" textLength="7.7" lengthAdjust="spacingAndGlyphs">35</text>
<text x="408.4" y="256.0" font-size="8.2" font-weight="bold" fill="#111" stroke="#111" stroke-width="0.1" textLength="7.7" lengthAdjust="spacingAndGlyphs">40</text>
<text x="431.2" y="256.0" font-size="8.2" font-weight="bold" fill="#111" stroke="#111" stroke-width="0.1" textLength="7.7" lengthAdjust="spacingAndGlyphs">45</text>
<text x="453.9" y="256.0" font-size="8.2" font-weight="bold" fill="#111" stroke="#111" stroke-width="0.1" textLength="7.7" lengthAdjust="spacingAndGlyphs">50</text>
<text x="476.7" y="256.0" font-size="8.2" font-weight="bold" fill="#111" stroke="#111" stroke-width="0.1" textLength="7.7" lengthAdjust="spacingAndGlyphs">55</text>
<text x="499.4" y="256.0" font-size="8.2" font-weight="bold" fill="#111" stroke="#111" stroke-width="0.1" textLength="7.7" lengthAdjust="spacingAndGlyphs">60</text>
<text x="280.4" y="21.7" font-size="9.3" font-weight="bold" fill="#111" stroke="#111" stroke-width="0.2">b</text>
<text x="409.8" y="30.6" font-size="6.85" font-weight="bold" fill="#111" stroke="#111" stroke-width="0.2" textLength="78.5" lengthAdjust="spacingAndGlyphs"><tspan font-family="Liberation Serif, serif" font-weight="normal" fill="#444" stroke="none" font-size="7">α</tspan>-TCP ICDD 00-070-0364</text>
<text x="420.2" y="226.4" font-size="6.6" font-weight="bold" fill="#111" stroke="#111" stroke-width="0.2" textLength="67.1" lengthAdjust="spacingAndGlyphs">HAp ICDD 00-76-0694</text>
<text x="371.1" y="267.6" font-size="8.5" font-weight="bold" fill="#111" stroke="#111" stroke-width="0.25" textLength="52.3" lengthAdjust="spacingAndGlyphs">2 theta (deg.)</text>
<text transform="translate(268.5,143.1) rotate(-90)" font-size="8.3" font-weight="bold" fill="#111" stroke="#111" stroke-width="0.25" textLength="37.1" lengthAdjust="spacingAndGlyphs">Intensity</text>
<path d="M281.3,120.8l1.9,2.4l-1.9,2.4l-1.9,-2.4z" fill="#2aa3a3"/>
<text x="286.9" y="125.5" font-size="9.8" fill="#111" stroke="#111" stroke-width="0.14" textLength="24.6" lengthAdjust="spacingAndGlyphs"><tspan fill="#555" stroke="#555" stroke-width="0.1" font-family="Liberation Serif, serif" font-size="9.5">β</tspan>-TCP</text>
<path d="M371.0,121.7l1.9,2.4l-1.9,2.4l-1.9,-2.4z" fill="#2aa3a3"/>
<path d="M281.2,152.4l1.9,2.4l-1.9,2.4l-1.9,-2.4z" fill="#2aa3a3"/>
<text x="286.8" y="157.1" font-size="9.8" fill="#111" stroke="#111" stroke-width="0.14" textLength="24.6" lengthAdjust="spacingAndGlyphs"><tspan fill="#555" stroke="#555" stroke-width="0.1" font-family="Liberation Serif, serif" font-size="9.5">β</tspan>-TCP</text>
<path d="M370.9,166.2l1.9,2.4l-1.9,2.4l-1.9,-2.4z" fill="#2aa3a3"/>
<path d="M32.5,318.4V308.4M35.5,318.4V317.4M40.5,318.4V314.4M46.5,318.4V315.4M54.5,318.4V314.7M66.5,318.4V317.4M70.5,318.4V317.9M74.5,318.4V317.8M77.5,318.4V312.4M80.5,318.4V306.8M83.5,318.4V317.1M87.5,318.4V310.4M92.5,318.4V317.8M96.5,318.4V317.9M101.5,318.4V317.9M105.5,318.4V317.8M111.5,318.4V313.6M115.5,318.4V313.2M116.5,318.4V290.8M119.5,318.4V312.4M122.5,318.4V316.8M127.5,318.4V317.8M132.5,318.4V306.8M133.5,318.4V310.9M136.5,318.4V317.8M138.5,318.4V317.8M142.5,318.4V317.9M146.5,318.4V317.8M149.5,318.4V317.9M154.5,318.4V317.9M158.5,318.4V317.8M164.5,318.4V317.6M166.5,318.4V316.9M170.5,318.4V317.9M173.5,318.4V317.8M178.5,318.4V317.9M183.5,318.4V317.9M189.5,318.4V316.9M193.5,318.4V317.6M197.5,318.4V317.9M201.5,318.4V317.9M205.5,318.4V317.6M210.5,318.4V317.7M215.5,318.4V317.9M219.5,318.4V317.9M226.5,318.4V317.9M233.5,318.4V318.0M238.5,318.4V318.0M243.5,318.4V318.0" stroke="#111" stroke-width="1.2" fill="none"/>
<path d="M26.5,516.8V511.8M53.5,516.8V515.8M62.5,516.8V516.0M76.5,516.8V514.8M81.5,516.8V515.3M94.5,516.8V506.8M104.5,516.8V513.8M108.5,516.8V511.8M121.5,516.8V489.8M123.5,516.8V502.8M126.5,516.8V499.8M131.5,516.8V510.8M138.5,516.8V515.8M155.5,516.8V515.6M157.5,516.8V510.8M168.5,516.8V515.3M176.5,516.8V515.3M182.5,516.8V516.0M189.5,516.8V508.8M195.5,516.8V513.8M197.5,516.8V514.8M201.5,516.8V507.8M206.5,516.8V511.8M210.5,516.8V512.8M213.5,516.8V512.8M218.5,516.8V512.8M224.5,516.8V516.0M230.5,516.8V515.3M236.5,516.8V515.3M240.5,516.8V515.8" stroke="#111" stroke-width="1.2" fill="none"/>
<path d="M22.6,318.4H249.6M22.6,483.5H249.6" stroke="#333" stroke-width="1.1" fill="none"/>
<path d="M22.6,347.1 L23.1,347.0 L23.6,347.2 L24.1,347.0 L24.6,346.9 L25.1,347.2 L25.6,347.2 L26.1,347.0 L26.6,347.1 L27.1,347.2 L27.6,347.3 L28.1,347.3 L28.6,347.2 L29.1,347.3 L29.6,347.2 L30.1,347.2 L30.6,347.1 L31.1,346.9 L31.6,344.6 L32.1,340.8 L32.6,344.1 L33.1,346.7 L33.6,347.4 L34.1,347.5 L34.6,347.4 L35.1,347.6 L35.6,347.4 L36.1,346.8 L36.6,347.1 L37.1,347.4 L37.6,347.5 L38.1,347.7 L38.6,347.6 L39.1,347.8 L39.6,347.6 L40.1,347.1 L40.6,345.4 L41.1,346.3 L41.6,347.5 L42.1,347.7 L42.6,347.7 L43.1,347.9 L43.6,347.8 L44.1,348.1 L44.6,347.9 L45.1,348.0 L45.6,347.7 L46.1,346.6 L46.6,347.2 L47.1,348.0 L47.6,348.1 L48.1,348.1 L48.6,348.3 L49.1,348.1 L49.6,348.3 L50.1,348.1 L50.6,348.3 L51.1,348.4 L51.6,348.3 L52.1,348.4 L52.6,348.3 L53.1,348.3 L53.6,348.3 L54.1,347.9 L54.6,345.9 L55.1,346.0 L55.6,348.0 L56.1,348.4 L56.6,348.5 L57.1,348.5 L57.6,348.5 L58.1,348.6 L58.6,348.5 L59.1,348.5 L59.6,348.5 L60.1,348.5 L60.6,348.6 L61.1,348.7 L61.6,348.7 L62.1,348.7 L62.6,348.6 L63.1,348.7 L63.6,348.8 L64.1,348.9 L64.6,348.7 L65.1,348.8 L65.6,348.7 L66.1,348.0 L66.6,348.5 L67.1,348.7 L67.6,348.9 L68.1,348.7 L68.6,348.8 L69.1,348.7 L69.6,348.7 L70.1,348.9 L70.6,348.8 L71.1,348.8 L71.6,349.0 L72.1,348.8 L72.6,349.0 L73.1,348.8 L73.6,348.9 L74.1,348.4 L74.6,348.2 L75.1,348.9 L75.6,348.9 L76.1,348.9 L76.6,348.7 L77.1,348.2 L77.6,345.5 L78.1,343.4 L78.6,347.1 L79.1,348.4 L79.6,348.2 L80.1,346.6 L80.6,337.9 L81.1,334.0 L81.6,344.5 L82.1,348.1 L82.6,348.6 L83.1,348.5 L83.6,347.8 L84.1,347.5 L84.6,348.4 L85.1,348.6 L85.6,347.1 L86.1,340.5 L86.6,339.5 L87.1,346.7 L87.6,348.5 L88.1,348.8 L88.6,348.8 L89.1,349.0 L89.6,349.0 L90.1,349.2 L90.6,349.0 L91.1,349.1 L91.6,349.0 L92.1,349.0 L92.6,348.9 L93.1,348.5 L93.6,348.3 L94.1,348.9 L94.6,349.2 L95.1,349.3 L95.6,349.3 L96.1,349.2 L96.6,348.8 L97.1,348.4 L97.6,349.0 L98.1,349.1 L98.6,349.1 L99.1,349.4 L99.6,349.4 L100.1,349.3 L100.6,349.3 L101.1,349.1 L101.6,348.9 L102.1,348.5 L102.6,348.9 L103.1,349.1 L103.6,349.3 L104.1,349.4 L104.6,349.3 L105.1,349.1 L105.6,349.2 L106.1,348.8 L106.6,348.2 L107.1,348.7 L107.6,349.2 L108.1,349.2 L108.6,349.2 L109.1,349.3 L109.6,349.4 L110.1,349.1 L110.6,349.0 L111.1,347.7 L111.6,345.8 L112.1,347.9 L112.6,348.9 L113.1,349.2 L113.6,349.0 L114.1,349.0 L114.6,348.9 L115.1,348.6 L115.6,346.8 L116.1,335.9 L116.6,320.6 L117.1,337.3 L117.6,347.1 L118.1,348.4 L118.6,347.5 L119.1,344.2 L119.6,345.1 L120.1,348.5 L120.6,349.2 L121.1,349.1 L121.6,349.2 L122.1,349.1 L122.6,348.9 L123.1,347.8 L123.6,347.8 L124.1,349.1 L124.6,349.2 L125.1,349.4 L125.6,349.4 L126.1,349.3 L126.6,349.0 L127.1,348.3 L127.6,349.0 L128.1,349.3 L128.6,349.5 L129.1,349.5 L129.6,349.4 L130.1,349.2 L130.6,349.4 L131.1,349.1 L131.6,347.9 L132.1,341.3 L132.6,337.0 L133.1,345.5 L133.6,348.1 L134.1,346.4 L134.6,347.3 L135.1,348.9 L135.6,349.3 L136.1,349.6 L136.6,349.3 L137.1,349.5 L137.6,349.6 L138.1,349.3 L138.6,348.9 L139.1,348.9 L139.6,349.3 L140.1,349.6 L140.6,349.6 L141.1,349.7 L141.6,349.7 L142.1,349.6 L142.6,349.5 L143.1,349.8 L143.6,349.6 L144.1,349.7 L144.6,349.8 L145.1,349.7 L145.6,349.5 L146.1,349.7 L146.6,349.4 L147.1,348.9 L147.6,348.7 L148.1,349.3 L148.6,349.7 L149.1,349.8 L149.6,349.7 L150.1,349.9 L150.6,349.6 L151.1,349.6 L151.6,349.2 L152.1,349.0 L152.6,349.6 L153.1,349.7 L153.6,349.7 L154.1,349.7 L154.6,349.7 L155.1,349.7 L155.6,349.9 L156.1,349.7 L156.6,349.8 L157.1,349.7 L157.6,349.8 L158.1,349.9 L158.6,349.9 L159.1,349.9 L159.6,349.9 L160.1,349.7 L160.6,349.2 L161.1,348.7 L161.6,349.6 L162.1,349.8 L162.6,349.8 L163.1,349.8 L163.6,349.8 L164.1,349.8 L164.6,349.8 L165.1,349.8 L165.6,349.6 L166.1,348.1 L166.6,346.8 L167.1,348.7 L167.6,349.7 L168.1,349.9 L168.6,350.0 L169.1,349.9 L169.6,350.0 L170.1,350.0 L170.6,350.0 L171.1,350.0 L171.6,349.9 L172.1,350.0 L172.6,350.0 L173.1,349.9 L173.6,350.0 L174.1,349.6 L174.6,348.9 L175.1,349.4 L175.6,349.9 L176.1,349.9 L176.6,349.9 L177.1,350.1 L177.6,350.1 L178.1,349.9 L178.6,349.6 L179.1,349.1 L179.6,349.5 L180.1,350.0 L180.6,350.1 L181.1,350.2 L181.6,350.1 L182.1,350.0 L182.6,350.1 L183.1,350.1 L183.6,350.1 L184.1,350.0 L184.6,350.1 L185.1,350.2 L185.6,350.0 L186.1,350.1 L186.6,350.0 L187.1,350.1 L187.6,350.0 L188.1,350.1 L188.6,349.8 L189.1,348.2 L189.6,345.0 L190.1,347.5 L190.6,349.5 L191.1,350.1 L191.6,350.1 L192.1,350.0 L192.6,350.0 L193.1,349.9 L193.6,348.8 L194.1,349.1 L194.6,350.0 L195.1,350.2 L195.6,350.2 L196.1,350.2 L196.6,350.0 L197.1,349.4 L197.6,349.2 L198.1,350.0 L198.6,350.1 L199.1,350.1 L199.6,350.1 L200.1,350.2 L200.6,350.3 L201.1,350.1 L201.6,349.4 L202.1,349.2 L202.6,350.0 L203.1,350.1 L203.6,350.3 L204.1,350.2 L204.6,350.3 L205.1,349.6 L205.6,348.7 L206.1,349.9 L206.6,350.1 L207.1,350.2 L207.6,350.2 L208.1,350.2 L208.6,350.2 L209.1,350.4 L209.6,350.2 L210.1,350.1 L210.6,349.1 L211.1,348.3 L211.6,349.6 L212.1,350.2 L212.6,350.3 L213.1,350.4 L213.6,350.5 L214.1,350.3 L214.6,350.3 L215.1,349.9 L215.6,349.6 L216.1,349.9 L216.6,350.4 L217.1,350.4 L217.6,350.4 L218.1,350.5 L218.6,350.5 L219.1,350.3 L219.6,350.1 L220.1,349.5 L220.6,350.0 L221.1,350.3 L221.6,350.4 L222.1,350.6 L222.6,350.6 L223.1,350.4 L223.6,350.5 L224.1,350.4 L224.6,350.4 L225.1,350.6 L225.6,350.5 L226.1,350.4 L226.6,349.8 L227.1,349.7 L227.6,350.3 L228.1,350.5 L228.6,350.7 L229.1,350.4 L229.6,350.6 L230.1,350.5 L230.6,350.5 L231.1,350.5 L231.6,350.5 L232.1,350.6 L232.6,350.4 L233.1,350.3 L233.6,349.9 L234.1,350.2 L234.6,350.4 L235.1,350.6 L235.6,350.6 L236.1,350.7 L236.6,350.7 L237.1,350.6 L237.6,350.5 L238.1,349.7 L238.6,350.2 L239.1,350.6 L239.6,350.8 L240.1,350.6 L240.6,350.7 L241.1,350.7 L241.6,350.7 L242.1,350.6 L242.6,349.9 L243.1,350.0 L243.6,350.6 L244.1,350.6 L244.6,350.9 L245.1,350.9 L245.6,350.7 L246.1,350.8 L246.6,350.8 L247.1,350.9 L247.6,350.8 L248.1,350.7 L248.6,350.9 L249.1,350.7 L249.6,350.7" stroke="#6422b0" stroke-width="1.2" fill="none" stroke-linejoin="round"/>
<text x="187.7" y="334.8" font-size="7.4" font-weight="bold" fill="#111" stroke="#111" stroke-width="0.15" textLength="46.8" lengthAdjust="spacingAndGlyphs">W:MeOH 0:100</text>
<path d="M170.0,332.3H185.5" stroke="#6422b0" stroke-width="1.4"/>
<path d="M22.6,377.7 L23.1,377.6 L23.6,377.7 L24.1,377.5 L24.6,377.7 L25.1,377.5 L25.6,376.1 L26.1,372.5 L26.6,374.4 L27.1,377.1 L27.6,377.6 L28.1,377.8 L28.6,378.1 L29.1,378.0 L29.6,378.1 L30.1,378.2 L30.6,378.2 L31.1,378.2 L31.6,378.2 L32.1,378.3 L32.6,378.3 L33.1,378.4 L33.6,378.5 L34.1,378.4 L34.6,378.6 L35.1,378.6 L35.6,378.6 L36.1,378.5 L36.6,378.6 L37.1,378.8 L37.6,378.6 L38.1,378.7 L38.6,378.6 L39.1,378.6 L39.6,378.9 L40.1,378.9 L40.6,379.0 L41.1,378.9 L41.6,378.9 L42.1,379.1 L42.6,379.0 L43.1,379.3 L43.6,379.2 L44.1,379.2 L44.6,379.4 L45.1,379.2 L45.6,379.5 L46.1,379.3 L46.6,379.3 L47.1,379.4 L47.6,379.4 L48.1,379.5 L48.6,379.6 L49.1,379.6 L49.6,379.5 L50.1,379.8 L50.6,379.6 L51.1,379.6 L51.6,379.7 L52.1,379.6 L52.6,379.8 L53.1,379.1 L53.6,377.0 L54.1,376.4 L54.6,378.8 L55.1,379.7 L55.6,380.0 L56.1,379.9 L56.6,380.0 L57.1,380.1 L57.6,380.1 L58.1,380.1 L58.6,380.2 L59.1,380.4 L59.6,380.3 L60.1,380.3 L60.6,380.3 L61.1,380.3 L61.6,380.2 L62.1,380.1 L62.6,379.8 L63.1,380.2 L63.6,380.4 L64.1,380.6 L64.6,380.5 L65.1,380.6 L65.6,380.7 L66.1,380.5 L66.6,380.5 L67.1,380.8 L67.6,380.7 L68.1,380.7 L68.6,380.8 L69.1,380.8 L69.6,380.6 L70.1,380.6 L70.6,380.7 L71.1,380.8 L71.6,380.8 L72.1,380.7 L72.6,380.7 L73.1,380.9 L73.6,380.9 L74.1,380.6 L74.6,380.7 L75.1,380.5 L75.6,379.5 L76.1,377.3 L76.6,378.9 L77.1,380.4 L77.6,380.6 L78.1,381.0 L78.6,380.8 L79.1,381.0 L79.6,380.9 L80.1,380.6 L80.6,379.4 L81.1,377.0 L81.6,378.7 L82.1,380.6 L82.6,380.8 L83.1,381.0 L83.6,381.0 L84.1,380.9 L84.6,381.2 L85.1,381.0 L85.6,381.1 L86.1,381.2 L86.6,381.2 L87.1,381.1 L87.6,381.1 L88.1,381.1 L88.6,381.2 L89.1,381.0 L89.6,381.2 L90.1,381.2 L90.6,381.1 L91.1,381.1 L91.6,381.1 L92.1,381.1 L92.6,380.8 L93.1,380.4 L93.6,377.6 L94.1,367.5 L94.6,368.2 L95.1,378.1 L95.6,380.5 L96.1,381.0 L96.6,380.9 L97.1,381.1 L97.6,381.0 L98.1,381.3 L98.6,381.2 L99.1,381.1 L99.6,381.2 L100.1,381.3 L100.6,381.3 L101.1,381.2 L101.6,381.2 L102.1,380.7 L102.6,377.9 L103.1,376.8 L103.6,379.6 L104.1,380.2 L104.6,378.3 L105.1,379.2 L105.6,381.0 L106.1,381.1 L106.6,381.3 L107.1,381.3 L107.6,380.3 L108.1,376.2 L108.6,375.3 L109.1,379.8 L109.6,381.2 L110.1,381.3 L110.6,381.4 L111.1,381.3 L111.6,381.2 L112.1,381.1 L112.6,381.2 L113.1,381.4 L113.6,381.5 L114.1,381.3 L114.6,381.4 L115.1,381.5 L115.6,381.3 L116.1,381.3 L116.6,381.2 L117.1,380.0 L117.6,375.3 L118.1,373.0 L118.6,378.6 L119.1,380.5 L119.6,380.4 L120.1,378.7 L120.6,367.8 L121.1,351.4 L121.6,366.3 L122.1,377.7 L122.6,376.7 L123.1,365.9 L123.6,363.9 L124.1,376.3 L124.6,380.0 L125.1,380.1 L125.6,378.4 L126.1,367.0 L126.6,353.7 L127.1,369.6 L127.6,379.2 L128.1,381.0 L128.6,381.3 L129.1,381.4 L129.6,381.5 L130.1,381.5 L130.6,381.4 L131.1,380.4 L131.6,375.6 L132.1,371.7 L132.6,377.8 L133.1,381.1 L133.6,381.4 L134.1,381.7 L134.6,381.6 L135.1,381.8 L135.6,381.8 L136.1,381.9 L136.6,382.1 L137.1,381.8 L137.6,381.7 L138.1,381.2 L138.6,380.8 L139.1,381.5 L139.6,381.9 L140.1,382.0 L140.6,382.0 L141.1,382.0 L141.6,381.9 L142.1,382.0 L142.6,382.1 L143.1,382.1 L143.6,382.1 L144.1,382.1 L144.6,382.2 L145.1,382.1 L145.6,382.2 L146.1,382.2 L146.6,382.2 L147.1,382.0 L147.6,382.2 L148.1,382.2 L148.6,382.2 L149.1,382.3 L149.6,382.1 L150.1,382.2 L150.6,382.1 L151.1,382.2 L151.6,382.4 L152.1,382.3 L152.6,382.1 L153.1,382.4 L153.6,382.1 L154.1,382.1 L154.6,381.8 L155.1,380.8 L155.6,381.6 L156.1,382.1 L156.6,382.1 L157.1,380.9 L157.6,376.3 L158.1,375.4 L158.6,380.3 L159.1,382.0 L159.6,382.3 L160.1,382.2 L160.6,382.3 L161.1,382.4 L161.6,382.3 L162.1,382.5 L162.6,382.3 L163.1,382.3 L163.6,382.1 L164.1,382.4 L164.6,382.3 L165.1,382.4 L165.6,382.5 L166.1,382.5 L166.6,382.4 L167.1,382.2 L167.6,381.3 L168.1,381.2 L168.6,382.2 L169.1,382.4 L169.6,382.6 L170.1,382.5 L170.6,382.7 L171.1,382.5 L171.6,382.7 L172.1,382.5 L172.6,382.7 L173.1,382.8 L173.6,382.6 L174.1,382.7 L174.6,382.6 L175.1,382.4 L175.6,382.0 L176.1,381.4 L176.6,382.0 L177.1,382.7 L177.6,382.7 L178.1,382.8 L178.6,382.6 L179.1,382.7 L179.6,382.8 L180.1,382.7 L180.6,382.6 L181.1,382.7 L181.6,382.7 L182.1,382.6 L182.6,382.1 L183.1,382.1 L183.6,382.6 L184.1,382.8 L184.6,382.7 L185.1,382.8 L185.6,382.9 L186.1,382.9 L186.6,382.8 L187.1,382.8 L187.6,382.6 L188.1,382.4 L188.6,380.0 L189.1,374.3 L189.6,377.3 L190.1,381.6 L190.6,382.6 L191.1,382.6 L191.6,382.9 L192.1,382.8 L192.6,382.8 L193.1,382.9 L193.6,382.9 L194.1,382.8 L194.6,382.3 L195.1,381.1 L195.6,379.5 L196.1,381.5 L196.6,382.6 L197.1,382.5 L197.6,382.0 L198.1,381.8 L198.6,382.6 L199.1,382.9 L199.6,382.5 L200.1,382.6 L200.6,382.7 L201.1,381.3 L201.6,375.0 L202.1,372.7 L202.6,379.8 L203.1,382.3 L203.6,382.9 L204.1,383.0 L204.6,383.0 L205.1,382.7 L205.6,382.3 L206.1,379.6 L206.6,378.0 L207.1,381.5 L207.6,382.6 L208.1,383.0 L208.6,382.9 L209.1,382.6 L209.6,381.1 L210.1,378.5 L210.6,381.0 L211.1,382.7 L211.6,383.0 L212.1,383.0 L212.6,382.9 L213.1,381.6 L213.6,378.4 L214.1,379.9 L214.6,382.5 L215.1,382.9 L215.6,383.2 L216.1,383.3 L216.6,383.0 L217.1,383.0 L217.6,382.6 L218.1,381.5 L218.6,378.2 L219.1,379.8 L219.6,382.6 L220.1,383.3 L220.6,383.2 L221.1,383.3 L221.6,383.3 L222.1,383.4 L222.6,383.4 L223.1,383.4 L223.6,383.1 L224.1,382.8 L224.6,383.2 L225.1,383.5 L225.6,383.5 L226.1,383.6 L226.6,383.4 L227.1,383.5 L227.6,383.5 L228.1,383.5 L228.6,383.6 L229.1,383.5 L229.6,383.6 L230.1,383.3 L230.6,382.7 L231.1,382.3 L231.6,383.0 L232.1,383.4 L232.6,383.6 L233.1,383.5 L233.6,383.5 L234.1,383.7 L234.6,383.7 L235.1,383.6 L235.6,383.5 L236.1,382.7 L236.6,382.6 L237.1,383.4 L237.6,383.7 L238.1,383.7 L238.6,383.6 L239.1,383.7 L239.6,383.7 L240.1,383.7 L240.6,383.1 L241.1,382.9 L241.6,383.5 L242.1,383.6 L242.6,383.7 L243.1,383.8 L243.6,383.8 L244.1,383.9 L244.6,384.0 L245.1,383.8 L245.6,383.9 L246.1,383.8 L246.6,383.9 L247.1,383.8 L247.6,384.0 L248.1,383.9 L248.6,383.8 L249.1,383.9 L249.6,384.0" stroke="#9a22f0" stroke-width="1.2" fill="none" stroke-linejoin="round"/>
<text x="187.7" y="370.2" font-size="7.4" font-weight="bold" fill="#111" stroke="#111" stroke-width="0.15" textLength="46.8" lengthAdjust="spacingAndGlyphs">W:MeOH 20:80</text>
<path d="M170.0,367.8H185.5" stroke="#9a22f0" stroke-width="1.4"/>
<path d="M22.6,411.8 L23.1,412.2 L23.6,412.1 L24.1,412.0 L24.6,412.0 L25.1,411.9 L25.6,411.2 L26.1,409.4 L26.6,410.3 L27.1,411.8 L27.6,412.1 L28.1,412.2 L28.6,412.2 L29.1,412.3 L29.6,412.4 L30.1,412.3 L30.6,412.6 L31.1,412.3 L31.6,412.5 L32.1,412.5 L32.6,412.6 L33.1,412.5 L33.6,412.6 L34.1,412.5 L34.6,412.8 L35.1,412.8 L35.6,412.8 L36.1,412.8 L36.6,412.7 L37.1,412.9 L37.6,412.9 L38.1,413.0 L38.6,412.9 L39.1,413.0 L39.6,412.9 L40.1,412.9 L40.6,412.9 L41.1,413.2 L41.6,413.0 L42.1,413.0 L42.6,413.0 L43.1,413.3 L43.6,413.3 L44.1,413.2 L44.6,413.1 L45.1,413.4 L45.6,413.2 L46.1,413.4 L46.6,413.3 L47.1,413.4 L47.6,413.3 L48.1,413.5 L48.6,413.6 L49.1,413.5 L49.6,413.6 L50.1,413.5 L50.6,413.5 L51.1,413.6 L51.6,413.5 L52.1,413.8 L52.6,413.6 L53.1,413.1 L53.6,412.4 L54.1,412.8 L54.6,413.6 L55.1,413.9 L55.6,413.8 L56.1,413.8 L56.6,414.0 L57.1,413.8 L57.6,414.1 L58.1,413.8 L58.6,413.9 L59.1,414.2 L59.6,414.1 L60.1,414.1 L60.6,414.1 L61.1,414.0 L61.6,414.1 L62.1,413.6 L62.6,413.4 L63.1,413.8 L63.6,414.2 L64.1,414.3 L64.6,414.3 L65.1,414.1 L65.6,414.3 L66.1,414.4 L66.6,414.3 L67.1,414.2 L67.6,414.3 L68.1,414.2 L68.6,414.2 L69.1,414.4 L69.6,414.2 L70.1,414.4 L70.6,414.4 L71.1,414.5 L71.6,414.4 L72.1,414.4 L72.6,414.5 L73.1,414.4 L73.6,414.5 L74.1,414.4 L74.6,414.5 L75.1,414.5 L75.6,414.1 L76.1,413.1 L76.6,413.7 L77.1,414.3 L77.6,414.5 L78.1,414.5 L78.6,414.6 L79.1,414.6 L79.6,414.6 L80.1,414.3 L80.6,413.6 L81.1,411.8 L81.6,413.2 L82.1,414.5 L82.6,414.7 L83.1,414.8 L83.6,414.9 L84.1,414.9 L84.6,414.7 L85.1,414.8 L85.6,414.8 L86.1,414.8 L86.6,414.8 L87.1,414.7 L87.6,414.8 L88.1,414.7 L88.6,415.0 L89.1,414.9 L89.6,414.7 L90.1,414.9 L90.6,415.0 L91.1,414.9 L91.6,414.9 L92.1,414.7 L92.6,414.6 L93.1,414.2 L93.6,411.4 L94.1,402.4 L94.6,403.1 L95.1,411.9 L95.6,414.3 L96.1,414.6 L96.6,415.0 L97.1,414.8 L97.6,414.9 L98.1,415.1 L98.6,415.0 L99.1,414.9 L99.6,415.1 L100.1,415.1 L100.6,415.2 L101.1,415.1 L101.6,415.1 L102.1,415.1 L102.6,415.2 L103.1,415.0 L103.6,415.0 L104.1,414.9 L104.6,413.8 L105.1,414.3 L105.6,415.0 L106.1,415.1 L106.6,415.0 L107.1,414.9 L107.6,414.1 L108.1,411.3 L108.6,410.5 L109.1,413.9 L109.6,415.0 L110.1,415.3 L110.6,415.3 L111.1,415.3 L111.6,415.3 L112.1,415.4 L112.6,415.3 L113.1,415.2 L113.6,415.4 L114.1,415.2 L114.6,415.3 L115.1,415.3 L115.6,415.4 L116.1,415.3 L116.6,415.3 L117.1,415.4 L117.6,415.3 L118.1,415.2 L118.6,415.0 L119.1,414.7 L119.6,414.5 L120.1,412.7 L120.6,402.0 L121.1,385.2 L121.6,400.4 L122.1,411.4 L122.6,410.5 L123.1,399.8 L123.6,397.9 L124.1,410.0 L124.6,413.8 L125.1,414.1 L125.6,412.9 L126.1,404.1 L126.6,393.5 L127.1,406.0 L127.6,413.4 L128.1,414.8 L128.6,415.2 L129.1,415.3 L129.6,415.4 L130.1,415.4 L130.6,415.2 L131.1,414.4 L131.6,410.8 L132.1,407.8 L132.6,412.6 L133.1,415.0 L133.6,415.4 L134.1,415.5 L134.6,415.6 L135.1,415.8 L135.6,415.7 L136.1,415.8 L136.6,415.7 L137.1,415.7 L137.6,415.5 L138.1,415.0 L138.6,414.8 L139.1,415.6 L139.6,415.9 L140.1,415.9 L140.6,415.9 L141.1,416.0 L141.6,415.7 L142.1,415.9 L142.6,415.9 L143.1,415.8 L143.6,415.9 L144.1,415.8 L144.6,416.0 L145.1,415.8 L145.6,415.9 L146.1,415.8 L146.6,416.1 L147.1,415.9 L147.6,416.0 L148.1,415.8 L148.6,415.9 L149.1,416.0 L149.6,415.9 L150.1,416.1 L150.6,416.1 L151.1,415.9 L151.6,416.0 L152.1,415.9 L152.6,416.0 L153.1,416.1 L153.6,415.9 L154.1,416.0 L154.6,415.5 L155.1,414.7 L155.6,415.4 L156.1,415.7 L156.6,415.8 L157.1,414.7 L157.6,410.1 L158.1,409.1 L158.6,414.2 L159.1,415.7 L159.6,415.8 L160.1,416.2 L160.6,416.0 L161.1,416.2 L161.6,416.1 L162.1,416.2 L162.6,416.2 L163.1,416.1 L163.6,416.2 L164.1,416.4 L164.6,416.2 L165.1,416.3 L165.6,416.4 L166.1,416.1 L166.6,416.3 L167.1,416.1 L167.6,415.0 L168.1,414.7 L168.6,415.8 L169.1,416.1 L169.6,416.3 L170.1,416.2 L170.6,416.4 L171.1,416.5 L171.6,416.2 L172.1,416.4 L172.6,416.3 L173.1,416.4 L173.6,416.3 L174.1,416.3 L174.6,416.3 L175.1,416.3 L175.6,415.6 L176.1,414.9 L176.6,415.8 L177.1,416.2 L177.6,416.4 L178.1,416.4 L178.6,416.5 L179.1,416.5 L179.6,416.5 L180.1,416.4 L180.6,416.4 L181.1,416.3 L181.6,416.5 L182.1,416.4 L182.6,415.9 L183.1,415.8 L183.6,416.2 L184.1,416.5 L184.6,416.6 L185.1,416.5 L185.6,416.5 L186.1,416.3 L186.6,416.4 L187.1,416.4 L187.6,416.4 L188.1,415.9 L188.6,413.7 L189.1,408.4 L189.6,411.1 L190.1,415.3 L190.6,416.3 L191.1,416.4 L191.6,416.5 L192.1,416.5 L192.6,416.6 L193.1,416.6 L193.6,416.6 L194.1,416.6 L194.6,416.3 L195.1,414.8 L195.6,413.1 L196.1,415.0 L196.6,416.3 L197.1,416.1 L197.6,415.5 L198.1,415.5 L198.6,416.4 L199.1,416.4 L199.6,416.5 L200.1,416.6 L200.6,416.4 L201.1,415.3 L201.6,410.3 L202.1,408.7 L202.6,414.2 L203.1,416.3 L203.6,416.6 L204.1,416.6 L204.6,416.6 L205.1,416.6 L205.6,415.9 L206.1,413.6 L206.6,412.1 L207.1,415.2 L207.6,416.5 L208.1,416.7 L208.6,416.7 L209.1,416.3 L209.6,415.1 L210.1,413.0 L210.6,414.9 L211.1,416.4 L211.6,416.5 L212.1,416.6 L212.6,416.5 L213.1,415.5 L213.6,413.0 L214.1,414.3 L214.6,416.3 L215.1,416.7 L215.6,416.7 L216.1,416.7 L216.6,416.8 L217.1,416.8 L217.6,416.6 L218.1,415.4 L218.6,412.5 L219.1,414.0 L219.6,416.3 L220.1,416.8 L220.6,416.9 L221.1,416.8 L221.6,417.0 L222.1,416.9 L222.6,416.9 L223.1,416.9 L223.6,416.7 L224.1,416.2 L224.6,416.7 L225.1,416.9 L225.6,417.1 L226.1,417.1 L226.6,417.0 L227.1,417.0 L227.6,417.1 L228.1,417.1 L228.6,417.1 L229.1,417.2 L229.6,417.0 L230.1,416.8 L230.6,416.4 L231.1,415.7 L231.6,416.7 L232.1,417.0 L232.6,417.0 L233.1,417.2 L233.6,417.2 L234.1,417.1 L234.6,417.0 L235.1,417.2 L235.6,416.9 L236.1,416.3 L236.6,415.9 L237.1,417.0 L237.6,417.0 L238.1,417.1 L238.6,417.1 L239.1,417.3 L239.6,417.3 L240.1,417.0 L240.6,416.7 L241.1,416.6 L241.6,417.0 L242.1,417.3 L242.6,417.3 L243.1,417.2 L243.6,417.4 L244.1,417.4 L244.6,417.3 L245.1,417.2 L245.6,417.2 L246.1,417.5 L246.6,417.4 L247.1,417.4 L247.6,417.3 L248.1,417.2 L248.6,417.3 L249.1,417.3 L249.6,417.5" stroke="#cc72f4" stroke-width="1.2" fill="none" stroke-linejoin="round"/>
<text x="187.7" y="403.6" font-size="7.4" font-weight="bold" fill="#111" stroke="#111" stroke-width="0.15" textLength="46.8" lengthAdjust="spacingAndGlyphs">W:MeOH 40:60</text>
<path d="M170.0,401.2H185.5" stroke="#cc72f4" stroke-width="1.4"/>
<path d="M22.6,443.9 L23.1,443.8 L23.6,443.9 L24.1,443.9 L24.6,444.0 L25.1,443.9 L25.6,443.1 L26.1,441.8 L26.6,442.4 L27.1,443.7 L27.6,444.1 L28.1,443.9 L28.6,444.2 L29.1,444.3 L29.6,444.1 L30.1,444.2 L30.6,444.4 L31.1,444.4 L31.6,444.4 L32.1,444.5 L32.6,444.3 L33.1,444.4 L33.6,444.6 L34.1,444.4 L34.6,444.5 L35.1,444.4 L35.6,444.6 L36.1,444.8 L36.6,444.6 L37.1,444.8 L37.6,444.6 L38.1,444.7 L38.6,444.9 L39.1,444.9 L39.6,444.8 L40.1,444.8 L40.6,444.8 L41.1,445.1 L41.6,444.9 L42.1,444.9 L42.6,445.0 L43.1,445.0 L43.6,445.2 L44.1,445.1 L44.6,445.2 L45.1,445.2 L45.6,445.3 L46.1,445.2 L46.6,445.3 L47.1,445.3 L47.6,445.3 L48.1,445.3 L48.6,445.5 L49.1,445.4 L49.6,445.6 L50.1,445.5 L50.6,445.4 L51.1,445.6 L51.6,445.7 L52.1,445.6 L52.6,445.5 L53.1,445.3 L53.6,444.3 L54.1,445.0 L54.6,445.7 L55.1,445.6 L55.6,445.7 L56.1,446.0 L56.6,445.9 L57.1,445.8 L57.6,445.9 L58.1,446.0 L58.6,445.8 L59.1,445.9 L59.6,446.1 L60.1,446.0 L60.6,446.1 L61.1,446.0 L61.6,446.0 L62.1,445.7 L62.6,445.4 L63.1,445.7 L63.6,446.1 L64.1,446.3 L64.6,446.4 L65.1,446.1 L65.6,446.3 L66.1,446.2 L66.6,446.5 L67.1,446.3 L67.6,446.5 L68.1,446.3 L68.6,446.5 L69.1,446.3 L69.6,446.4 L70.1,446.5 L70.6,446.4 L71.1,446.4 L71.6,446.6 L72.1,446.4 L72.6,446.6 L73.1,446.7 L73.6,446.6 L74.1,446.6 L74.6,446.5 L75.1,446.5 L75.6,445.9 L76.1,444.9 L76.6,445.7 L77.1,446.3 L77.6,446.5 L78.1,446.7 L78.6,446.8 L79.1,446.8 L79.6,446.6 L80.1,446.4 L80.6,445.6 L81.1,444.1 L81.6,445.3 L82.1,446.5 L82.6,446.6 L83.1,447.0 L83.6,446.9 L84.1,446.8 L84.6,447.0 L85.1,447.1 L85.6,446.9 L86.1,447.0 L86.6,446.8 L87.1,446.9 L87.6,446.9 L88.1,447.1 L88.6,447.1 L89.1,447.0 L89.6,447.1 L90.1,446.9 L90.6,446.9 L91.1,447.0 L91.6,447.1 L92.1,447.1 L92.6,446.7 L93.1,446.4 L93.6,443.7 L94.1,434.7 L94.6,435.5 L95.1,444.2 L95.6,446.5 L96.1,446.9 L96.6,447.1 L97.1,447.0 L97.6,447.1 L98.1,447.2 L98.6,447.2 L99.1,447.2 L99.6,447.3 L100.1,447.4 L100.6,447.3 L101.1,447.5 L101.6,447.3 L102.1,447.4 L102.6,447.4 L103.1,447.4 L103.6,447.4 L104.1,446.4 L104.6,444.3 L105.1,445.0 L105.6,446.8 L106.1,447.3 L106.6,447.4 L107.1,447.4 L107.6,446.7 L108.1,443.5 L108.6,442.8 L109.1,446.1 L109.6,447.2 L110.1,447.4 L110.6,447.5 L111.1,447.5 L111.6,447.6 L112.1,447.6 L112.6,447.8 L113.1,447.6 L113.6,447.7 L114.1,447.6 L114.6,447.6 L115.1,447.6 L115.6,447.7 L116.1,447.8 L116.6,447.5 L117.1,447.5 L117.6,447.4 L118.1,447.6 L118.6,447.2 L119.1,447.3 L119.6,446.6 L120.1,445.0 L120.6,433.7 L121.1,416.7 L121.6,432.1 L122.1,443.7 L122.6,442.8 L123.1,431.9 L123.6,430.2 L124.1,442.6 L124.6,446.2 L125.1,446.6 L125.6,445.1 L126.1,435.9 L126.6,424.9 L127.1,437.9 L127.6,445.9 L128.1,447.2 L128.6,447.5 L129.1,447.5 L129.6,447.6 L130.1,447.7 L130.6,447.7 L131.1,446.8 L131.6,442.7 L132.1,439.3 L132.6,444.8 L133.1,447.5 L133.6,447.7 L134.1,447.9 L134.6,447.9 L135.1,448.0 L135.6,448.1 L136.1,448.0 L136.6,448.0 L137.1,448.2 L137.6,447.9 L138.1,447.4 L138.6,447.2 L139.1,447.9 L139.6,448.1 L140.1,448.3 L140.6,448.1 L141.1,448.2 L141.6,448.3 L142.1,448.3 L142.6,448.4 L143.1,448.2 L143.6,448.2 L144.1,448.4 L144.6,448.3 L145.1,448.3 L145.6,448.2 L146.1,448.5 L146.6,448.4 L147.1,448.3 L147.6,448.3 L148.1,448.3 L148.6,448.5 L149.1,448.3 L149.6,448.4 L150.1,448.3 L150.6,448.4 L151.1,448.4 L151.6,448.3 L152.1,448.4 L152.6,448.5 L153.1,448.3 L153.6,448.5 L154.1,448.3 L154.6,447.9 L155.1,447.2 L155.6,447.5 L156.1,448.0 L156.6,448.0 L157.1,446.9 L157.6,442.3 L158.1,441.7 L158.6,446.6 L159.1,448.0 L159.6,448.3 L160.1,448.4 L160.6,448.4 L161.1,448.4 L161.6,448.4 L162.1,448.7 L162.6,448.5 L163.1,448.6 L163.6,448.7 L164.1,448.6 L164.6,448.6 L165.1,448.7 L165.6,448.6 L166.1,448.5 L166.6,448.6 L167.1,448.2 L167.6,447.4 L168.1,447.1 L168.6,448.3 L169.1,448.5 L169.6,448.6 L170.1,448.6 L170.6,448.7 L171.1,448.6 L171.6,448.6 L172.1,448.7 L172.6,448.7 L173.1,448.8 L173.6,448.8 L174.1,448.6 L174.6,448.7 L175.1,448.5 L175.6,448.1 L176.1,447.4 L176.6,448.2 L177.1,448.6 L177.6,448.6 L178.1,448.7 L178.6,448.7 L179.1,448.7 L179.6,448.9 L180.1,448.7 L180.6,448.8 L181.1,448.7 L181.6,448.9 L182.1,448.5 L182.6,448.3 L183.1,448.0 L183.6,448.6 L184.1,448.8 L184.6,448.8 L185.1,448.7 L185.6,448.9 L186.1,448.7 L186.6,448.7 L187.1,448.6 L187.6,448.5 L188.1,448.3 L188.6,445.9 L189.1,440.2 L189.6,443.2 L190.1,447.6 L190.6,448.7 L191.1,448.9 L191.6,448.8 L192.1,448.9 L192.6,448.7 L193.1,448.9 L193.6,449.0 L194.1,448.9 L194.6,448.6 L195.1,447.2 L195.6,445.4 L196.1,447.4 L196.6,448.5 L197.1,448.6 L197.6,447.7 L198.1,447.9 L198.6,448.5 L199.1,448.9 L199.6,448.9 L200.1,448.8 L200.6,448.5 L201.1,447.3 L201.6,441.6 L202.1,439.7 L202.6,446.1 L203.1,448.5 L203.6,448.9 L204.1,448.8 L204.6,448.9 L205.1,448.8 L205.6,448.3 L206.1,445.7 L206.6,444.2 L207.1,447.3 L207.6,448.8 L208.1,448.8 L208.6,449.0 L209.1,448.6 L209.6,447.2 L210.1,445.0 L210.6,447.2 L211.1,448.6 L211.6,448.9 L212.1,449.0 L212.6,449.0 L213.1,447.7 L213.6,445.3 L214.1,446.5 L214.6,448.6 L215.1,449.1 L215.6,449.2 L216.1,449.1 L216.6,449.0 L217.1,449.0 L217.6,449.0 L218.1,447.6 L218.6,444.7 L219.1,446.2 L219.6,448.5 L220.1,449.0 L220.6,449.1 L221.1,449.3 L221.6,449.2 L222.1,449.3 L222.6,449.3 L223.1,449.2 L223.6,448.9 L224.1,448.5 L224.6,448.8 L225.1,449.2 L225.6,449.2 L226.1,449.3 L226.6,449.4 L227.1,449.2 L227.6,449.3 L228.1,449.4 L228.6,449.4 L229.1,449.3 L229.6,449.2 L230.1,449.2 L230.6,448.6 L231.1,447.9 L231.6,448.8 L232.1,449.4 L232.6,449.3 L233.1,449.5 L233.6,449.2 L234.1,449.5 L234.6,449.4 L235.1,449.3 L235.6,449.3 L236.1,448.5 L236.6,448.1 L237.1,449.2 L237.6,449.2 L238.1,449.4 L238.6,449.5 L239.1,449.6 L239.6,449.3 L240.1,449.5 L240.6,448.8 L241.1,448.7 L241.6,449.3 L242.1,449.3 L242.6,449.4 L243.1,449.5 L243.6,449.5 L244.1,449.5 L244.6,449.5 L245.1,449.5 L245.6,449.5 L246.1,449.6 L246.6,449.4 L247.1,449.4 L247.6,449.7 L248.1,449.6 L248.6,449.6 L249.1,449.6 L249.6,449.5" stroke="#f52cf2" stroke-width="1.2" fill="none" stroke-linejoin="round"/>
<text x="187.7" y="433.1" font-size="7.4" font-weight="bold" fill="#111" stroke="#111" stroke-width="0.15" textLength="46.8" lengthAdjust="spacingAndGlyphs">W:MeOH 60:40</text>
<path d="M170.0,430.6H185.5" stroke="#f52cf2" stroke-width="1.4"/>
<path d="M22.6,474.7 L23.1,474.9 L23.6,474.8 L24.1,474.7 L24.6,474.8 L25.1,474.4 L25.6,473.4 L26.1,471.7 L26.6,472.3 L27.1,474.1 L27.6,474.8 L28.1,474.9 L28.6,474.9 L29.1,475.0 L29.6,475.1 L30.1,475.1 L30.6,475.3 L31.1,475.2 L31.6,475.3 L32.1,475.4 L32.6,475.4 L33.1,475.4 L33.6,475.5 L34.1,475.5 L34.6,475.5 L35.1,475.5 L35.6,475.4 L36.1,475.6 L36.6,475.6 L37.1,475.6 L37.6,475.6 L38.1,475.5 L38.6,475.7 L39.1,475.8 L39.6,475.8 L40.1,475.8 L40.6,475.8 L41.1,475.7 L41.6,475.7 L42.1,476.0 L42.6,475.7 L43.1,475.9 L43.6,475.9 L44.1,475.9 L44.6,476.1 L45.1,475.9 L45.6,476.1 L46.1,476.1 L46.6,476.0 L47.1,476.0 L47.6,476.1 L48.1,476.1 L48.6,476.2 L49.1,476.3 L49.6,476.4 L50.1,476.3 L50.6,476.3 L51.1,476.3 L51.6,476.3 L52.1,476.3 L52.6,476.2 L53.1,475.7 L53.6,475.1 L54.1,475.5 L54.6,476.2 L55.1,476.5 L55.6,476.5 L56.1,476.5 L56.6,476.6 L57.1,476.6 L57.6,476.5 L58.1,476.7 L58.6,476.7 L59.1,476.6 L59.6,476.9 L60.1,476.8 L60.6,476.9 L61.1,476.8 L61.6,476.8 L62.1,476.3 L62.6,476.1 L63.1,476.5 L63.6,476.7 L64.1,476.9 L64.6,477.1 L65.1,476.8 L65.6,477.1 L66.1,476.9 L66.6,477.1 L67.1,477.1 L67.6,477.1 L68.1,477.2 L68.6,477.2 L69.1,477.0 L69.6,477.1 L70.1,477.3 L70.6,477.3 L71.1,477.2 L71.6,477.1 L72.1,477.2 L72.6,477.2 L73.1,477.3 L73.6,477.4 L74.1,477.2 L74.6,477.3 L75.1,477.2 L75.6,476.5 L76.1,475.9 L76.6,476.2 L77.1,477.1 L77.6,477.3 L78.1,477.5 L78.6,477.4 L79.1,477.4 L79.6,477.5 L80.1,477.1 L80.6,476.2 L81.1,474.9 L81.6,475.6 L82.1,476.9 L82.6,477.4 L83.1,477.4 L83.6,477.5 L84.1,477.7 L84.6,477.7 L85.1,477.7 L85.6,477.7 L86.1,477.6 L86.6,477.8 L87.1,477.8 L87.6,477.9 L88.1,477.8 L88.6,477.7 L89.1,477.9 L89.6,477.7 L90.1,477.8 L90.6,477.6 L91.1,477.7 L91.6,477.8 L92.1,477.7 L92.6,477.3 L93.1,476.0 L93.6,471.3 L94.1,462.5 L94.6,463.0 L95.1,471.7 L95.6,476.3 L96.1,477.4 L96.6,477.6 L97.1,477.8 L97.6,477.9 L98.1,477.9 L98.6,478.1 L99.1,478.2 L99.6,478.0 L100.1,478.1 L100.6,478.2 L101.1,478.1 L101.6,478.2 L102.1,478.2 L102.6,478.3 L103.1,478.2 L103.6,478.1 L104.1,477.5 L104.6,476.3 L105.1,476.8 L105.6,477.7 L106.1,478.1 L106.6,478.1 L107.1,477.9 L107.6,476.7 L108.1,474.3 L108.6,473.9 L109.1,476.3 L109.6,477.8 L110.1,478.2 L110.6,478.2 L111.1,478.3 L111.6,478.4 L112.1,478.6 L112.6,478.5 L113.1,478.4 L113.6,478.3 L114.1,478.4 L114.6,478.6 L115.1,478.4 L115.6,478.6 L116.1,478.5 L116.6,478.3 L117.1,478.5 L117.6,478.3 L118.1,478.1 L118.6,478.1 L119.1,477.8 L119.6,476.8 L120.1,473.1 L120.6,461.5 L121.1,450.1 L121.6,460.0 L122.1,471.0 L122.6,469.8 L123.1,459.9 L123.6,459.0 L124.1,469.5 L124.6,475.3 L125.1,476.3 L125.6,473.1 L126.1,462.7 L126.6,454.8 L127.1,464.6 L127.6,474.2 L128.1,477.5 L128.6,478.1 L129.1,478.4 L129.6,478.5 L130.1,478.5 L130.6,478.0 L131.1,476.7 L131.6,472.3 L132.1,470.0 L132.6,474.2 L133.1,477.5 L133.6,478.5 L134.1,478.9 L134.6,478.8 L135.1,479.0 L135.6,478.9 L136.1,478.9 L136.6,479.2 L137.1,479.0 L137.6,478.6 L138.1,478.3 L138.6,478.2 L139.1,478.8 L139.6,479.3 L140.1,479.2 L140.6,479.3 L141.1,479.4 L141.6,479.2 L142.1,479.4 L142.6,479.3 L143.1,479.5 L143.6,479.2 L144.1,479.3 L144.6,479.4 L145.1,479.3 L145.6,479.4 L146.1,479.4 L146.6,479.5 L147.1,479.5 L147.6,479.5 L148.1,479.6 L148.6,479.4 L149.1,479.3 L149.6,479.4 L150.1,479.4 L150.6,479.5 L151.1,479.7 L151.6,479.4 L152.1,479.5 L152.6,479.4 L153.1,479.6 L153.6,479.4 L154.1,479.3 L154.6,478.9 L155.1,478.1 L155.6,478.6 L156.1,479.0 L156.6,479.0 L157.1,477.3 L157.6,473.3 L158.1,472.9 L158.6,476.5 L159.1,478.7 L159.6,479.4 L160.1,479.5 L160.6,479.5 L161.1,479.6 L161.6,479.6 L162.1,479.7 L162.6,479.8 L163.1,479.7 L163.6,479.8 L164.1,479.9 L164.6,479.8 L165.1,479.7 L165.6,479.7 L166.1,479.7 L166.6,479.6 L167.1,479.4 L167.6,478.5 L168.1,478.4 L168.6,479.1 L169.1,479.7 L169.6,480.0 L170.1,479.9 L170.6,479.9 L171.1,479.9 L171.6,479.9 L172.1,480.1 L172.6,479.8 L173.1,479.9 L173.6,480.1 L174.1,479.8 L174.6,480.1 L175.1,479.7 L175.6,479.1 L176.1,478.8 L176.6,479.4 L177.1,479.7 L177.6,479.9 L178.1,479.9 L178.6,480.0 L179.1,480.1 L179.6,480.0 L180.1,480.1 L180.6,479.9 L181.1,479.9 L181.6,480.0 L182.1,479.8 L182.6,479.4 L183.1,479.5 L183.6,479.9 L184.1,479.9 L184.6,480.0 L185.1,480.0 L185.6,480.2 L186.1,480.2 L186.6,480.2 L187.1,480.0 L187.6,479.9 L188.1,479.0 L188.6,475.7 L189.1,471.4 L189.6,473.6 L190.1,477.9 L190.6,479.6 L191.1,479.9 L191.6,480.0 L192.1,480.1 L192.6,480.2 L193.1,480.2 L193.6,480.2 L194.1,480.1 L194.6,479.6 L195.1,477.9 L195.6,476.9 L196.1,478.1 L196.6,479.5 L197.1,479.6 L197.6,478.9 L198.1,478.9 L198.6,479.6 L199.1,480.1 L199.6,480.0 L200.1,480.0 L200.6,479.4 L201.1,476.7 L201.6,470.3 L202.1,468.6 L202.6,475.0 L203.1,478.9 L203.6,480.0 L204.1,480.2 L204.6,480.2 L205.1,479.8 L205.6,478.9 L206.1,476.3 L206.6,475.3 L207.1,477.8 L207.6,479.6 L208.1,480.0 L208.6,480.1 L209.1,479.5 L209.6,477.7 L210.1,475.9 L210.6,477.8 L211.1,479.5 L211.6,480.3 L212.1,480.2 L212.6,479.8 L213.1,478.1 L213.6,475.8 L214.1,476.9 L214.6,479.3 L215.1,480.3 L215.6,480.4 L216.1,480.5 L216.6,480.6 L217.1,480.3 L217.6,480.0 L218.1,478.2 L218.6,475.5 L219.1,476.6 L219.6,479.2 L220.1,480.4 L220.6,480.7 L221.1,480.6 L221.6,480.7 L222.1,480.9 L222.6,480.7 L223.1,480.8 L223.6,480.5 L224.1,480.0 L224.6,480.5 L225.1,480.7 L225.6,480.9 L226.1,480.9 L226.6,480.8 L227.1,480.9 L227.6,480.8 L228.1,481.0 L228.6,481.1 L229.1,480.8 L229.6,480.8 L230.1,480.6 L230.6,480.0 L231.1,479.7 L231.6,480.4 L232.1,481.0 L232.6,480.9 L233.1,480.9 L233.6,481.0 L234.1,481.1 L234.6,481.1 L235.1,481.0 L235.6,480.8 L236.1,480.2 L236.6,480.0 L237.1,480.5 L237.6,481.1 L238.1,481.1 L238.6,481.2 L239.1,481.2 L239.6,481.0 L240.1,481.1 L240.6,480.7 L241.1,480.5 L241.6,480.9 L242.1,481.1 L242.6,481.2 L243.1,481.2 L243.6,481.2 L244.1,481.3 L244.6,481.3 L245.1,481.4 L245.6,481.3 L246.1,481.2 L246.6,481.4 L247.1,481.4 L247.6,481.5 L248.1,481.4 L248.6,481.2 L249.1,481.3 L249.6,481.5" stroke="#f0187e" stroke-width="1.2" fill="none" stroke-linejoin="round"/>
<text x="187.7" y="463.9" font-size="7.4" font-weight="bold" fill="#111" stroke="#111" stroke-width="0.15" textLength="46.8" lengthAdjust="spacingAndGlyphs">W:MeOH 80:20</text>
<path d="M170.0,461.5H185.5" stroke="#f0187e" stroke-width="1.4"/>
<path d="M22.6,521.0V285.8" stroke="#808080" stroke-width="1.15" fill="none"/>
<path d="M249.6,285.8V521.0" stroke="#555" stroke-width="1.15" fill="none"/>
<path d="M22.1,285.8H250.1" stroke="#3a3a3a" stroke-width="1.15" fill="none"/>
<path d="M22.6,516.8H249.6" stroke="#222" stroke-width="1.1" fill="none"/>
<path d="M22.6,516.8V521.0M34.0,516.8V519.0M45.3,516.8V521.0M56.6,516.8V519.0M68.0,516.8V521.0M79.3,516.8V519.0M90.7,516.8V521.0M102.1,516.8V519.0M113.4,516.8V521.0M124.8,516.8V519.0M136.1,516.8V521.0M147.4,516.8V519.0M158.8,516.8V521.0M170.2,516.8V519.0M181.5,516.8V521.0M192.8,516.8V519.0M204.2,516.8V521.0M215.5,516.8V519.0M226.9,516.8V521.0M238.2,516.8V519.0M249.6,516.8V521.0" stroke="#333" stroke-width="1" fill="none"/>
<text x="18.8" y="530.2" font-size="8.2" font-weight="bold" fill="#111" stroke="#111" stroke-width="0.1" textLength="7.7" lengthAdjust="spacingAndGlyphs">10</text>
<text x="41.4" y="530.2" font-size="8.2" font-weight="bold" fill="#111" stroke="#111" stroke-width="0.1" textLength="7.7" lengthAdjust="spacingAndGlyphs">15</text>
<text x="64.2" y="530.2" font-size="8.2" font-weight="bold" fill="#111" stroke="#111" stroke-width="0.1" textLength="7.7" lengthAdjust="spacingAndGlyphs">20</text>
<text x="86.8" y="530.2" font-size="8.2" font-weight="bold" fill="#111" stroke="#111" stroke-width="0.1" textLength="7.7" lengthAdjust="spacingAndGlyphs">25</text>
<text x="109.6" y="530.2" font-size="8.2" font-weight="bold" fill="#111" stroke="#111" stroke-width="0.1" textLength="7.7" lengthAdjust="spacingAndGlyphs">30</text>
<text x="132.2" y="530.2" font-size="8.2" font-weight="bold" fill="#111" stroke="#111" stroke-width="0.1" textLength="7.7" lengthAdjust="spacingAndGlyphs">35</text>
<text x="154.9" y="530.2" font-size="8.2" font-weight="bold" fill="#111" stroke="#111" stroke-width="0.1" textLength="7.7" lengthAdjust="spacingAndGlyphs">40</text>
<text x="177.7" y="530.2" font-size="8.2" font-weight="bold" fill="#111" stroke="#111" stroke-width="0.1" textLength="7.7" lengthAdjust="spacingAndGlyphs">45</text>
<text x="200.3" y="530.2" font-size="8.2" font-weight="bold" fill="#111" stroke="#111" stroke-width="0.1" textLength="7.7" lengthAdjust="spacingAndGlyphs">50</text>
<text x="223.1" y="530.2" font-size="8.2" font-weight="bold" fill="#111" stroke="#111" stroke-width="0.1" textLength="7.7" lengthAdjust="spacingAndGlyphs">55</text>
<text x="245.8" y="530.2" font-size="8.2" font-weight="bold" fill="#111" stroke="#111" stroke-width="0.1" textLength="7.7" lengthAdjust="spacingAndGlyphs">60</text>
<text x="27.1" y="295.9" font-size="9.3" font-weight="bold" fill="#111" stroke="#111" stroke-width="0.2">c</text>
<text x="154.8" y="303.6" font-size="6.85" font-weight="bold" fill="#111" stroke="#111" stroke-width="0.2" textLength="79.1" lengthAdjust="spacingAndGlyphs"><tspan font-family="Liberation Serif, serif" font-weight="normal" fill="#444" stroke="none" font-size="7">α</tspan>-TCP ICDD 00-070-0364</text>
<text x="169.1" y="500.7" font-size="6.6" font-weight="bold" fill="#111" stroke="#111" stroke-width="0.2" textLength="67.1" lengthAdjust="spacingAndGlyphs">HAp ICDD 00-76-0694</text>
<text x="108.3" y="543.0" font-size="8.5" font-weight="bold" fill="#111" stroke="#111" stroke-width="0.25" textLength="51.5" lengthAdjust="spacingAndGlyphs">2 theta (deg.)</text>
<text transform="translate(14.1,418.0) rotate(-90)" font-size="8.3" font-weight="bold" fill="#111" stroke="#111" stroke-width="0.25" textLength="37.1" lengthAdjust="spacingAndGlyphs">Intensity</text>
<path d="M29.2,362.6l1.9,2.4l-1.9,2.4l-1.9,-2.4z" fill="#9b30f0"/>
<text x="32.2" y="367.3" font-size="9.8" fill="#111" stroke="#111" stroke-width="0.14" textLength="25.2" lengthAdjust="spacingAndGlyphs"><tspan fill="#555" stroke="#555" stroke-width="0.1" font-family="Liberation Serif, serif" font-size="9.5">β</tspan>-TCP</text>
<path d="M116.9,365.1l1.9,2.4l-1.9,2.4l-1.9,-2.4z" fill="#9b30f0"/>
<path d="M285.5,318.6V308.6M289.5,318.6V317.6M294.5,318.6V314.6M299.5,318.6V315.6M308.5,318.6V314.9M319.5,318.6V317.6M323.5,318.6V318.1M327.5,318.6V318.0M330.5,318.6V312.6M334.5,318.6V307.0M337.5,318.6V317.3M340.5,318.6V310.6M345.5,318.6V318.0M349.5,318.6V318.1M355.5,318.6V318.1M359.5,318.6V318.0M365.5,318.6V313.8M368.5,318.6V313.4M370.5,318.6V291.0M372.5,318.6V312.6M376.5,318.6V317.0M380.5,318.6V318.0M385.5,318.6V307.0M387.5,318.6V311.1M389.5,318.6V318.0M392.5,318.6V318.0M396.5,318.6V318.1M400.5,318.6V318.0M403.5,318.6V318.1M407.5,318.6V318.1M412.5,318.6V318.0M417.5,318.6V317.8M419.5,318.6V317.1M423.5,318.6V318.1M427.5,318.6V318.0M432.5,318.6V318.1M437.5,318.6V318.1M443.5,318.6V317.1M446.5,318.6V317.8M451.5,318.6V318.1M455.5,318.6V318.1M459.5,318.6V317.8M464.5,318.6V317.9M469.5,318.6V318.1M473.5,318.6V318.1M480.5,318.6V318.1M486.5,318.6V318.2M492.5,318.6V318.2M496.5,318.6V318.2" stroke="#111" stroke-width="1.2" fill="none"/>
<path d="M279.5,518.3V513.3M307.5,518.3V517.3M315.5,518.3V517.5M329.5,518.3V516.3M334.5,518.3V516.8M348.5,518.3V508.3M358.5,518.3V515.3M362.5,518.3V513.3M374.5,518.3V491.3M376.5,518.3V504.3M380.5,518.3V501.3M385.5,518.3V512.3M391.5,518.3V517.3M408.5,518.3V517.1M411.5,518.3V512.3M421.5,518.3V516.8M429.5,518.3V516.8M436.5,518.3V517.5M442.5,518.3V510.3M449.5,518.3V515.3M451.5,518.3V516.3M455.5,518.3V509.3M459.5,518.3V513.3M463.5,518.3V514.3M467.5,518.3V514.3M471.5,518.3V514.3M477.5,518.3V517.5M484.5,518.3V516.8M490.5,518.3V516.8M494.5,518.3V517.3" stroke="#111" stroke-width="1.2" fill="none"/>
<path d="M276.0,318.6H503.1M276.0,485.5H503.1" stroke="#333" stroke-width="1.1" fill="none"/>
<path d="M276.0,348.5 L276.5,348.5 L277.0,348.6 L277.5,348.4 L278.0,348.6 L278.5,348.4 L279.0,348.4 L279.5,348.7 L280.0,348.7 L280.5,348.4 L281.0,348.6 L281.5,348.7 L282.0,348.7 L282.5,348.6 L283.0,348.7 L283.5,348.6 L284.0,348.5 L284.5,348.3 L285.0,345.9 L285.5,341.8 L286.0,345.4 L286.5,348.2 L287.0,348.4 L287.5,348.5 L288.0,348.6 L288.5,348.8 L289.0,348.4 L289.5,348.1 L290.0,348.1 L290.5,348.6 L291.0,348.6 L291.5,348.6 L292.0,348.8 L292.5,348.7 L293.0,348.6 L293.5,348.1 L294.0,346.3 L294.5,347.2 L295.0,348.5 L295.5,348.9 L296.0,348.7 L296.5,348.9 L297.0,348.9 L297.5,348.9 L298.0,348.8 L298.5,348.9 L299.0,348.5 L299.5,347.5 L300.0,348.1 L300.5,348.7 L301.0,348.9 L301.5,349.0 L302.0,348.9 L302.5,349.0 L303.0,348.9 L303.5,349.1 L304.0,349.0 L304.5,348.9 L305.0,349.0 L305.5,349.1 L306.0,349.0 L306.5,349.0 L307.0,348.9 L307.5,348.3 L308.0,346.5 L308.5,346.7 L309.0,348.6 L309.5,348.9 L310.0,348.9 L310.5,349.2 L311.0,349.2 L311.5,349.0 L312.0,349.0 L312.5,349.2 L313.0,349.1 L313.5,349.1 L314.0,349.2 L314.5,349.3 L315.0,349.3 L315.5,349.1 L316.0,349.2 L316.5,349.4 L317.0,349.3 L317.5,349.3 L318.0,349.3 L318.5,349.3 L319.0,348.8 L319.5,348.6 L320.0,348.7 L320.5,349.2 L321.0,349.2 L321.5,349.1 L322.0,349.2 L322.5,349.3 L323.0,349.4 L323.5,349.3 L324.0,349.3 L324.5,349.4 L325.0,349.4 L325.5,349.4 L326.0,349.4 L326.5,349.2 L327.0,349.3 L327.5,348.6 L328.0,348.6 L328.5,349.3 L329.0,349.3 L329.5,349.3 L330.0,349.2 L330.5,348.6 L331.0,345.9 L331.5,343.8 L332.0,347.5 L332.5,348.8 L333.0,348.6 L333.5,347.3 L334.0,339.8 L334.5,336.3 L335.0,345.6 L335.5,348.7 L336.0,349.0 L336.5,349.1 L337.0,348.3 L337.5,348.0 L338.0,348.9 L338.5,349.1 L339.0,347.6 L339.5,340.9 L340.0,339.9 L340.5,347.2 L341.0,349.1 L341.5,349.4 L342.0,349.4 L342.5,349.6 L343.0,349.6 L343.5,349.5 L344.0,349.7 L344.5,349.6 L345.0,349.5 L345.5,349.6 L346.0,349.6 L346.5,349.0 L347.0,348.8 L347.5,349.6 L348.0,349.7 L348.5,349.8 L349.0,349.7 L349.5,349.6 L350.0,349.3 L350.5,348.9 L351.0,349.4 L351.5,349.7 L352.0,349.6 L352.5,349.8 L353.0,349.8 L353.5,349.7 L354.0,349.7 L354.5,349.9 L355.0,349.5 L355.5,349.1 L356.0,349.6 L356.5,349.6 L357.0,349.7 L357.5,349.9 L358.0,349.9 L358.5,349.7 L359.0,349.8 L359.5,349.4 L360.0,348.9 L360.5,349.3 L361.0,349.8 L361.5,349.8 L362.0,350.0 L362.5,349.7 L363.0,349.9 L363.5,349.9 L364.0,349.6 L364.5,348.1 L365.0,346.2 L365.5,348.5 L366.0,349.6 L366.5,349.7 L367.0,349.6 L367.5,349.6 L368.0,349.3 L368.5,349.1 L369.0,347.7 L369.5,337.4 L370.0,322.9 L370.5,338.9 L371.0,347.9 L371.5,348.9 L372.0,348.2 L372.5,344.8 L373.0,345.6 L373.5,349.0 L374.0,349.8 L374.5,349.8 L375.0,350.0 L375.5,350.0 L376.0,349.5 L376.5,348.5 L377.0,348.1 L377.5,349.6 L378.0,349.8 L378.5,349.9 L379.0,350.1 L379.5,350.0 L380.0,349.4 L380.5,348.9 L381.0,349.8 L381.5,350.0 L382.0,349.9 L382.5,350.1 L383.0,350.1 L383.5,350.0 L384.0,349.8 L384.5,349.7 L385.0,348.3 L385.5,341.6 L386.0,337.5 L386.5,346.1 L387.0,348.6 L387.5,346.9 L388.0,347.7 L388.5,349.7 L389.0,349.8 L389.6,350.1 L390.1,350.1 L390.6,350.1 L391.1,350.1 L391.6,350.1 L392.1,349.5 L392.6,349.4 L393.1,350.1 L393.6,350.2 L394.1,350.3 L394.6,350.3 L395.1,350.2 L395.6,350.2 L396.1,350.2 L396.6,350.3 L397.1,350.2 L397.6,350.3 L398.1,350.4 L398.6,350.1 L399.1,350.3 L399.6,350.1 L400.1,350.0 L400.6,349.5 L401.1,349.3 L401.6,350.1 L402.1,350.1 L402.6,350.4 L403.1,350.2 L403.6,350.2 L404.1,350.3 L404.6,350.3 L405.1,349.8 L405.6,349.5 L406.1,350.2 L406.6,350.4 L407.1,350.2 L407.6,350.3 L408.1,350.5 L408.6,350.4 L409.1,350.2 L409.6,350.5 L410.1,350.4 L410.6,350.5 L411.1,350.3 L411.6,350.5 L412.1,350.4 L412.6,350.2 L413.1,350.3 L413.6,350.1 L414.1,349.9 L414.6,349.3 L415.1,349.9 L415.6,350.3 L416.1,350.4 L416.6,350.3 L417.1,350.3 L417.6,350.3 L418.1,350.4 L418.6,350.2 L419.1,350.2 L419.6,348.7 L420.1,347.5 L420.6,349.3 L421.1,350.2 L421.6,350.2 L422.1,350.4 L422.6,350.2 L423.1,350.3 L423.6,350.5 L424.1,350.5 L424.6,350.5 L425.1,350.4 L425.6,350.3 L426.1,350.3 L426.6,350.5 L427.1,350.3 L427.6,350.0 L428.1,349.5 L428.6,350.0 L429.1,350.2 L429.6,350.3 L430.1,350.6 L430.6,350.3 L431.1,350.5 L431.6,350.5 L432.1,350.0 L432.6,349.4 L433.1,349.8 L433.6,350.2 L434.1,350.6 L434.6,350.4 L435.1,350.6 L435.6,350.5 L436.1,350.4 L436.6,350.4 L437.1,350.5 L437.6,350.5 L438.1,350.6 L438.6,350.4 L439.1,350.4 L439.6,350.4 L440.1,350.5 L440.6,350.5 L441.1,350.4 L441.6,350.3 L442.1,350.2 L442.6,348.7 L443.1,345.5 L443.6,347.7 L444.1,349.9 L444.6,350.4 L445.1,350.3 L445.6,350.6 L446.1,350.5 L446.6,350.2 L447.1,349.1 L447.6,349.4 L448.1,350.2 L448.6,350.5 L449.1,350.4 L449.6,350.6 L450.1,350.5 L450.6,349.7 L451.1,349.7 L451.6,350.4 L452.1,350.6 L452.6,350.7 L453.1,350.4 L453.6,350.6 L454.1,350.6 L454.6,350.5 L455.1,349.8 L455.6,349.3 L456.1,350.3 L456.6,350.5 L457.1,350.4 L457.6,350.4 L458.1,350.5 L458.6,349.9 L459.1,348.9 L459.6,349.9 L460.1,350.4 L460.6,350.7 L461.1,350.6 L461.6,350.5 L462.1,350.5 L462.6,350.7 L463.1,350.5 L463.6,350.4 L464.1,349.4 L464.6,348.5 L465.1,349.8 L465.6,350.5 L466.1,350.5 L466.6,350.7 L467.1,350.6 L467.6,350.5 L468.1,350.6 L468.6,350.1 L469.1,349.7 L469.6,350.3 L470.1,350.6 L470.6,350.7 L471.1,350.6 L471.6,350.6 L472.1,350.5 L472.6,350.7 L473.1,350.1 L473.6,349.6 L474.1,350.3 L474.6,350.4 L475.1,350.5 L475.6,350.8 L476.1,350.5 L476.6,350.7 L477.1,350.6 L477.6,350.6 L478.1,350.6 L478.6,350.7 L479.1,350.5 L479.6,350.4 L480.1,350.0 L480.6,349.9 L481.1,350.5 L481.6,350.6 L482.1,350.5 L482.6,350.6 L483.1,350.8 L483.6,350.8 L484.1,350.7 L484.6,350.7 L485.1,350.7 L485.6,350.8 L486.1,350.6 L486.6,350.6 L487.1,349.8 L487.6,350.3 L488.1,350.6 L488.6,350.8 L489.1,350.6 L489.6,350.6 L490.1,350.7 L490.6,350.7 L491.1,350.4 L491.6,349.7 L492.1,350.0 L492.6,350.7 L493.1,350.7 L493.6,350.8 L494.1,350.6 L494.6,350.8 L495.1,350.6 L495.6,350.4 L496.1,349.9 L496.6,350.1 L497.1,350.7 L497.6,350.9 L498.1,350.8 L498.6,350.7 L499.1,350.7 L499.6,350.9 L500.1,350.8 L500.6,350.8 L501.1,350.8 L501.6,350.8 L502.1,350.9 L502.6,350.7 L503.1,350.9" stroke="#229a2a" stroke-width="1.2" fill="none" stroke-linejoin="round"/>
<text x="454.6" y="334.9" font-size="7.4" font-weight="bold" fill="#111" stroke="#111" stroke-width="0.15" textLength="37.0" lengthAdjust="spacingAndGlyphs">W:EG 0:100</text>
<path d="M436.9,332.5H452.4" stroke="#229a2a" stroke-width="1.4"/>
<path d="M276.0,379.8 L276.5,380.1 L277.0,380.1 L277.5,380.1 L278.0,379.8 L278.5,379.8 L279.0,378.2 L279.5,374.5 L280.0,376.3 L280.5,379.3 L281.0,380.1 L281.5,380.0 L282.0,380.2 L282.5,380.1 L283.0,380.4 L283.5,380.3 L284.0,380.4 L284.5,380.4 L285.0,380.3 L285.5,380.3 L286.0,380.4 L286.5,380.4 L287.0,380.5 L287.5,380.6 L288.0,380.5 L288.5,380.5 L289.0,380.5 L289.5,380.7 L290.0,380.8 L290.5,380.6 L291.0,380.6 L291.5,380.6 L292.0,380.4 L292.5,380.4 L293.0,380.8 L293.5,380.7 L294.0,380.8 L294.5,381.0 L295.0,380.8 L295.5,381.1 L296.0,381.1 L296.5,381.1 L297.0,380.9 L297.5,381.1 L298.0,381.1 L298.5,381.1 L299.0,381.0 L299.5,381.2 L300.0,381.2 L300.5,381.2 L301.0,381.1 L301.5,381.1 L302.0,381.2 L302.5,381.3 L303.0,381.3 L303.5,381.5 L304.0,381.3 L304.5,381.4 L305.0,381.2 L305.5,381.2 L306.0,381.1 L306.5,380.8 L307.0,378.8 L307.5,377.9 L308.0,380.3 L308.5,381.2 L309.0,381.4 L309.5,381.5 L310.0,381.4 L310.5,381.6 L311.0,381.6 L311.5,381.5 L312.0,381.7 L312.5,381.7 L313.0,381.7 L313.5,381.8 L314.0,381.7 L314.5,381.8 L315.0,381.6 L315.5,381.6 L316.0,381.0 L316.5,381.7 L317.0,381.9 L317.5,381.8 L318.0,381.9 L318.5,381.9 L319.0,382.0 L319.5,381.8 L320.0,382.0 L320.5,381.9 L321.0,381.8 L321.5,382.0 L322.0,382.1 L322.5,381.9 L323.0,381.9 L323.5,382.0 L324.0,382.1 L324.5,382.0 L325.0,382.1 L325.5,382.1 L326.0,381.9 L326.5,382.1 L327.0,382.2 L327.5,382.1 L328.0,381.9 L328.5,382.0 L329.0,381.7 L329.5,380.5 L330.0,380.7 L330.5,381.8 L331.0,382.1 L331.5,382.0 L332.0,382.0 L332.5,381.9 L333.0,381.9 L333.5,382.1 L334.0,381.4 L334.5,380.0 L335.0,381.1 L335.5,381.9 L336.0,382.2 L336.5,382.2 L337.0,382.0 L337.5,382.2 L338.0,382.3 L338.5,382.2 L339.0,382.1 L339.5,382.4 L340.0,382.2 L340.5,382.2 L341.0,382.3 L341.5,382.2 L342.0,382.2 L342.5,382.3 L343.0,382.1 L343.5,382.1 L344.0,382.1 L344.5,382.2 L345.0,382.2 L345.5,382.0 L346.0,382.2 L346.5,381.7 L347.0,380.1 L347.5,374.9 L348.0,375.2 L348.5,380.4 L349.0,381.9 L349.5,382.0 L350.0,382.1 L350.5,382.1 L351.0,382.1 L351.5,382.2 L352.0,382.4 L352.5,382.3 L353.0,382.2 L353.5,382.3 L354.0,382.3 L354.5,382.3 L355.0,382.0 L355.5,381.0 L356.0,376.4 L356.5,374.1 L357.0,379.6 L357.5,381.2 L358.0,379.9 L358.5,380.4 L359.0,382.0 L359.5,382.2 L360.0,382.4 L360.5,382.2 L361.0,381.5 L361.5,378.8 L362.0,378.0 L362.5,381.2 L363.0,382.3 L363.5,382.2 L364.0,382.4 L364.5,382.4 L365.0,382.1 L365.5,381.9 L366.0,382.2 L366.5,382.2 L367.0,382.3 L367.5,382.5 L368.0,382.4 L368.5,382.5 L369.0,382.3 L369.5,382.2 L370.0,381.8 L370.5,380.0 L371.0,372.1 L371.5,368.5 L372.0,377.7 L372.5,381.0 L373.0,381.2 L373.5,379.6 L374.0,369.7 L374.5,354.4 L375.0,368.5 L375.5,379.0 L376.0,379.2 L376.5,372.8 L377.0,371.7 L377.5,379.0 L378.0,381.2 L378.5,381.5 L379.0,380.0 L379.5,370.6 L380.0,359.7 L380.5,372.6 L381.0,380.4 L381.5,381.9 L382.0,382.1 L382.5,382.2 L383.0,382.3 L383.5,382.5 L384.0,382.2 L384.5,382.0 L385.0,380.9 L385.5,375.0 L386.0,371.2 L386.5,378.9 L387.0,382.1 L387.5,382.4 L388.0,382.4 L388.5,382.6 L389.0,382.7 L389.6,382.7 L390.1,382.7 L390.6,382.6 L391.1,382.7 L391.6,382.0 L392.1,381.9 L392.6,382.3 L393.1,382.7 L393.6,382.6 L394.1,382.8 L394.6,382.8 L395.1,382.8 L395.6,382.8 L396.1,382.9 L396.6,382.9 L397.1,383.0 L397.6,383.0 L398.1,383.0 L398.6,382.9 L399.1,382.7 L399.6,382.9 L400.1,382.7 L400.6,382.7 L401.1,382.8 L401.6,383.1 L402.1,383.1 L402.6,383.0 L403.1,382.9 L403.6,382.9 L404.1,382.9 L404.6,382.9 L405.1,383.0 L405.6,383.0 L406.1,383.0 L406.6,383.0 L407.1,382.9 L407.6,382.9 L408.1,382.7 L408.6,381.8 L409.1,382.2 L409.6,382.8 L410.1,382.7 L410.6,381.6 L411.1,377.8 L411.6,377.1 L412.1,381.2 L412.6,382.6 L413.1,383.0 L413.6,383.0 L414.1,383.1 L414.6,383.0 L415.1,383.0 L415.6,383.0 L416.1,383.2 L416.6,383.0 L417.1,382.9 L417.6,382.9 L418.1,383.0 L418.6,383.2 L419.1,383.0 L419.6,383.0 L420.1,383.2 L420.6,382.8 L421.1,382.0 L421.6,382.0 L422.1,382.9 L422.6,383.2 L423.1,383.2 L423.6,383.2 L424.1,383.1 L424.6,383.3 L425.1,383.1 L425.6,383.1 L426.1,383.3 L426.6,383.4 L427.1,383.3 L427.6,383.4 L428.1,383.4 L428.6,383.1 L429.1,382.6 L429.6,382.2 L430.1,382.7 L430.6,383.2 L431.1,383.1 L431.6,383.4 L432.1,383.2 L432.6,383.4 L433.1,383.4 L433.6,383.2 L434.1,383.3 L434.6,383.2 L435.1,383.2 L435.6,383.1 L436.1,382.8 L436.6,382.7 L437.1,383.2 L437.6,383.4 L438.1,383.4 L438.6,383.5 L439.1,383.5 L439.6,383.5 L440.1,383.3 L440.6,383.4 L441.1,383.3 L441.6,383.1 L442.1,381.2 L442.6,376.7 L443.1,379.2 L443.6,382.5 L444.1,383.3 L444.6,383.2 L445.1,383.4 L445.6,383.5 L446.1,383.5 L446.6,383.5 L447.1,383.3 L447.6,383.2 L448.1,382.8 L448.6,381.7 L449.1,380.5 L449.6,382.4 L450.1,383.1 L450.6,383.2 L451.1,382.4 L451.6,382.5 L452.1,383.1 L452.6,383.3 L453.1,383.1 L453.6,383.1 L454.1,383.4 L454.6,382.5 L455.1,379.3 L455.6,378.0 L456.1,381.8 L456.6,383.2 L457.1,383.4 L457.6,383.3 L458.1,383.5 L458.6,383.3 L459.1,383.1 L459.6,381.0 L460.1,379.9 L460.6,382.4 L461.1,383.3 L461.6,383.6 L462.1,383.5 L462.6,383.3 L463.1,382.2 L463.6,380.6 L464.1,382.4 L464.6,383.5 L465.1,383.4 L465.6,383.7 L466.1,383.5 L466.6,382.7 L467.1,380.5 L467.6,381.5 L468.1,383.4 L468.6,383.7 L469.1,383.7 L469.6,383.6 L470.1,383.5 L470.6,382.8 L471.1,380.4 L471.6,380.7 L472.1,383.0 L472.6,383.7 L473.1,383.8 L473.6,383.8 L474.1,383.9 L474.6,383.7 L475.1,383.8 L475.6,383.8 L476.1,383.7 L476.6,383.7 L477.1,383.7 L477.6,383.4 L478.1,383.5 L478.6,383.7 L479.1,383.9 L479.6,383.8 L480.1,383.9 L480.6,383.8 L481.1,383.9 L481.6,383.9 L482.1,383.9 L482.6,383.8 L483.1,383.8 L483.6,383.9 L484.1,383.4 L484.6,382.8 L485.1,383.5 L485.6,383.9 L486.1,383.9 L486.6,383.9 L487.1,384.1 L487.6,384.0 L488.1,383.9 L488.6,384.1 L489.1,383.8 L489.6,383.3 L490.1,383.0 L490.6,383.8 L491.1,384.1 L491.6,383.9 L492.1,384.0 L492.6,384.1 L493.1,384.1 L493.6,384.1 L494.1,383.5 L494.6,383.4 L495.1,384.0 L495.6,384.0 L496.1,384.2 L496.6,384.1 L497.1,384.1 L497.6,384.1 L498.1,384.0 L498.6,384.1 L499.1,384.2 L499.6,384.1 L500.1,384.1 L500.6,384.2 L501.1,384.2 L501.6,384.2 L502.1,384.1 L502.6,384.3 L503.1,384.2" stroke="#0f7391" stroke-width="1.2" fill="none" stroke-linejoin="round"/>
<text x="454.6" y="368.2" font-size="7.4" font-weight="bold" fill="#111" stroke="#111" stroke-width="0.15" textLength="37.0" lengthAdjust="spacingAndGlyphs">W:EG 20:80</text>
<path d="M436.9,365.8H452.4" stroke="#0f7391" stroke-width="1.4"/>
<path d="M276.0,414.1 L276.5,413.9 L277.0,413.9 L277.5,414.1 L278.0,414.1 L278.5,413.8 L279.0,413.1 L279.5,411.3 L280.0,412.2 L280.5,413.8 L281.0,414.2 L281.5,414.3 L282.0,414.0 L282.5,414.1 L283.0,414.3 L283.5,414.2 L284.0,414.2 L284.5,414.3 L285.0,414.3 L285.5,414.5 L286.0,414.5 L286.5,414.5 L287.0,414.4 L287.5,414.6 L288.0,414.5 L288.5,414.3 L289.0,414.6 L289.5,414.6 L290.0,414.5 L290.5,414.6 L291.0,414.7 L291.5,414.5 L292.0,414.6 L292.5,414.8 L293.0,414.8 L293.5,414.6 L294.0,414.7 L294.5,414.7 L295.0,414.9 L295.5,414.9 L296.0,414.7 L296.5,414.8 L297.0,414.8 L297.5,414.8 L298.0,415.0 L298.5,414.8 L299.0,414.8 L299.5,415.0 L300.0,415.0 L300.5,415.0 L301.0,414.9 L301.5,415.0 L302.0,415.0 L302.5,415.2 L303.0,415.2 L303.5,415.2 L304.0,415.1 L304.5,415.2 L305.0,415.2 L305.5,415.3 L306.0,415.2 L306.5,414.8 L307.0,414.0 L307.5,414.4 L308.0,415.1 L308.5,415.2 L309.0,415.4 L309.5,415.4 L310.0,415.2 L310.5,415.5 L311.0,415.2 L311.5,415.3 L312.0,415.3 L312.5,415.3 L313.0,415.4 L313.5,415.5 L314.0,415.4 L314.5,415.3 L315.0,415.5 L315.5,415.2 L316.0,414.8 L316.5,415.3 L317.0,415.4 L317.5,415.5 L318.0,415.5 L318.5,415.7 L319.0,415.7 L319.5,415.6 L320.0,415.8 L320.5,415.7 L321.0,415.6 L321.5,415.7 L322.0,415.6 L322.5,415.8 L323.0,415.7 L323.5,415.7 L324.0,415.7 L324.5,415.7 L325.0,415.8 L325.5,415.9 L326.0,415.7 L326.5,415.8 L327.0,415.8 L327.5,415.8 L328.0,415.7 L328.5,415.7 L329.0,415.1 L329.5,414.4 L330.0,414.8 L330.5,415.5 L331.0,415.9 L331.5,415.9 L332.0,415.7 L332.5,415.8 L333.0,415.9 L333.5,415.8 L334.0,414.9 L334.5,413.3 L335.0,414.4 L335.5,415.7 L336.0,416.0 L336.5,415.9 L337.0,416.0 L337.5,416.1 L338.0,416.1 L338.5,416.0 L339.0,415.9 L339.5,416.2 L340.0,416.0 L340.5,416.1 L341.0,416.1 L341.5,415.9 L342.0,415.9 L342.5,416.1 L343.0,416.2 L343.5,416.1 L344.0,416.2 L344.5,416.0 L345.0,416.1 L345.5,416.1 L346.0,415.8 L346.5,415.6 L347.0,413.8 L347.5,406.9 L348.0,407.4 L348.5,413.9 L349.0,415.6 L349.5,416.0 L350.0,416.0 L350.5,416.2 L351.0,416.1 L351.5,416.3 L352.0,416.3 L352.5,416.2 L353.0,416.3 L353.5,416.4 L354.0,416.1 L354.5,416.2 L355.0,416.2 L355.5,416.3 L356.0,416.3 L356.5,416.1 L357.0,416.1 L357.5,415.4 L358.0,413.6 L358.5,414.2 L359.0,415.8 L359.5,416.2 L360.0,416.1 L360.5,416.2 L361.0,415.4 L361.5,412.2 L362.0,411.6 L362.5,415.1 L363.0,416.3 L363.5,416.4 L364.0,416.3 L364.5,416.5 L365.0,416.4 L365.5,416.5 L366.0,416.5 L366.5,416.5 L367.0,416.4 L367.5,416.3 L368.0,416.5 L368.5,416.3 L369.0,416.3 L369.5,416.5 L370.0,416.3 L370.5,416.0 L371.0,415.1 L371.5,414.5 L372.0,415.6 L372.5,415.9 L373.0,415.4 L373.5,413.8 L374.0,403.5 L374.5,387.2 L375.0,401.8 L375.5,412.8 L376.0,412.2 L376.5,403.2 L377.0,401.6 L377.5,411.8 L378.0,415.2 L378.5,415.4 L379.0,414.1 L379.5,406.7 L380.0,397.5 L380.5,408.3 L381.0,414.9 L381.5,415.9 L382.0,416.3 L382.5,416.5 L383.0,416.4 L383.5,416.3 L384.0,416.4 L384.5,415.8 L385.0,412.5 L385.5,409.9 L386.0,414.0 L386.5,416.3 L387.0,416.7 L387.5,416.5 L388.0,416.6 L388.5,416.6 L389.0,416.6 L389.6,416.6 L390.1,416.7 L390.6,416.6 L391.1,416.6 L391.6,415.9 L392.1,415.9 L392.6,416.7 L393.1,416.8 L393.6,416.7 L394.1,416.7 L394.6,416.9 L395.1,416.7 L395.6,416.8 L396.1,416.7 L396.6,416.9 L397.1,416.9 L397.6,416.9 L398.1,416.9 L398.6,416.8 L399.1,416.8 L399.6,416.8 L400.1,416.8 L400.6,416.8 L401.1,416.8 L401.6,416.9 L402.1,416.8 L402.6,417.0 L403.1,417.0 L403.6,417.1 L404.1,417.0 L404.6,416.8 L405.1,417.0 L405.6,417.0 L406.1,417.0 L406.6,417.0 L407.1,417.0 L407.6,416.9 L408.1,416.3 L408.6,415.5 L409.1,416.2 L409.6,416.7 L410.1,416.7 L410.6,415.5 L411.1,411.6 L411.6,411.0 L412.1,415.3 L412.6,416.6 L413.1,416.8 L413.6,416.8 L414.1,417.0 L414.6,417.0 L415.1,416.9 L415.6,416.9 L416.1,417.0 L416.6,417.1 L417.1,416.9 L417.6,417.1 L418.1,417.2 L418.6,417.1 L419.1,417.1 L419.6,417.0 L420.1,417.1 L420.6,416.6 L421.1,415.7 L421.6,415.7 L422.1,416.6 L422.6,416.9 L423.1,416.9 L423.6,417.1 L424.1,417.2 L424.6,417.1 L425.1,416.9 L425.6,417.2 L426.1,417.2 L426.6,417.0 L427.1,417.0 L427.6,417.0 L428.1,417.0 L428.6,416.9 L429.1,416.5 L429.6,415.9 L430.1,416.6 L430.6,417.0 L431.1,417.0 L431.6,417.1 L432.1,417.1 L432.6,417.2 L433.1,417.0 L433.6,417.1 L434.1,417.1 L434.6,417.2 L435.1,417.1 L435.6,416.9 L436.1,416.6 L436.6,416.5 L437.1,417.0 L437.6,417.1 L438.1,417.1 L438.6,417.3 L439.1,417.0 L439.6,417.1 L440.1,417.0 L440.6,416.9 L441.1,417.1 L441.6,416.7 L442.1,414.5 L442.6,409.7 L443.1,412.0 L443.6,416.0 L444.1,417.0 L444.6,417.1 L445.1,417.1 L445.6,417.2 L446.1,417.3 L446.6,417.1 L447.1,417.0 L447.6,417.2 L448.1,416.8 L448.6,415.6 L449.1,413.7 L449.6,415.6 L450.1,416.7 L450.6,416.8 L451.1,416.0 L451.6,416.0 L452.1,416.9 L452.6,417.1 L453.1,417.2 L453.6,416.9 L454.1,416.8 L454.6,415.9 L455.1,411.5 L455.6,410.1 L456.1,415.0 L456.6,416.9 L457.1,417.0 L457.6,417.2 L458.1,417.2 L458.6,417.1 L459.1,416.6 L459.6,414.0 L460.1,412.8 L460.6,415.6 L461.1,416.9 L461.6,417.0 L462.1,417.0 L462.6,417.0 L463.1,415.5 L463.6,413.6 L464.1,415.5 L464.6,416.9 L465.1,417.2 L465.6,417.3 L466.1,417.1 L466.6,416.1 L467.1,413.6 L467.6,414.8 L468.1,416.9 L468.6,417.2 L469.1,417.1 L469.6,417.2 L470.1,417.2 L470.6,417.1 L471.1,417.2 L471.6,416.0 L472.1,413.1 L472.6,414.3 L473.1,416.6 L473.6,417.1 L474.1,417.2 L474.6,417.3 L475.1,417.5 L475.6,417.3 L476.1,417.4 L476.6,417.4 L477.1,417.2 L477.6,416.7 L478.1,416.9 L478.6,417.3 L479.1,417.3 L479.6,417.3 L480.1,417.5 L480.6,417.4 L481.1,417.4 L481.6,417.5 L482.1,417.3 L482.6,417.5 L483.1,417.5 L483.6,417.4 L484.1,416.6 L484.6,416.1 L485.1,417.1 L485.6,417.5 L486.1,417.4 L486.6,417.4 L487.1,417.4 L487.6,417.4 L488.1,417.5 L488.6,417.5 L489.1,417.2 L489.6,416.5 L490.1,416.2 L490.6,417.2 L491.1,417.3 L491.6,417.4 L492.1,417.5 L492.6,417.6 L493.1,417.6 L493.6,417.4 L494.1,417.1 L494.6,416.7 L495.1,417.2 L495.6,417.5 L496.1,417.6 L496.6,417.6 L497.1,417.6 L497.6,417.5 L498.1,417.4 L498.6,417.5 L499.1,417.5 L499.6,417.6 L500.1,417.7 L500.6,417.7 L501.1,417.7 L501.6,417.6 L502.1,417.5 L502.6,417.7 L503.1,417.6" stroke="#22a5a5" stroke-width="1.2" fill="none" stroke-linejoin="round"/>
<text x="454.6" y="401.4" font-size="7.4" font-weight="bold" fill="#111" stroke="#111" stroke-width="0.15" textLength="37.0" lengthAdjust="spacingAndGlyphs">W:EG 40:60</text>
<path d="M436.9,399.0H452.4" stroke="#22a5a5" stroke-width="1.4"/>
<path d="M276.0,446.1 L276.5,446.0 L277.0,445.9 L277.5,445.9 L278.0,446.1 L278.5,445.8 L279.0,445.2 L279.5,443.4 L280.0,444.2 L280.5,446.0 L281.0,446.3 L281.5,446.1 L282.0,446.5 L282.5,446.4 L283.0,446.3 L283.5,446.5 L284.0,446.4 L284.5,446.5 L285.0,446.5 L285.5,446.6 L286.0,446.5 L286.5,446.8 L287.0,446.6 L287.5,446.7 L288.0,446.7 L288.5,446.9 L289.0,446.8 L289.5,446.9 L290.0,446.8 L290.5,447.0 L291.0,447.0 L291.5,447.1 L292.0,447.1 L292.5,447.0 L293.0,447.1 L293.5,447.2 L294.0,447.3 L294.5,447.1 L295.0,447.2 L295.5,447.3 L296.0,447.2 L296.5,447.5 L297.0,447.4 L297.5,447.4 L298.0,447.3 L298.5,447.4 L299.0,447.5 L299.5,447.4 L300.0,447.7 L300.5,447.6 L301.0,447.6 L301.5,447.7 L302.0,447.8 L302.5,447.6 L303.0,447.6 L303.5,447.7 L304.0,447.7 L304.5,447.8 L305.0,448.0 L305.5,447.7 L306.0,447.8 L306.5,447.3 L307.0,446.6 L307.5,447.3 L308.0,447.9 L308.5,448.1 L309.0,448.0 L309.5,448.1 L310.0,448.0 L310.5,448.1 L311.0,448.0 L311.5,448.2 L312.0,448.2 L312.5,448.2 L313.0,448.3 L313.5,448.3 L314.0,448.2 L314.5,448.3 L315.0,448.4 L315.5,448.0 L316.0,447.6 L316.5,448.2 L317.0,448.4 L317.5,448.3 L318.0,448.5 L318.5,448.5 L319.0,448.4 L319.5,448.4 L320.0,448.4 L320.5,448.7 L321.0,448.5 L321.5,448.6 L322.0,448.4 L322.5,448.4 L323.0,448.6 L323.5,448.5 L324.0,448.6 L324.5,448.6 L325.0,448.5 L325.5,448.7 L326.0,448.5 L326.5,448.5 L327.0,448.5 L327.5,448.7 L328.0,448.7 L328.5,448.5 L329.0,448.0 L329.5,447.2 L330.0,447.7 L330.5,448.6 L331.0,448.8 L331.5,448.8 L332.0,448.8 L332.5,448.7 L333.0,448.7 L333.5,448.7 L334.0,447.6 L334.5,446.1 L335.0,447.3 L335.5,448.6 L336.0,448.7 L336.5,448.9 L337.0,448.9 L337.5,449.0 L338.0,448.9 L338.5,448.8 L339.0,449.0 L339.5,448.9 L340.0,448.7 L340.5,448.9 L341.0,448.9 L341.5,448.8 L342.0,449.0 L342.5,448.9 L343.0,449.0 L343.5,448.9 L344.0,448.9 L344.5,448.9 L345.0,448.9 L345.5,448.8 L346.0,448.5 L346.5,448.3 L347.0,445.6 L347.5,437.2 L348.0,437.8 L348.5,446.2 L349.0,448.2 L349.5,448.8 L350.0,448.8 L350.5,448.8 L351.0,449.0 L351.5,449.1 L352.0,449.0 L352.5,449.0 L353.0,449.0 L353.5,449.1 L354.0,449.0 L354.5,449.0 L355.0,449.1 L355.5,448.9 L356.0,449.1 L356.5,449.1 L357.0,449.0 L357.5,448.2 L358.0,446.2 L358.5,446.8 L359.0,448.6 L359.5,448.9 L360.0,448.9 L360.5,449.0 L361.0,448.1 L361.5,445.6 L362.0,444.7 L362.5,447.8 L363.0,448.8 L363.5,448.9 L364.0,449.1 L364.5,449.1 L365.0,449.0 L365.5,449.1 L366.0,449.2 L366.5,449.1 L367.0,449.0 L367.5,449.1 L368.0,449.2 L368.5,449.2 L369.0,449.0 L369.5,449.0 L370.0,449.1 L370.5,449.1 L371.0,449.2 L371.5,448.9 L372.0,448.7 L372.5,448.6 L373.0,448.1 L373.5,446.4 L374.0,435.7 L374.5,418.9 L375.0,434.0 L375.5,445.4 L376.0,444.6 L376.5,434.9 L377.0,433.3 L377.5,444.5 L378.0,447.8 L378.5,447.9 L379.0,446.8 L379.5,438.8 L380.0,429.2 L380.5,440.6 L381.0,447.5 L381.5,448.8 L382.0,448.9 L382.5,449.1 L383.0,449.0 L383.5,449.1 L384.0,449.1 L384.5,448.4 L385.0,445.4 L385.5,442.5 L386.0,446.9 L386.5,449.0 L387.0,449.1 L387.5,449.2 L388.0,449.3 L388.5,449.4 L389.0,449.5 L389.6,449.5 L390.1,449.4 L390.6,449.4 L391.1,449.2 L391.6,448.5 L392.1,448.7 L392.6,449.1 L393.1,449.5 L393.6,449.4 L394.1,449.5 L394.6,449.6 L395.1,449.6 L395.6,449.7 L396.1,449.5 L396.6,449.7 L397.1,449.7 L397.6,449.7 L398.1,449.6 L398.6,449.6 L399.1,449.8 L399.6,449.7 L400.1,449.7 L400.6,449.5 L401.1,449.6 L401.6,449.6 L402.1,449.6 L402.6,449.7 L403.1,449.6 L403.6,449.7 L404.1,449.8 L404.6,449.7 L405.1,449.6 L405.6,449.7 L406.1,449.8 L406.6,449.6 L407.1,449.8 L407.6,449.7 L408.1,449.2 L408.6,448.3 L409.1,448.9 L409.6,449.5 L410.1,449.3 L410.6,448.4 L411.1,443.8 L411.6,442.9 L412.1,447.9 L412.6,449.3 L413.1,449.6 L413.6,449.7 L414.1,449.8 L414.6,449.9 L415.1,449.7 L415.6,449.7 L416.1,449.7 L416.6,449.9 L417.1,449.9 L417.6,450.0 L418.1,449.9 L418.6,449.8 L419.1,449.9 L419.6,449.8 L420.1,449.7 L420.6,449.5 L421.1,448.6 L421.6,448.6 L422.1,449.6 L422.6,449.9 L423.1,449.8 L423.6,449.8 L424.1,449.8 L424.6,449.9 L425.1,450.1 L425.6,450.0 L426.1,450.0 L426.6,449.9 L427.1,450.0 L427.6,450.0 L428.1,449.9 L428.6,449.9 L429.1,449.3 L429.6,448.6 L430.1,449.5 L430.6,449.9 L431.1,450.1 L431.6,450.1 L432.1,450.0 L432.6,450.2 L433.1,450.1 L433.6,450.1 L434.1,450.1 L434.6,450.2 L435.1,450.1 L435.6,449.9 L436.1,449.5 L436.6,449.4 L437.1,449.9 L437.6,450.2 L438.1,450.1 L438.6,450.0 L439.1,450.1 L439.6,450.1 L440.1,450.0 L440.6,450.2 L441.1,449.8 L441.6,449.6 L442.1,447.3 L442.6,441.6 L443.1,444.5 L443.6,449.1 L444.1,449.9 L444.6,450.1 L445.1,450.2 L445.6,450.0 L446.1,450.2 L446.6,450.0 L447.1,450.0 L447.6,450.2 L448.1,450.0 L448.6,448.6 L449.1,446.6 L449.6,448.7 L450.1,449.8 L450.6,449.7 L451.1,449.1 L451.6,449.0 L452.1,449.8 L452.6,450.2 L453.1,450.1 L453.6,450.0 L454.1,449.8 L454.6,448.5 L455.1,442.9 L455.6,441.0 L456.1,447.5 L456.6,449.6 L457.1,450.0 L457.6,450.1 L458.1,450.2 L458.6,450.2 L459.1,449.8 L459.6,447.1 L460.1,445.7 L460.6,448.9 L461.1,450.1 L461.6,450.3 L462.1,450.2 L462.6,449.9 L463.1,448.7 L463.6,446.5 L464.1,448.5 L464.6,450.0 L465.1,450.2 L465.6,450.2 L466.1,450.2 L466.6,449.1 L467.1,446.8 L467.6,447.8 L468.1,449.9 L468.6,450.3 L469.1,450.4 L469.6,450.6 L470.1,450.4 L470.6,450.3 L471.1,450.3 L471.6,449.2 L472.1,446.4 L472.6,447.5 L473.1,449.9 L473.6,450.3 L474.1,450.5 L474.6,450.5 L475.1,450.5 L475.6,450.5 L476.1,450.5 L476.6,450.7 L477.1,450.4 L477.6,449.9 L478.1,450.1 L478.6,450.5 L479.1,450.7 L479.6,450.8 L480.1,450.7 L480.6,450.6 L481.1,450.7 L481.6,450.7 L482.1,450.8 L482.6,450.8 L483.1,450.8 L483.6,450.4 L484.1,450.0 L484.6,449.4 L485.1,450.3 L485.6,450.7 L486.1,450.8 L486.6,450.7 L487.1,450.9 L487.6,450.7 L488.1,450.7 L488.6,450.7 L489.1,450.5 L489.6,449.8 L490.1,449.7 L490.6,450.4 L491.1,450.7 L491.6,450.8 L492.1,450.8 L492.6,450.8 L493.1,450.8 L493.6,450.8 L494.1,450.4 L494.6,450.2 L495.1,450.7 L495.6,450.8 L496.1,450.8 L496.6,450.9 L497.1,450.8 L497.6,451.0 L498.1,451.0 L498.6,451.0 L499.1,450.8 L499.6,451.0 L500.1,450.9 L500.6,450.8 L501.1,451.1 L501.6,451.0 L502.1,450.9 L502.6,451.0 L503.1,451.0" stroke="#2ab2de" stroke-width="1.2" fill="none" stroke-linejoin="round"/>
<text x="454.6" y="433.4" font-size="7.4" font-weight="bold" fill="#111" stroke="#111" stroke-width="0.15" textLength="37.0" lengthAdjust="spacingAndGlyphs">W:EG 60:40</text>
<path d="M436.9,431.0H452.4" stroke="#2ab2de" stroke-width="1.4"/>
<path d="M276.0,477.4 L276.5,477.2 L277.0,477.4 L277.5,477.2 L278.0,477.2 L278.5,477.2 L279.0,476.8 L279.5,475.5 L280.0,476.2 L280.5,477.2 L281.0,477.6 L281.5,477.6 L282.0,477.6 L282.5,477.7 L283.0,477.9 L283.5,477.7 L284.0,477.7 L284.5,477.7 L285.0,477.9 L285.5,477.8 L286.0,478.0 L286.5,478.0 L287.0,478.0 L287.5,477.9 L288.0,478.0 L288.5,478.2 L289.0,478.2 L289.5,478.3 L290.0,478.2 L290.5,478.4 L291.0,478.1 L291.5,478.3 L292.0,478.3 L292.5,478.3 L293.0,478.4 L293.5,478.5 L294.0,478.4 L294.5,478.6 L295.0,478.6 L295.5,478.5 L296.0,478.6 L296.5,478.7 L297.0,478.8 L297.5,478.6 L298.0,478.7 L298.5,478.8 L299.0,479.0 L299.5,478.9 L300.0,478.9 L300.5,478.9 L301.0,478.9 L301.5,478.9 L302.0,478.9 L302.5,478.9 L303.0,479.2 L303.5,479.0 L304.0,479.2 L304.5,479.2 L305.0,479.1 L305.5,479.1 L306.0,479.1 L306.5,478.8 L307.0,477.9 L307.5,478.6 L308.0,479.3 L308.5,479.2 L309.0,479.5 L309.5,479.5 L310.0,479.4 L310.5,479.5 L311.0,479.5 L311.5,479.5 L312.0,479.6 L312.5,479.8 L313.0,479.6 L313.5,479.7 L314.0,479.6 L314.5,479.8 L315.0,479.6 L315.5,479.3 L316.0,478.9 L316.5,479.6 L317.0,479.7 L317.5,479.8 L318.0,479.9 L318.5,479.8 L319.0,480.0 L319.5,480.1 L320.0,479.8 L320.5,480.1 L321.0,480.0 L321.5,480.1 L322.0,479.9 L322.5,479.9 L323.0,480.2 L323.5,480.0 L324.0,480.2 L324.5,480.0 L325.0,480.2 L325.5,480.2 L326.0,480.0 L326.5,480.2 L327.0,480.1 L327.5,480.2 L328.0,480.0 L328.5,480.1 L329.0,479.6 L329.5,478.5 L330.0,479.2 L330.5,480.2 L331.0,480.1 L331.5,480.3 L332.0,480.2 L332.5,480.2 L333.0,480.3 L333.5,480.1 L334.0,479.2 L334.5,477.6 L335.0,478.9 L335.5,479.9 L336.0,480.2 L336.5,480.4 L337.0,480.3 L337.5,480.4 L338.0,480.5 L338.5,480.3 L339.0,480.3 L339.5,480.5 L340.0,480.5 L340.5,480.5 L341.0,480.6 L341.5,480.5 L342.0,480.5 L342.5,480.5 L343.0,480.3 L343.5,480.6 L344.0,480.4 L344.5,480.4 L345.0,480.3 L345.5,480.5 L346.0,480.4 L346.5,479.9 L347.0,477.2 L347.5,468.8 L348.0,469.5 L348.5,477.7 L349.0,479.9 L349.5,480.5 L350.0,480.5 L350.5,480.4 L351.0,480.7 L351.5,480.6 L352.0,480.5 L352.5,480.5 L353.0,480.6 L353.5,480.7 L354.0,480.8 L354.5,480.7 L355.0,480.9 L355.5,480.8 L356.0,480.8 L356.5,480.7 L357.0,480.5 L357.5,479.8 L358.0,477.9 L358.5,478.4 L359.0,480.2 L359.5,480.6 L360.0,480.6 L360.5,480.6 L361.0,479.9 L361.5,477.0 L362.0,476.4 L362.5,479.4 L363.0,480.6 L363.5,480.6 L364.0,480.7 L364.5,480.8 L365.0,480.7 L365.5,480.8 L366.0,480.9 L366.5,480.8 L367.0,480.9 L367.5,480.9 L368.0,480.9 L368.5,480.8 L369.0,480.9 L369.5,480.7 L370.0,481.0 L370.5,480.7 L371.0,480.7 L371.5,480.9 L372.0,480.6 L372.5,480.3 L373.0,479.9 L373.5,478.2 L374.0,467.9 L374.5,451.7 L375.0,466.3 L375.5,477.3 L376.0,476.5 L376.5,465.9 L377.0,464.3 L377.5,476.0 L378.0,479.7 L378.5,479.9 L379.0,478.9 L379.5,471.2 L380.0,462.1 L380.5,472.8 L381.0,479.5 L381.5,480.5 L382.0,480.7 L382.5,480.9 L383.0,481.0 L383.5,480.9 L384.0,480.8 L384.5,480.1 L385.0,477.1 L385.5,474.3 L386.0,478.5 L386.5,480.5 L387.0,481.1 L387.5,481.2 L388.0,481.1 L388.5,481.1 L389.0,481.2 L389.6,481.2 L390.1,481.1 L390.6,481.1 L391.1,481.1 L391.6,480.6 L392.1,480.3 L392.6,481.1 L393.1,481.3 L393.6,481.3 L394.1,481.4 L394.6,481.2 L395.1,481.4 L395.6,481.3 L396.1,481.4 L396.6,481.4 L397.1,481.5 L397.6,481.5 L398.1,481.3 L398.6,481.3 L399.1,481.5 L399.6,481.5 L400.1,481.4 L400.6,481.4 L401.1,481.5 L401.6,481.4 L402.1,481.6 L402.6,481.5 L403.1,481.4 L403.6,481.3 L404.1,481.4 L404.6,481.5 L405.1,481.5 L405.6,481.6 L406.1,481.5 L406.6,481.5 L407.1,481.4 L407.6,481.5 L408.1,481.0 L408.6,480.0 L409.1,480.8 L409.6,481.2 L410.1,481.1 L410.6,480.1 L411.1,476.3 L411.6,475.6 L412.1,479.9 L412.6,481.1 L413.1,481.4 L413.6,481.6 L414.1,481.5 L414.6,481.6 L415.1,481.7 L415.6,481.5 L416.1,481.7 L416.6,481.7 L417.1,481.6 L417.6,481.7 L418.1,481.6 L418.6,481.7 L419.1,481.6 L419.6,481.5 L420.1,481.7 L420.6,481.4 L421.1,480.6 L421.6,480.2 L422.1,481.3 L422.6,481.7 L423.1,481.6 L423.6,481.7 L424.1,481.8 L424.6,481.8 L425.1,481.9 L425.6,481.6 L426.1,481.7 L426.6,481.8 L427.1,481.8 L427.6,481.8 L428.1,481.8 L428.6,481.7 L429.1,481.1 L429.6,480.4 L430.1,481.2 L430.6,481.7 L431.1,481.7 L431.6,481.8 L432.1,481.7 L432.6,481.8 L433.1,481.7 L433.6,481.9 L434.1,481.9 L434.6,481.6 L435.1,481.8 L435.6,481.7 L436.1,481.3 L436.6,481.1 L437.1,481.7 L437.6,481.7 L438.1,481.7 L438.6,481.7 L439.1,481.9 L439.6,481.9 L440.1,481.7 L440.6,481.7 L441.1,481.6 L441.6,481.3 L442.1,479.3 L442.6,474.3 L443.1,477.0 L443.6,480.6 L444.1,481.4 L444.6,481.8 L445.1,481.8 L445.6,481.8 L446.1,481.9 L446.6,482.0 L447.1,482.0 L447.6,481.7 L448.1,481.4 L448.6,480.0 L449.1,478.3 L449.6,480.4 L450.1,481.7 L450.6,481.7 L451.1,480.9 L451.6,480.7 L452.1,481.5 L452.6,481.8 L453.1,481.9 L453.6,481.9 L454.1,481.7 L454.6,480.6 L455.1,476.0 L455.6,474.4 L456.1,479.6 L456.6,481.5 L457.1,481.8 L457.6,481.8 L458.1,481.7 L458.6,481.9 L459.1,481.3 L459.6,478.8 L460.1,477.4 L460.6,480.3 L461.1,481.7 L461.6,482.0 L462.1,481.7 L462.6,481.6 L463.1,480.2 L463.6,478.3 L464.1,480.1 L464.6,481.7 L465.1,482.0 L465.6,481.9 L466.1,481.9 L466.6,480.9 L467.1,478.2 L467.6,479.5 L468.1,481.6 L468.6,482.0 L469.1,482.1 L469.6,482.2 L470.1,482.0 L470.6,482.1 L471.1,481.8 L471.6,480.6 L472.1,477.9 L472.6,479.1 L473.1,481.6 L473.6,482.0 L474.1,482.2 L474.6,482.0 L475.1,482.3 L475.6,482.2 L476.1,482.0 L476.6,482.1 L477.1,481.9 L477.6,481.3 L478.1,481.7 L478.6,482.3 L479.1,482.2 L479.6,482.1 L480.1,482.1 L480.6,482.3 L481.1,482.4 L481.6,482.2 L482.1,482.3 L482.6,482.2 L483.1,482.1 L483.6,482.3 L484.1,481.4 L484.6,481.1 L485.1,481.9 L485.6,482.3 L486.1,482.3 L486.6,482.3 L487.1,482.2 L487.6,482.2 L488.1,482.4 L488.6,482.3 L489.1,482.1 L489.6,481.4 L490.1,481.1 L490.6,482.1 L491.1,482.4 L491.6,482.2 L492.1,482.5 L492.6,482.4 L493.1,482.4 L493.6,482.3 L494.1,481.9 L494.6,481.6 L495.1,482.1 L495.6,482.3 L496.1,482.5 L496.6,482.5 L497.1,482.6 L497.6,482.4 L498.1,482.3 L498.6,482.5 L499.1,482.5 L499.6,482.4 L500.1,482.5 L500.6,482.6 L501.1,482.4 L501.6,482.3 L502.1,482.6 L502.6,482.5 L503.1,482.6" stroke="#36c4dc" stroke-width="1.2" fill="none" stroke-linejoin="round"/>
<text x="454.6" y="469.8" font-size="7.4" font-weight="bold" fill="#111" stroke="#111" stroke-width="0.15" textLength="37.0" lengthAdjust="spacingAndGlyphs">W:EG 80:20</text>
<path d="M436.9,467.3H452.4" stroke="#36c4dc" stroke-width="1.4"/>
<path d="M276.0,522.5V285.5" stroke="#808080" stroke-width="1.15" fill="none"/>
<path d="M503.1,285.5V522.5" stroke="#555" stroke-width="1.15" fill="none"/>
<path d="M275.5,285.5H503.6" stroke="#3a3a3a" stroke-width="1.15" fill="none"/>
<path d="M276.0,518.3H503.1" stroke="#222" stroke-width="1.1" fill="none"/>
<path d="M276.0,518.3V522.5M287.4,518.3V520.5M298.7,518.3V522.5M310.1,518.3V520.5M321.4,518.3V522.5M332.8,518.3V520.5M344.1,518.3V522.5M355.5,518.3V520.5M366.8,518.3V522.5M378.2,518.3V520.5M389.6,518.3V522.5M400.9,518.3V520.5M412.3,518.3V522.5M423.6,518.3V520.5M435.0,518.3V522.5M446.3,518.3V520.5M457.7,518.3V522.5M469.0,518.3V520.5M480.4,518.3V522.5M491.7,518.3V520.5M503.1,518.3V522.5" stroke="#333" stroke-width="1" fill="none"/>
<text x="272.1" y="531.7" font-size="8.2" font-weight="bold" fill="#111" stroke="#111" stroke-width="0.1" textLength="7.7" lengthAdjust="spacingAndGlyphs">10</text>
<text x="294.9" y="531.7" font-size="8.2" font-weight="bold" fill="#111" stroke="#111" stroke-width="0.1" textLength="7.7" lengthAdjust="spacingAndGlyphs">15</text>
<text x="317.6" y="531.7" font-size="8.2" font-weight="bold" fill="#111" stroke="#111" stroke-width="0.1" textLength="7.7" lengthAdjust="spacingAndGlyphs">20</text>
<text x="340.3" y="531.7" font-size="8.2" font-weight="bold" fill="#111" stroke="#111" stroke-width="0.1" textLength="7.7" lengthAdjust="spacingAndGlyphs">25</text>
<text x="363.0" y="531.7" font-size="8.2" font-weight="bold" fill="#111" stroke="#111" stroke-width="0.1" textLength="7.7" lengthAdjust="spacingAndGlyphs">30</text>
<text x="385.7" y="531.7" font-size="8.2" font-weight="bold" fill="#111" stroke="#111" stroke-width="0.1" textLength="7.7" lengthAdjust="spacingAndGlyphs">35</text>
<text x="408.4" y="531.7" font-size="8.2" font-weight="bold" fill="#111" stroke="#111" stroke-width="0.1" textLength="7.7" lengthAdjust="spacingAndGlyphs">40</text>
<text x="431.1" y="531.7" font-size="8.2" font-weight="bold" fill="#111" stroke="#111" stroke-width="0.1" textLength="7.7" lengthAdjust="spacingAndGlyphs">45</text>
<text x="453.8" y="531.7" font-size="8.2" font-weight="bold" fill="#111" stroke="#111" stroke-width="0.1" textLength="7.7" lengthAdjust="spacingAndGlyphs">50</text>
<text x="476.5" y="531.7" font-size="8.2" font-weight="bold" fill="#111" stroke="#111" stroke-width="0.1" textLength="7.7" lengthAdjust="spacingAndGlyphs">55</text>
<text x="499.2" y="531.7" font-size="8.2" font-weight="bold" fill="#111" stroke="#111" stroke-width="0.1" textLength="7.7" lengthAdjust="spacingAndGlyphs">60</text>
<text x="281.9" y="297.6" font-size="9.3" font-weight="bold" fill="#111" stroke="#111" stroke-width="0.2">d</text>
<text x="409.8" y="301.3" font-size="6.85" font-weight="bold" fill="#111" stroke="#111" stroke-width="0.2" textLength="79.1" lengthAdjust="spacingAndGlyphs"><tspan font-family="Liberation Serif, serif" font-weight="normal" fill="#444" stroke="none" font-size="7">α</tspan>-TCP ICDD 00-070-0364</text>
<text x="422.3" y="501.2" font-size="6.6" font-weight="bold" fill="#111" stroke="#111" stroke-width="0.2" textLength="67.7" lengthAdjust="spacingAndGlyphs">HAp ICDD 00-76-0694</text>
<text x="365.6" y="541.6" font-size="8.5" font-weight="bold" fill="#111" stroke="#111" stroke-width="0.25" textLength="51.9" lengthAdjust="spacingAndGlyphs">2 theta (deg.)</text>
<text transform="translate(270.8,421.6) rotate(-90)" font-size="8.3" font-weight="bold" fill="#111" stroke="#111" stroke-width="0.25" textLength="37.1" lengthAdjust="spacingAndGlyphs">Intensity</text>
<path d="M281.9,362.1l1.9,2.4l-1.9,2.4l-1.9,-2.4z" fill="#2aa3a3"/>
<text x="287.1" y="366.8" font-size="9.8" fill="#111" stroke="#111" stroke-width="0.14" textLength="24.4" lengthAdjust="spacingAndGlyphs"><tspan fill="#555" stroke="#555" stroke-width="0.1" font-family="Liberation Serif, serif" font-size="9.5">β</tspan>-TCP</text>
<path d="M370.7,360.8l1.9,2.4l-1.9,2.4l-1.9,-2.4z" fill="#2aa3a3"/>
<path d="M281.9,395.8l1.9,2.4l-1.9,2.4l-1.9,-2.4z" fill="#2aa3a3"/>
<text x="287.1" y="400.5" font-size="9.8" fill="#111" stroke="#111" stroke-width="0.14" textLength="24.4" lengthAdjust="spacingAndGlyphs"><tspan fill="#555" stroke="#555" stroke-width="0.1" font-family="Liberation Serif, serif" font-size="9.5">β</tspan>-TCP</text>
<path d="M369.7,408.6l1.9,2.4l-1.9,2.4l-1.9,-2.4z" fill="#2aa3a3"/>
</svg>
</body></html>
